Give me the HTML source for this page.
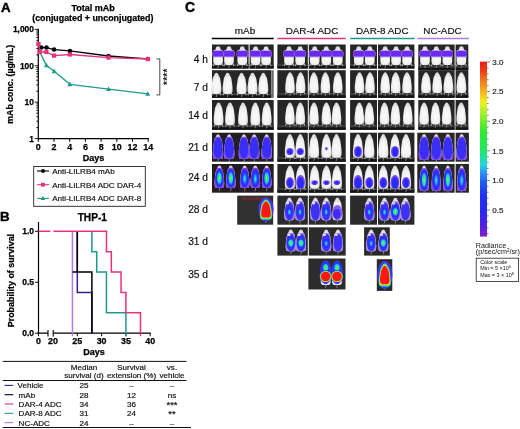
<!DOCTYPE html>
<html lang="en"><head><meta charset="utf-8"><title>Figure</title>
<style>html,body{margin:0;padding:0;background:#fff;}body{width:520px;height:429px;overflow:hidden;}svg{display:block;font-family:"Liberation Sans", Arial, Helvetica, sans-serif;}</style></head><body>
<svg width="520" height="429" viewBox="0 0 520 429">
<defs>
<filter id="b3" x="-20%" y="-20%" width="140%" height="140%"><feGaussianBlur stdDeviation="0.45"/></filter>
<filter id="b5" x="-20%" y="-20%" width="140%" height="140%"><feGaussianBlur stdDeviation="0.6"/></filter>
<filter id="b6" x="-30%" y="-30%" width="160%" height="160%"><feGaussianBlur stdDeviation="0.7"/></filter>
<filter id="b10" x="-30%" y="-30%" width="160%" height="160%"><feGaussianBlur stdDeviation="1.0"/></filter>
<filter id="tb" x="-5%" y="-5%" width="110%" height="110%"><feGaussianBlur stdDeviation="0.25"/></filter>
<linearGradient id="cbar" x1="0" y1="0" x2="0" y2="1"><stop offset="0" stop-color="#e8201a"/><stop offset="0.05" stop-color="#ee3a1a"/><stop offset="0.1" stop-color="#f07020"/><stop offset="0.175" stop-color="#f5b820"/><stop offset="0.23" stop-color="#f0f020"/><stop offset="0.3" stop-color="#a0f030"/><stop offset="0.4" stop-color="#30e830"/><stop offset="0.5" stop-color="#20e860"/><stop offset="0.55" stop-color="#20e0a0"/><stop offset="0.59" stop-color="#28d4e0"/><stop offset="0.637" stop-color="#3090f0"/><stop offset="0.685" stop-color="#2060f0"/><stop offset="0.767" stop-color="#2030f0"/><stop offset="0.85" stop-color="#2828f0"/><stop offset="0.935" stop-color="#5020e0"/><stop offset="1" stop-color="#8020d0"/></linearGradient>
<radialGradient id="gRed"><stop offset="0" stop-color="#ff1010"/><stop offset="0.48" stop-color="#ff1010"/><stop offset="0.58" stop-color="#ffe020"/><stop offset="0.68" stop-color="#40f040"/><stop offset="0.78" stop-color="#20d8f0"/><stop offset="0.9" stop-color="#2030ff"/><stop offset="1" stop-color="#6a20e0"/></radialGradient>
<radialGradient id="gGreen"><stop offset="0" stop-color="#b0f030"/><stop offset="0.25" stop-color="#30f060"/><stop offset="0.5" stop-color="#20d0f0"/><stop offset="0.75" stop-color="#2040ff"/><stop offset="1" stop-color="#2a28f0"/></radialGradient>
<radialGradient id="gCyan"><stop offset="0" stop-color="#30f0c0"/><stop offset="0.35" stop-color="#20b0f8"/><stop offset="0.7" stop-color="#2040ff"/><stop offset="1" stop-color="#2a28f0"/></radialGradient>
<radialGradient id="gBlue"><stop offset="0" stop-color="#2060ff"/><stop offset="0.6" stop-color="#2a2cff"/><stop offset="1" stop-color="#5a28e8"/></radialGradient>
<radialGradient id="gBody" cx="0.5" cy="0.6" r="0.62"><stop offset="0" stop-color="#fbfbfb"/><stop offset="0.6" stop-color="#f1f1f1"/><stop offset="1" stop-color="#cfcfcf"/></radialGradient>
</defs>
<rect x="0" y="0" width="520" height="429" fill="#fff"/>
<g id="panelA">
<text x="0.90" y="11.60" font-size="13.3" font-weight="bold" text-anchor="start" fill="#000" stroke="#000" stroke-width="0.4">A</text>
<text x="93.20" y="11.10" font-size="9.0" font-weight="bold" text-anchor="middle" fill="#000" stroke="#000" stroke-width="0.25">Total mAb</text>
<text x="92.80" y="21.10" font-size="8.85" font-weight="bold" text-anchor="middle" fill="#000" stroke="#000" stroke-width="0.25">(conjugated + unconjugated)</text>
<path d="M38.30,28.80 V139.20 M37.70,138.60 H148.80" stroke="#000" stroke-width="1.2" fill="none"/>
<path d="M34.70,138.60 H38.30 M36.30,127.64 H38.30 M36.30,121.23 H38.30 M36.30,116.69 H38.30 M36.30,113.16 H38.30 M36.30,110.28 H38.30 M36.30,107.84 H38.30 M36.30,105.73 H38.30 M36.30,103.87 H38.30 M34.70,102.20 H38.30 M36.30,91.24 H38.30 M36.30,84.83 H38.30 M36.30,80.29 H38.30 M36.30,76.76 H38.30 M36.30,73.88 H38.30 M36.30,71.44 H38.30 M36.30,69.33 H38.30 M36.30,67.47 H38.30 M34.70,65.80 H38.30 M36.30,54.84 H38.30 M36.30,48.43 H38.30 M36.30,43.89 H38.30 M36.30,40.36 H38.30 M36.30,37.48 H38.30 M36.30,35.04 H38.30 M36.30,32.93 H38.30 M36.30,31.07 H38.30 M34.70,29.40 H38.30" stroke="#000" stroke-width="0.9" fill="none"/>
<path d="M38.30,138.60 V141.80 M54.00,138.60 V141.80 M69.70,138.60 V141.80 M85.40,138.60 V141.80 M101.10,138.60 V141.80 M116.80,138.60 V141.80 M132.50,138.60 V141.80 M148.20,138.60 V141.80" stroke="#000" stroke-width="1.0" fill="none"/>
<text x="33.90" y="32.40" font-size="8.4" font-weight="bold" text-anchor="end" fill="#000" stroke="#000" stroke-width="0.25">1,000</text>
<text x="33.90" y="68.80" font-size="8.4" font-weight="bold" text-anchor="end" fill="#000" stroke="#000" stroke-width="0.25">100</text>
<text x="33.90" y="105.20" font-size="8.4" font-weight="bold" text-anchor="end" fill="#000" stroke="#000" stroke-width="0.25">10</text>
<text x="33.90" y="141.60" font-size="8.4" font-weight="bold" text-anchor="end" fill="#000" stroke="#000" stroke-width="0.25">1</text>
<text x="38.30" y="149.50" font-size="8.9" font-weight="bold" text-anchor="middle" fill="#000" stroke="#000" stroke-width="0.25">0</text>
<text x="54.00" y="149.50" font-size="8.9" font-weight="bold" text-anchor="middle" fill="#000" stroke="#000" stroke-width="0.25">2</text>
<text x="69.70" y="149.50" font-size="8.9" font-weight="bold" text-anchor="middle" fill="#000" stroke="#000" stroke-width="0.25">4</text>
<text x="85.40" y="149.50" font-size="8.9" font-weight="bold" text-anchor="middle" fill="#000" stroke="#000" stroke-width="0.25">6</text>
<text x="101.10" y="149.50" font-size="8.9" font-weight="bold" text-anchor="middle" fill="#000" stroke="#000" stroke-width="0.25">8</text>
<text x="116.80" y="149.50" font-size="8.9" font-weight="bold" text-anchor="middle" fill="#000" stroke="#000" stroke-width="0.25">10</text>
<text x="132.50" y="149.50" font-size="8.9" font-weight="bold" text-anchor="middle" fill="#000" stroke="#000" stroke-width="0.25">12</text>
<text x="148.20" y="149.50" font-size="8.9" font-weight="bold" text-anchor="middle" fill="#000" stroke="#000" stroke-width="0.25">14</text>
<text x="93.40" y="161.20" font-size="9.0" font-weight="bold" text-anchor="middle" fill="#000" stroke="#000" stroke-width="0.25">Days</text>
<text transform="translate(12.7,84.2) rotate(-90)" font-size="8.75" font-weight="bold" text-anchor="middle" fill="#000" stroke="#000" stroke-width="0.25">mAb conc. (µg/mL)</text>
<polyline points="39.8,52.0 46.4,65.4 54.1,71.3 69.9,84.3 108.5,89.2 147.8,93.9" fill="none" stroke="#1d9a8c" stroke-width="1.3" stroke-linejoin="round"/>
<path d="M46.4,62.7 L48.9,67.3 H43.9 Z" fill="#1d9a8c"/>
<path d="M54.1,68.6 L56.6,73.2 H51.6 Z" fill="#1d9a8c"/>
<path d="M69.9,81.6 L72.4,86.2 H67.4 Z" fill="#1d9a8c"/>
<path d="M108.5,86.5 L111.0,91.1 H106.0 Z" fill="#1d9a8c"/>
<path d="M147.8,91.2 L150.3,95.8 H145.3 Z" fill="#1d9a8c"/>
<polyline points="41.4,47.6 46.5,47.6 54.1,49.6 69.9,50.9 108.5,56.0 147.8,58.9" fill="none" stroke="#000" stroke-width="1.3" stroke-linejoin="round"/>
<circle cx="41.4" cy="47.6" r="2.25" fill="#000"/>
<circle cx="46.5" cy="47.6" r="2.25" fill="#000"/>
<circle cx="54.1" cy="49.6" r="2.25" fill="#000"/>
<circle cx="69.9" cy="50.9" r="2.25" fill="#000"/>
<circle cx="108.5" cy="56.0" r="2.25" fill="#000"/>
<circle cx="147.8" cy="58.9" r="2.25" fill="#000"/>
<polyline points="38.5,43.9 39.8,52.0 46.4,52.0 54.1,55.6 69.9,54.5 108.5,57.6 147.8,59.0" fill="none" stroke="#e6317e" stroke-width="1.3" stroke-linejoin="round"/>
<rect x="36.4" y="41.8" width="4.2" height="4.2" fill="#e6317e"/>
<rect x="37.7" y="49.9" width="4.2" height="4.2" fill="#e6317e"/>
<rect x="44.3" y="49.9" width="4.2" height="4.2" fill="#e6317e"/>
<rect x="52.0" y="53.5" width="4.2" height="4.2" fill="#e6317e"/>
<rect x="67.8" y="52.4" width="4.2" height="4.2" fill="#e6317e"/>
<rect x="106.4" y="55.5" width="4.2" height="4.2" fill="#e6317e"/>
<rect x="145.7" y="56.9" width="4.2" height="4.2" fill="#e6317e"/>
<path d="M156.4,58.9 H159.8 V94.9 H156.4" fill="none" stroke="#333" stroke-width="0.9"/>
<text transform="translate(171.0,76.7) rotate(-90)" font-size="10" font-weight="bold" text-anchor="middle" fill="#222" letter-spacing="0.2">****</text>
<rect x="33.7" y="166.5" width="111.6" height="39.8" fill="#fff" stroke="#222" stroke-width="0.9"/>
<path d="M37.0,171.0 H49.0" stroke="#000" stroke-width="1.1"/>
<circle cx="43.0" cy="171.0" r="2.0" fill="#000"/>
<text x="52.20" y="173.95" font-size="8.1" text-anchor="start" fill="#111" stroke="#111" stroke-width="0.18">Anti-LILRB4 mAb</text>
<path d="M37.0,184.7 H49.0" stroke="#e6317e" stroke-width="1.1"/>
<rect x="41.0" y="182.8" width="3.8" height="3.8" fill="#e6317e"/>
<text x="52.20" y="187.65" font-size="8.1" text-anchor="start" fill="#111" stroke="#111" stroke-width="0.18">Anti-LILRB4 ADC DAR-4</text>
<path d="M37.0,198.4 H49.0" stroke="#1d9a8c" stroke-width="1.1"/>
<path d="M42.9,196.0 L45.2,200.1 H40.6 Z" fill="#1d9a8c"/>
<text x="52.20" y="201.35" font-size="8.1" text-anchor="start" fill="#111" stroke="#111" stroke-width="0.18">Anti-LILRB4 ADC DAR-8</text>
</g>
<g id="panelB">
<text x="0.10" y="221.30" font-size="13.3" font-weight="bold" text-anchor="start" fill="#000" stroke="#000" stroke-width="0.4">B</text>
<text x="92.30" y="220.60" font-size="10.1" font-weight="bold" text-anchor="middle" fill="#000" stroke="#000" stroke-width="0.25">THP-1</text>
<path d="M38.5,222.0 V333.80" stroke="#000" stroke-width="1.2" fill="none"/>
<path d="M37.90,333.20 H48.0 M53.2,333.20 H150.80" stroke="#000" stroke-width="1.2" fill="none"/>
<path d="M48.0,330.00 V336.40 M53.2,330.00 V336.40" stroke="#000" stroke-width="1.1" fill="none"/>
<path d="M35.10,333.20 H38.50 M35.10,282.25 H38.50 M35.10,231.30 H38.50 M38.50,333.20 V336.20 M77.30,333.20 V336.20 M101.60,333.20 V336.20 M125.90,333.20 V336.20 M150.20,333.20 V336.20" stroke="#000" stroke-width="1.0" fill="none"/>
<text x="34.10" y="336.20" font-size="8.6" font-weight="bold" text-anchor="end" fill="#000" stroke="#000" stroke-width="0.25">0.0</text>
<text x="34.10" y="285.25" font-size="8.6" font-weight="bold" text-anchor="end" fill="#000" stroke="#000" stroke-width="0.25">0.5</text>
<text x="34.10" y="234.30" font-size="8.6" font-weight="bold" text-anchor="end" fill="#000" stroke="#000" stroke-width="0.25">1.0</text>
<text x="38.50" y="344.20" font-size="8.9" font-weight="bold" text-anchor="middle" fill="#000" stroke="#000" stroke-width="0.25">0</text>
<text x="53.00" y="344.20" font-size="8.9" font-weight="bold" text-anchor="middle" fill="#000" stroke="#000" stroke-width="0.25">20</text>
<text x="77.30" y="344.20" font-size="8.9" font-weight="bold" text-anchor="middle" fill="#000" stroke="#000" stroke-width="0.25">25</text>
<text x="101.60" y="344.20" font-size="8.9" font-weight="bold" text-anchor="middle" fill="#000" stroke="#000" stroke-width="0.25">30</text>
<text x="125.90" y="344.20" font-size="8.9" font-weight="bold" text-anchor="middle" fill="#000" stroke="#000" stroke-width="0.25">35</text>
<text x="150.20" y="344.20" font-size="8.9" font-weight="bold" text-anchor="middle" fill="#000" stroke="#000" stroke-width="0.25">40</text>
<text x="94.00" y="354.50" font-size="9.0" font-weight="bold" text-anchor="middle" fill="#000" stroke="#000" stroke-width="0.25">Days</text>
<text transform="translate(13.7,280.6) rotate(-90)" font-size="8.95" font-weight="bold" text-anchor="middle" fill="#000" stroke="#000" stroke-width="0.25">Probability of survival</text>
<path d="M72.44,231.30 L72.44,333.20" fill="none" stroke="#b07be8" stroke-width="1.5" stroke-linejoin="miter"/>
<path d="M77.30,231.30 L77.30,292.44 L91.88,292.44 L91.88,333.20" fill="none" stroke="#3a1d8f" stroke-width="1.5" stroke-linejoin="miter"/>
<path d="M77.30,231.30 L77.30,272.06 L72.44,272.06 L91.88,272.06 L91.88,333.20" fill="none" stroke="#000" stroke-width="1.5" stroke-linejoin="miter"/>
<path d="M91.88,231.30 L91.88,251.68 L96.74,251.68 L96.74,272.06 L106.46,272.06 L106.46,312.82 L125.90,312.82 L125.90,333.20" fill="none" stroke="#1d9a8c" stroke-width="1.5" stroke-linejoin="miter"/>
<path d="M38.50,231.30 H50.3 M53.4,231.30 H106.46" stroke="#e6317e" stroke-width="1.5" fill="none"/>
<path d="M105.86,231.30 L106.46,231.30 L106.46,251.68 L111.32,251.68 L111.32,272.06 L121.04,272.06 L121.04,292.44 L125.90,292.44 L125.90,312.82 L140.48,312.82 L140.48,333.20" fill="none" stroke="#e6317e" stroke-width="1.5" stroke-linejoin="miter"/>
<path d="M72.44,333.20 v3" stroke="#b07be8" stroke-width="1.3"/>
<path d="M125.90,333.20 v3" stroke="#1d9a8c" stroke-width="1.3"/>
<path d="M140.48,333.20 v3" stroke="#e6317e" stroke-width="1.3"/>
<path d="M2.8,361.4 H186.4 M2.8,380.5 H186.4 M2.8,427.5 H191.0" stroke="#111" stroke-width="1.0" fill="none"/>
<text x="84.00" y="369.60" font-size="8.05" text-anchor="middle" fill="#111" stroke="#111" stroke-width="0.18">Median</text>
<text x="84.00" y="378.40" font-size="8.05" text-anchor="middle" fill="#111" stroke="#111" stroke-width="0.18">survival (d)</text>
<text x="131.50" y="369.60" font-size="8.05" text-anchor="middle" fill="#111" stroke="#111" stroke-width="0.18">Survival</text>
<text x="131.50" y="378.40" font-size="8.05" text-anchor="middle" fill="#111" stroke="#111" stroke-width="0.18">extension (%)</text>
<text x="172.00" y="369.60" font-size="8.05" text-anchor="middle" fill="#111" stroke="#111" stroke-width="0.18">vs.</text>
<text x="172.00" y="378.40" font-size="8.05" text-anchor="middle" fill="#111" stroke="#111" stroke-width="0.18">vehicle</text>
<path d="M4.6,385.4 H13.2" stroke="#3a1d8f" stroke-width="1.1"/>
<text x="17.60" y="388.30" font-size="8.05" text-anchor="start" fill="#111" stroke="#111" stroke-width="0.18">Vehicle</text>
<text x="84.00" y="388.30" font-size="8.05" text-anchor="middle" fill="#111" stroke="#111" stroke-width="0.18">25</text>
<text x="131.50" y="388.30" font-size="8.05" text-anchor="middle" fill="#111" stroke="#111" stroke-width="0.18">–</text>
<text x="172.00" y="388.30" font-size="8.05" text-anchor="middle" fill="#111" stroke="#111" stroke-width="0.18">–</text>
<path d="M4.6,394.7 H13.2" stroke="#000" stroke-width="1.1"/>
<text x="18.60" y="397.60" font-size="8.05" text-anchor="start" fill="#111" stroke="#111" stroke-width="0.18">mAb</text>
<text x="84.00" y="397.60" font-size="8.05" text-anchor="middle" fill="#111" stroke="#111" stroke-width="0.18">28</text>
<text x="131.50" y="397.60" font-size="8.05" text-anchor="middle" fill="#111" stroke="#111" stroke-width="0.18">12</text>
<text x="172.00" y="397.60" font-size="8.05" text-anchor="middle" fill="#111" stroke="#111" stroke-width="0.18">ns</text>
<path d="M4.6,404.0 H13.2" stroke="#e6317e" stroke-width="1.1"/>
<text x="18.60" y="406.90" font-size="8.05" text-anchor="start" fill="#111" stroke="#111" stroke-width="0.18">DAR-4 ADC</text>
<text x="84.00" y="406.90" font-size="8.05" text-anchor="middle" fill="#111" stroke="#111" stroke-width="0.18">34</text>
<text x="131.50" y="406.90" font-size="8.05" text-anchor="middle" fill="#111" stroke="#111" stroke-width="0.18">36</text>
<text x="172.00" y="407.60" font-size="9.4" text-anchor="middle" fill="#111" stroke="#111" stroke-width="0.18">***</text>
<path d="M4.6,413.3 H13.2" stroke="#1d9a8c" stroke-width="1.1"/>
<text x="18.60" y="416.20" font-size="8.05" text-anchor="start" fill="#111" stroke="#111" stroke-width="0.18">DAR-8 ADC</text>
<text x="84.00" y="416.20" font-size="8.05" text-anchor="middle" fill="#111" stroke="#111" stroke-width="0.18">31</text>
<text x="131.50" y="416.20" font-size="8.05" text-anchor="middle" fill="#111" stroke="#111" stroke-width="0.18">24</text>
<text x="172.00" y="416.90" font-size="9.4" text-anchor="middle" fill="#111" stroke="#111" stroke-width="0.18">**</text>
<path d="M4.6,422.6 H13.2" stroke="#b07be8" stroke-width="1.1"/>
<text x="18.60" y="425.50" font-size="8.05" text-anchor="start" fill="#111" stroke="#111" stroke-width="0.18">NC-ADC</text>
<text x="84.00" y="425.50" font-size="8.05" text-anchor="middle" fill="#111" stroke="#111" stroke-width="0.18">24</text>
<text x="131.50" y="425.50" font-size="8.05" text-anchor="middle" fill="#111" stroke="#111" stroke-width="0.18">–</text>
<text x="172.00" y="425.50" font-size="8.05" text-anchor="middle" fill="#111" stroke="#111" stroke-width="0.18">–</text>
</g>
<g id="panelC">
<text x="185.00" y="12.00" font-size="13.9" font-weight="bold" text-anchor="start" fill="#000" stroke="#000" stroke-width="0.4">C</text>
<text x="245.00" y="34.30" font-size="9.9" text-anchor="middle" fill="#111" stroke="#111" stroke-width="0.18">mAb</text>
<path d="M211.8,38.5 H273.7" stroke="#000" stroke-width="1.4"/>
<text x="312.00" y="34.30" font-size="9.9" text-anchor="middle" fill="#111" stroke="#111" stroke-width="0.18">DAR-4 ADC</text>
<path d="M277.4,38.5 H345.7" stroke="#e6317e" stroke-width="1.4"/>
<text x="382.30" y="34.30" font-size="9.9" text-anchor="middle" fill="#111" stroke="#111" stroke-width="0.18">DAR-8 ADC</text>
<path d="M350.2,38.5 H414.7" stroke="#1d9a8c" stroke-width="1.4"/>
<text x="442.50" y="34.30" font-size="9.9" text-anchor="middle" fill="#111" stroke="#111" stroke-width="0.18">NC-ADC</text>
<path d="M417.4,38.5 H469.0" stroke="#b07be8" stroke-width="1.4"/>
<text x="208.00" y="63.35" font-size="10.2" text-anchor="end" fill="#111" stroke="#111" stroke-width="0.18">4 h</text>
<text x="208.00" y="91.15" font-size="10.2" text-anchor="end" fill="#111" stroke="#111" stroke-width="0.18">7 d</text>
<text x="208.00" y="119.15" font-size="10.2" text-anchor="end" fill="#111" stroke="#111" stroke-width="0.18">14 d</text>
<text x="208.00" y="151.35" font-size="10.2" text-anchor="end" fill="#111" stroke="#111" stroke-width="0.18">21 d</text>
<text x="208.00" y="181.15" font-size="10.2" text-anchor="end" fill="#111" stroke="#111" stroke-width="0.18">24 d</text>
<text x="208.00" y="213.05" font-size="10.2" text-anchor="end" fill="#111" stroke="#111" stroke-width="0.18">28 d</text>
<text x="208.00" y="244.55" font-size="10.2" text-anchor="end" fill="#111" stroke="#111" stroke-width="0.18">31 d</text>
<text x="208.00" y="277.55" font-size="10.2" text-anchor="end" fill="#111" stroke="#111" stroke-width="0.18">35 d</text>
<rect x="212.0" y="44.5" width="36.6" height="24.0" fill="#262626"/>
<rect x="212.0" y="63.9" width="36.6" height="2.2" fill="#3c3c3c"/>
<rect x="212.0" y="66.1" width="36.6" height="2.4" fill="#141414"/>
<rect x="249.6" y="44.5" width="24.1" height="24.0" fill="#262626"/>
<rect x="249.6" y="63.9" width="24.1" height="2.2" fill="#3c3c3c"/>
<rect x="249.6" y="66.1" width="24.1" height="2.4" fill="#141414"/>
<path d="M218.10,46.30 C219.77,46.30 220.44,47.23 220.44,48.72 C220.44,50.21 223.22,50.02 223.67,52.25 C224.00,54.48 223.45,56.34 222.78,57.46 C223.22,60.81 223.11,64.90 220.33,64.90 L215.87,64.90 C213.09,64.90 212.98,60.81 213.42,57.46 C212.75,56.34 212.20,54.48 212.53,52.25 C212.98,50.02 215.76,50.21 215.76,48.72 C215.76,47.23 216.43,46.30 218.10,46.30 Z" fill="url(#gBody)" filter="url(#b5)"/>
<path d="M218.1,64.4 q0.6,2 -0.3,3.6" stroke="#bdbdbd" stroke-width="0.6" fill="none"/>
<path d="M214.1,63.7 l-1.0,2.4 M222.1,63.7 l1.0,2.4" stroke="#a8a8a8" stroke-width="1.1" fill="none" filter="url(#b3)"/>
<clipPath id="c1"><path d="M218.10,46.30 C219.77,46.30 220.44,47.23 220.44,48.72 C220.44,50.21 223.22,50.02 223.67,52.25 C224.00,54.48 223.45,56.34 222.78,57.46 C223.22,60.81 223.11,64.90 220.33,64.90 L215.87,64.90 C213.09,64.90 212.98,60.81 213.42,57.46 C212.75,56.34 212.20,54.48 212.53,52.25 C212.98,50.02 215.76,50.21 215.76,48.72 C215.76,47.23 216.43,46.30 218.10,46.30 Z"/></clipPath>
<g clip-path="url(#c1)" filter="url(#b3)">
<rect x="207.0" y="50.8" width="22.3" height="6.1" fill="#6c2cf0"/>
<rect x="207.0" y="50.0" width="22.3" height="0.9" fill="#b59af5"/>
<rect x="207.0" y="56.7" width="22.3" height="0.9" fill="#c9b6f7"/>
</g>
<path d="M229.00,46.30 C230.67,46.30 231.34,47.23 231.34,48.72 C231.34,50.21 234.12,50.02 234.57,52.25 C234.90,54.48 234.35,56.34 233.68,57.46 C234.12,60.81 234.01,64.90 231.23,64.90 L226.77,64.90 C223.99,64.90 223.88,60.81 224.32,57.46 C223.65,56.34 223.10,54.48 223.43,52.25 C223.88,50.02 226.66,50.21 226.66,48.72 C226.66,47.23 227.33,46.30 229.00,46.30 Z" fill="url(#gBody)" filter="url(#b5)"/>
<path d="M229.0,64.4 q0.6,2 -0.3,3.6" stroke="#bdbdbd" stroke-width="0.6" fill="none"/>
<path d="M225.0,63.7 l-1.0,2.4 M233.0,63.7 l1.0,2.4" stroke="#a8a8a8" stroke-width="1.1" fill="none" filter="url(#b3)"/>
<clipPath id="c2"><path d="M229.00,46.30 C230.67,46.30 231.34,47.23 231.34,48.72 C231.34,50.21 234.12,50.02 234.57,52.25 C234.90,54.48 234.35,56.34 233.68,57.46 C234.12,60.81 234.01,64.90 231.23,64.90 L226.77,64.90 C223.99,64.90 223.88,60.81 224.32,57.46 C223.65,56.34 223.10,54.48 223.43,52.25 C223.88,50.02 226.66,50.21 226.66,48.72 C226.66,47.23 227.33,46.30 229.00,46.30 Z"/></clipPath>
<g clip-path="url(#c2)" filter="url(#b3)">
<rect x="217.9" y="50.8" width="22.3" height="6.1" fill="#6c2cf0"/>
<rect x="217.9" y="50.0" width="22.3" height="0.9" fill="#b59af5"/>
<rect x="217.9" y="56.7" width="22.3" height="0.9" fill="#c9b6f7"/>
</g>
<path d="M242.30,46.30 C243.97,46.30 244.64,47.23 244.64,48.72 C244.64,50.21 247.42,50.02 247.87,52.25 C248.20,54.48 247.65,56.34 246.98,57.46 C247.42,60.81 247.31,64.90 244.53,64.90 L240.07,64.90 C237.29,64.90 237.18,60.81 237.62,57.46 C236.95,56.34 236.40,54.48 236.73,52.25 C237.18,50.02 239.96,50.21 239.96,48.72 C239.96,47.23 240.63,46.30 242.30,46.30 Z" fill="url(#gBody)" filter="url(#b5)"/>
<path d="M242.3,64.4 q0.6,2 -0.3,3.6" stroke="#bdbdbd" stroke-width="0.6" fill="none"/>
<path d="M238.3,63.7 l-1.0,2.4 M246.3,63.7 l1.0,2.4" stroke="#a8a8a8" stroke-width="1.1" fill="none" filter="url(#b3)"/>
<clipPath id="c3"><path d="M242.30,46.30 C243.97,46.30 244.64,47.23 244.64,48.72 C244.64,50.21 247.42,50.02 247.87,52.25 C248.20,54.48 247.65,56.34 246.98,57.46 C247.42,60.81 247.31,64.90 244.53,64.90 L240.07,64.90 C237.29,64.90 237.18,60.81 237.62,57.46 C236.95,56.34 236.40,54.48 236.73,52.25 C237.18,50.02 239.96,50.21 239.96,48.72 C239.96,47.23 240.63,46.30 242.30,46.30 Z"/></clipPath>
<g clip-path="url(#c3)" filter="url(#b3)">
<rect x="231.2" y="50.8" width="22.3" height="6.1" fill="#6c2cf0"/>
<rect x="231.2" y="50.0" width="22.3" height="0.9" fill="#b59af5"/>
<rect x="231.2" y="56.7" width="22.3" height="0.9" fill="#c9b6f7"/>
</g>
<path d="M255.60,46.30 C257.27,46.30 257.94,47.23 257.94,48.72 C257.94,50.21 260.72,50.02 261.17,52.25 C261.50,54.48 260.95,56.34 260.28,57.46 C260.72,60.81 260.61,64.90 257.83,64.90 L253.37,64.90 C250.59,64.90 250.48,60.81 250.92,57.46 C250.25,56.34 249.70,54.48 250.03,52.25 C250.48,50.02 253.26,50.21 253.26,48.72 C253.26,47.23 253.93,46.30 255.60,46.30 Z" fill="url(#gBody)" filter="url(#b5)"/>
<path d="M255.6,64.4 q0.6,2 -0.3,3.6" stroke="#bdbdbd" stroke-width="0.6" fill="none"/>
<path d="M251.6,63.7 l-1.0,2.4 M259.6,63.7 l1.0,2.4" stroke="#a8a8a8" stroke-width="1.1" fill="none" filter="url(#b3)"/>
<clipPath id="c4"><path d="M255.60,46.30 C257.27,46.30 257.94,47.23 257.94,48.72 C257.94,50.21 260.72,50.02 261.17,52.25 C261.50,54.48 260.95,56.34 260.28,57.46 C260.72,60.81 260.61,64.90 257.83,64.90 L253.37,64.90 C250.59,64.90 250.48,60.81 250.92,57.46 C250.25,56.34 249.70,54.48 250.03,52.25 C250.48,50.02 253.26,50.21 253.26,48.72 C253.26,47.23 253.93,46.30 255.60,46.30 Z"/></clipPath>
<g clip-path="url(#c4)" filter="url(#b3)">
<rect x="244.5" y="50.8" width="22.3" height="6.1" fill="#6c2cf0"/>
<rect x="244.5" y="50.0" width="22.3" height="0.9" fill="#b59af5"/>
<rect x="244.5" y="56.7" width="22.3" height="0.9" fill="#c9b6f7"/>
</g>
<path d="M266.10,46.30 C267.77,46.30 268.44,47.23 268.44,48.72 C268.44,50.21 271.22,50.02 271.67,52.25 C272.00,54.48 271.45,56.34 270.78,57.46 C271.22,60.81 271.11,64.90 268.33,64.90 L263.87,64.90 C261.09,64.90 260.98,60.81 261.42,57.46 C260.75,56.34 260.20,54.48 260.53,52.25 C260.98,50.02 263.76,50.21 263.76,48.72 C263.76,47.23 264.43,46.30 266.10,46.30 Z" fill="url(#gBody)" filter="url(#b5)"/>
<path d="M266.1,64.4 q0.6,2 -0.3,3.6" stroke="#bdbdbd" stroke-width="0.6" fill="none"/>
<path d="M262.1,63.7 l-1.0,2.4 M270.1,63.7 l1.0,2.4" stroke="#a8a8a8" stroke-width="1.1" fill="none" filter="url(#b3)"/>
<clipPath id="c5"><path d="M266.10,46.30 C267.77,46.30 268.44,47.23 268.44,48.72 C268.44,50.21 271.22,50.02 271.67,52.25 C272.00,54.48 271.45,56.34 270.78,57.46 C271.22,60.81 271.11,64.90 268.33,64.90 L263.87,64.90 C261.09,64.90 260.98,60.81 261.42,57.46 C260.75,56.34 260.20,54.48 260.53,52.25 C260.98,50.02 263.76,50.21 263.76,48.72 C263.76,47.23 264.43,46.30 266.10,46.30 Z"/></clipPath>
<g clip-path="url(#c5)" filter="url(#b3)">
<rect x="255.0" y="50.8" width="22.3" height="6.1" fill="#6c2cf0"/>
<rect x="255.0" y="50.0" width="22.3" height="0.9" fill="#b59af5"/>
<rect x="255.0" y="56.7" width="22.3" height="0.9" fill="#c9b6f7"/>
</g>
<rect x="212.0" y="70.2" width="59.4" height="27.6" fill="#262626"/>
<rect x="212.0" y="93.2" width="59.4" height="2.2" fill="#3c3c3c"/>
<rect x="212.0" y="95.4" width="59.4" height="2.4" fill="#141414"/>
<rect x="271.6" y="70.2" width="2.1" height="27.6" fill="#6a6a6a"/>
<path d="M216.40,72.80 C217.40,72.80 218.00,73.65 218.50,74.92 C219.20,76.40 219.99,77.04 220.34,79.58 C220.64,82.34 221.39,85.52 221.39,89.34 C221.39,92.73 220.69,94.00 218.90,94.00 L213.90,94.00 C212.11,94.00 211.41,92.73 211.41,89.34 C211.41,85.52 212.16,82.34 212.46,79.58 C212.81,77.04 213.60,76.40 214.30,74.92 C214.80,73.65 215.40,72.80 216.40,72.80 Z" fill="url(#gBody)" filter="url(#b5)"/>
<path d="M216.4,93.5 q0.6,2 -0.3,3.6" stroke="#bdbdbd" stroke-width="0.6" fill="none"/>
<path d="M212.8,92.8 l-1.0,2.4 M220.0,92.8 l1.0,2.4" stroke="#a8a8a8" stroke-width="1.1" fill="none" filter="url(#b3)"/>
<path d="M227.60,72.80 C228.60,72.80 229.20,73.65 229.70,74.92 C230.40,76.40 231.19,77.04 231.54,79.58 C231.84,82.34 232.59,85.52 232.59,89.34 C232.59,92.73 231.89,94.00 230.10,94.00 L225.10,94.00 C223.31,94.00 222.61,92.73 222.61,89.34 C222.61,85.52 223.36,82.34 223.66,79.58 C224.01,77.04 224.80,76.40 225.50,74.92 C226.00,73.65 226.60,72.80 227.60,72.80 Z" fill="url(#gBody)" filter="url(#b5)"/>
<path d="M227.6,93.5 q0.6,2 -0.3,3.6" stroke="#bdbdbd" stroke-width="0.6" fill="none"/>
<path d="M224.0,92.8 l-1.0,2.4 M231.2,92.8 l1.0,2.4" stroke="#a8a8a8" stroke-width="1.1" fill="none" filter="url(#b3)"/>
<path d="M241.60,72.80 C242.60,72.80 243.20,73.65 243.70,74.92 C244.40,76.40 245.19,77.04 245.54,79.58 C245.84,82.34 246.59,85.52 246.59,89.34 C246.59,92.73 245.89,94.00 244.10,94.00 L239.10,94.00 C237.31,94.00 236.61,92.73 236.61,89.34 C236.61,85.52 237.36,82.34 237.66,79.58 C238.01,77.04 238.80,76.40 239.50,74.92 C240.00,73.65 240.60,72.80 241.60,72.80 Z" fill="url(#gBody)" filter="url(#b5)"/>
<path d="M241.6,93.5 q0.6,2 -0.3,3.6" stroke="#bdbdbd" stroke-width="0.6" fill="none"/>
<path d="M238.0,92.8 l-1.0,2.4 M245.2,92.8 l1.0,2.4" stroke="#a8a8a8" stroke-width="1.1" fill="none" filter="url(#b3)"/>
<path d="M252.50,72.80 C253.50,72.80 254.10,73.65 254.60,74.92 C255.30,76.40 256.09,77.04 256.44,79.58 C256.74,82.34 257.49,85.52 257.49,89.34 C257.49,92.73 256.79,94.00 255.00,94.00 L250.00,94.00 C248.21,94.00 247.51,92.73 247.51,89.34 C247.51,85.52 248.26,82.34 248.56,79.58 C248.91,77.04 249.70,76.40 250.40,74.92 C250.90,73.65 251.50,72.80 252.50,72.80 Z" fill="url(#gBody)" filter="url(#b5)"/>
<path d="M252.5,93.5 q0.6,2 -0.3,3.6" stroke="#bdbdbd" stroke-width="0.6" fill="none"/>
<path d="M248.9,92.8 l-1.0,2.4 M256.1,92.8 l1.0,2.4" stroke="#a8a8a8" stroke-width="1.1" fill="none" filter="url(#b3)"/>
<path d="M263.30,72.80 C264.30,72.80 264.90,73.65 265.40,74.92 C266.10,76.40 266.89,77.04 267.24,79.58 C267.54,82.34 268.29,85.52 268.29,89.34 C268.29,92.73 267.59,94.00 265.80,94.00 L260.80,94.00 C259.01,94.00 258.31,92.73 258.31,89.34 C258.31,85.52 259.06,82.34 259.36,79.58 C259.71,77.04 260.50,76.40 261.20,74.92 C261.70,73.65 262.30,72.80 263.30,72.80 Z" fill="url(#gBody)" filter="url(#b5)"/>
<path d="M263.3,93.5 q0.6,2 -0.3,3.6" stroke="#bdbdbd" stroke-width="0.6" fill="none"/>
<path d="M259.7,92.8 l-1.0,2.4 M266.9,92.8 l1.0,2.4" stroke="#a8a8a8" stroke-width="1.1" fill="none" filter="url(#b3)"/>
<rect x="212.0" y="100.0" width="61.7" height="29.8" fill="#262626"/>
<rect x="212.0" y="125.2" width="61.7" height="2.2" fill="#3c3c3c"/>
<rect x="212.0" y="127.4" width="61.7" height="2.4" fill="#141414"/>
<path d="M218.60,102.60 C219.58,102.60 220.17,103.50 220.66,104.86 C221.34,106.44 222.13,107.12 222.47,109.83 C222.76,112.77 223.50,116.16 223.50,120.23 C223.50,123.84 222.81,125.20 221.05,125.20 L216.15,125.20 C214.39,125.20 213.70,123.84 213.70,120.23 C213.70,116.16 214.44,112.77 214.73,109.83 C215.07,107.12 215.86,106.44 216.54,104.86 C217.03,103.50 217.62,102.60 218.60,102.60 Z" fill="url(#gBody)" filter="url(#b5)"/>
<path d="M218.6,124.7 q0.6,2 -0.3,3.6" stroke="#bdbdbd" stroke-width="0.6" fill="none"/>
<path d="M215.1,124.0 l-1.0,2.4 M222.1,124.0 l1.0,2.4" stroke="#a8a8a8" stroke-width="1.1" fill="none" filter="url(#b3)"/>
<path d="M230.00,102.60 C230.98,102.60 231.57,103.50 232.06,104.86 C232.74,106.44 233.53,107.12 233.87,109.83 C234.16,112.77 234.90,116.16 234.90,120.23 C234.90,123.84 234.21,125.20 232.45,125.20 L227.55,125.20 C225.79,125.20 225.10,123.84 225.10,120.23 C225.10,116.16 225.84,112.77 226.13,109.83 C226.47,107.12 227.26,106.44 227.94,104.86 C228.43,103.50 229.02,102.60 230.00,102.60 Z" fill="url(#gBody)" filter="url(#b5)"/>
<path d="M230.0,124.7 q0.6,2 -0.3,3.6" stroke="#bdbdbd" stroke-width="0.6" fill="none"/>
<path d="M226.5,124.0 l-1.0,2.4 M233.5,124.0 l1.0,2.4" stroke="#a8a8a8" stroke-width="1.1" fill="none" filter="url(#b3)"/>
<path d="M243.00,102.60 C243.98,102.60 244.57,103.50 245.06,104.86 C245.74,106.44 246.53,107.12 246.87,109.83 C247.16,112.77 247.90,116.16 247.90,120.23 C247.90,123.84 247.21,125.20 245.45,125.20 L240.55,125.20 C238.79,125.20 238.10,123.84 238.10,120.23 C238.10,116.16 238.84,112.77 239.13,109.83 C239.47,107.12 240.26,106.44 240.94,104.86 C241.43,103.50 242.02,102.60 243.00,102.60 Z" fill="url(#gBody)" filter="url(#b5)"/>
<path d="M243.0,124.7 q0.6,2 -0.3,3.6" stroke="#bdbdbd" stroke-width="0.6" fill="none"/>
<path d="M239.5,124.0 l-1.0,2.4 M246.5,124.0 l1.0,2.4" stroke="#a8a8a8" stroke-width="1.1" fill="none" filter="url(#b3)"/>
<path d="M255.30,102.60 C256.28,102.60 256.87,103.50 257.36,104.86 C258.04,106.44 258.83,107.12 259.17,109.83 C259.46,112.77 260.20,116.16 260.20,120.23 C260.20,123.84 259.51,125.20 257.75,125.20 L252.85,125.20 C251.09,125.20 250.40,123.84 250.40,120.23 C250.40,116.16 251.14,112.77 251.43,109.83 C251.77,107.12 252.56,106.44 253.24,104.86 C253.73,103.50 254.32,102.60 255.30,102.60 Z" fill="url(#gBody)" filter="url(#b5)"/>
<path d="M255.3,124.7 q0.6,2 -0.3,3.6" stroke="#bdbdbd" stroke-width="0.6" fill="none"/>
<path d="M251.8,124.0 l-1.0,2.4 M258.8,124.0 l1.0,2.4" stroke="#a8a8a8" stroke-width="1.1" fill="none" filter="url(#b3)"/>
<path d="M266.70,102.60 C267.68,102.60 268.27,103.50 268.76,104.86 C269.44,106.44 270.23,107.12 270.57,109.83 C270.86,112.77 271.60,116.16 271.60,120.23 C271.60,123.84 270.91,125.20 269.15,125.20 L264.25,125.20 C262.49,125.20 261.80,123.84 261.80,120.23 C261.80,116.16 262.54,112.77 262.83,109.83 C263.17,107.12 263.96,106.44 264.64,104.86 C265.13,103.50 265.72,102.60 266.70,102.60 Z" fill="url(#gBody)" filter="url(#b5)"/>
<path d="M266.7,124.7 q0.6,2 -0.3,3.6" stroke="#bdbdbd" stroke-width="0.6" fill="none"/>
<path d="M263.2,124.0 l-1.0,2.4 M270.2,124.0 l1.0,2.4" stroke="#a8a8a8" stroke-width="1.1" fill="none" filter="url(#b3)"/>
<rect x="212.0" y="132.7" width="61.7" height="29.0" fill="#202024"/>
<path d="M218.00,134.30 C219.04,134.30 219.66,135.29 220.18,136.78 C220.91,138.52 221.74,139.26 222.10,142.24 C222.41,145.46 223.19,149.18 223.19,153.64 C223.19,157.61 222.47,159.10 220.60,159.10 L215.40,159.10 C213.53,159.10 212.81,157.61 212.81,153.64 C212.81,149.18 213.59,145.46 213.90,142.24 C214.26,139.26 215.09,138.52 215.82,136.78 C216.34,135.29 216.96,134.30 218.00,134.30 Z" fill="url(#gBody)" filter="url(#b5)"/>
<path d="M218.0,158.6 q0.6,2 -0.3,3.6" stroke="#bdbdbd" stroke-width="0.6" fill="none"/>
<clipPath id="c6"><path d="M218.00,134.30 C219.04,134.30 219.66,135.29 220.18,136.78 C220.91,138.52 221.74,139.26 222.10,142.24 C222.41,145.46 223.19,149.18 223.19,153.64 C223.19,157.61 222.47,159.10 220.60,159.10 L215.40,159.10 C213.53,159.10 212.81,157.61 212.81,153.64 C212.81,149.18 213.59,145.46 213.90,142.24 C214.26,139.26 215.09,138.52 215.82,136.78 C216.34,135.29 216.96,134.30 218.00,134.30 Z"/></clipPath>
<g clip-path="url(#c6)" filter="url(#b3)">
<rect x="207.6" y="136.8" width="20.8" height="24.8" fill="#8048ee"/>
<ellipse cx="218.0" cy="148.2" rx="4.6" ry="10.4" fill="#382ef6"/>
</g>
<path d="M229.20,134.30 C230.24,134.30 230.86,135.29 231.38,136.78 C232.11,138.52 232.94,139.26 233.30,142.24 C233.61,145.46 234.39,149.18 234.39,153.64 C234.39,157.61 233.67,159.10 231.80,159.10 L226.60,159.10 C224.73,159.10 224.01,157.61 224.01,153.64 C224.01,149.18 224.79,145.46 225.10,142.24 C225.46,139.26 226.29,138.52 227.02,136.78 C227.54,135.29 228.16,134.30 229.20,134.30 Z" fill="url(#gBody)" filter="url(#b5)"/>
<path d="M229.2,158.6 q0.6,2 -0.3,3.6" stroke="#bdbdbd" stroke-width="0.6" fill="none"/>
<clipPath id="c7"><path d="M229.20,134.30 C230.24,134.30 230.86,135.29 231.38,136.78 C232.11,138.52 232.94,139.26 233.30,142.24 C233.61,145.46 234.39,149.18 234.39,153.64 C234.39,157.61 233.67,159.10 231.80,159.10 L226.60,159.10 C224.73,159.10 224.01,157.61 224.01,153.64 C224.01,149.18 224.79,145.46 225.10,142.24 C225.46,139.26 226.29,138.52 227.02,136.78 C227.54,135.29 228.16,134.30 229.20,134.30 Z"/></clipPath>
<g clip-path="url(#c7)" filter="url(#b3)">
<rect x="218.8" y="136.8" width="20.8" height="24.8" fill="#8048ee"/>
<ellipse cx="229.2" cy="148.2" rx="4.6" ry="10.4" fill="#382ef6"/>
</g>
<path d="M243.90,134.30 C244.94,134.30 245.56,135.29 246.08,136.78 C246.81,138.52 247.64,139.26 248.00,142.24 C248.31,145.46 249.09,149.18 249.09,153.64 C249.09,157.61 248.37,159.10 246.50,159.10 L241.30,159.10 C239.43,159.10 238.71,157.61 238.71,153.64 C238.71,149.18 239.49,145.46 239.80,142.24 C240.16,139.26 240.99,138.52 241.72,136.78 C242.24,135.29 242.86,134.30 243.90,134.30 Z" fill="url(#gBody)" filter="url(#b5)"/>
<path d="M243.9,158.6 q0.6,2 -0.3,3.6" stroke="#bdbdbd" stroke-width="0.6" fill="none"/>
<clipPath id="c8"><path d="M243.90,134.30 C244.94,134.30 245.56,135.29 246.08,136.78 C246.81,138.52 247.64,139.26 248.00,142.24 C248.31,145.46 249.09,149.18 249.09,153.64 C249.09,157.61 248.37,159.10 246.50,159.10 L241.30,159.10 C239.43,159.10 238.71,157.61 238.71,153.64 C238.71,149.18 239.49,145.46 239.80,142.24 C240.16,139.26 240.99,138.52 241.72,136.78 C242.24,135.29 242.86,134.30 243.90,134.30 Z"/></clipPath>
<g clip-path="url(#c8)" filter="url(#b3)">
<rect x="233.5" y="136.8" width="20.8" height="24.8" fill="#8048ee"/>
<ellipse cx="243.9" cy="148.2" rx="4.6" ry="10.4" fill="#382ef6"/>
</g>
<path d="M254.20,134.30 C255.24,134.30 255.86,135.29 256.38,136.78 C257.11,138.52 257.94,139.26 258.30,142.24 C258.61,145.46 259.39,149.18 259.39,153.64 C259.39,157.61 258.67,159.10 256.80,159.10 L251.60,159.10 C249.73,159.10 249.01,157.61 249.01,153.64 C249.01,149.18 249.79,145.46 250.10,142.24 C250.46,139.26 251.29,138.52 252.02,136.78 C252.54,135.29 253.16,134.30 254.20,134.30 Z" fill="url(#gBody)" filter="url(#b5)"/>
<path d="M254.2,158.6 q0.6,2 -0.3,3.6" stroke="#bdbdbd" stroke-width="0.6" fill="none"/>
<clipPath id="c9"><path d="M254.20,134.30 C255.24,134.30 255.86,135.29 256.38,136.78 C257.11,138.52 257.94,139.26 258.30,142.24 C258.61,145.46 259.39,149.18 259.39,153.64 C259.39,157.61 258.67,159.10 256.80,159.10 L251.60,159.10 C249.73,159.10 249.01,157.61 249.01,153.64 C249.01,149.18 249.79,145.46 250.10,142.24 C250.46,139.26 251.29,138.52 252.02,136.78 C252.54,135.29 253.16,134.30 254.20,134.30 Z"/></clipPath>
<g clip-path="url(#c9)" filter="url(#b3)">
<rect x="243.8" y="136.8" width="20.8" height="24.8" fill="#8048ee"/>
<ellipse cx="254.2" cy="148.2" rx="4.6" ry="10.4" fill="#382ef6"/>
</g>
<path d="M266.70,134.30 C267.74,134.30 268.36,135.29 268.88,136.78 C269.61,138.52 270.44,139.26 270.80,142.24 C271.11,145.46 271.89,149.18 271.89,153.64 C271.89,157.61 271.17,159.10 269.30,159.10 L264.10,159.10 C262.23,159.10 261.51,157.61 261.51,153.64 C261.51,149.18 262.29,145.46 262.60,142.24 C262.96,139.26 263.79,138.52 264.52,136.78 C265.04,135.29 265.66,134.30 266.70,134.30 Z" fill="url(#gBody)" filter="url(#b5)"/>
<path d="M266.7,158.6 q0.6,2 -0.3,3.6" stroke="#bdbdbd" stroke-width="0.6" fill="none"/>
<clipPath id="c10"><path d="M266.70,134.30 C267.74,134.30 268.36,135.29 268.88,136.78 C269.61,138.52 270.44,139.26 270.80,142.24 C271.11,145.46 271.89,149.18 271.89,153.64 C271.89,157.61 271.17,159.10 269.30,159.10 L264.10,159.10 C262.23,159.10 261.51,157.61 261.51,153.64 C261.51,149.18 262.29,145.46 262.60,142.24 C262.96,139.26 263.79,138.52 264.52,136.78 C265.04,135.29 265.66,134.30 266.70,134.30 Z"/></clipPath>
<g clip-path="url(#c10)" filter="url(#b3)">
<rect x="256.3" y="136.8" width="20.8" height="24.8" fill="#8048ee"/>
<ellipse cx="266.7" cy="148.2" rx="4.6" ry="10.4" fill="#382ef6"/>
</g>
<rect x="212.0" y="164.0" width="61.7" height="28.7" fill="#241c22"/>
<path d="M219.40,165.60 C220.36,165.60 220.94,166.50 221.42,167.85 C222.09,169.42 222.86,170.10 223.19,172.80 C223.48,175.72 224.20,179.10 224.20,183.15 C224.20,186.75 223.53,188.10 221.80,188.10 L217.00,188.10 C215.27,188.10 214.60,186.75 214.60,183.15 C214.60,179.10 215.32,175.72 215.61,172.80 C215.94,170.10 216.71,169.42 217.38,167.85 C217.86,166.50 218.44,165.60 219.40,165.60 Z" fill="url(#gBody)" filter="url(#b5)"/>
<path d="M219.4,187.6 q0.6,2 -0.3,3.6" stroke="#bdbdbd" stroke-width="0.6" fill="none"/>
<clipPath id="c11"><path d="M219.40,165.60 C220.36,165.60 220.94,166.50 221.42,167.85 C222.09,169.42 222.86,170.10 223.19,172.80 C223.48,175.72 224.20,179.10 224.20,183.15 C224.20,186.75 223.53,188.10 221.80,188.10 L217.00,188.10 C215.27,188.10 214.60,186.75 214.60,183.15 C214.60,179.10 215.32,175.72 215.61,172.80 C215.94,170.10 216.71,169.42 217.38,167.85 C217.86,166.50 218.44,165.60 219.40,165.60 Z"/></clipPath>
<g clip-path="url(#c11)" filter="url(#b3)">
<rect x="209.8" y="167.8" width="19.2" height="22.5" fill="#8048ee"/>
<ellipse cx="219.4" cy="178.2" rx="4.2" ry="9.4" fill="#382ef6"/>
<ellipse cx="219.4" cy="178.2" rx="3.5" ry="9.0" fill="url(#gGreen)"/>
</g>
<path d="M230.80,165.60 C231.76,165.60 232.34,166.50 232.82,167.85 C233.49,169.42 234.26,170.10 234.59,172.80 C234.88,175.72 235.60,179.10 235.60,183.15 C235.60,186.75 234.93,188.10 233.20,188.10 L228.40,188.10 C226.67,188.10 226.00,186.75 226.00,183.15 C226.00,179.10 226.72,175.72 227.01,172.80 C227.34,170.10 228.11,169.42 228.78,167.85 C229.26,166.50 229.84,165.60 230.80,165.60 Z" fill="url(#gBody)" filter="url(#b5)"/>
<path d="M230.8,187.6 q0.6,2 -0.3,3.6" stroke="#bdbdbd" stroke-width="0.6" fill="none"/>
<clipPath id="c12"><path d="M230.80,165.60 C231.76,165.60 232.34,166.50 232.82,167.85 C233.49,169.42 234.26,170.10 234.59,172.80 C234.88,175.72 235.60,179.10 235.60,183.15 C235.60,186.75 234.93,188.10 233.20,188.10 L228.40,188.10 C226.67,188.10 226.00,186.75 226.00,183.15 C226.00,179.10 226.72,175.72 227.01,172.80 C227.34,170.10 228.11,169.42 228.78,167.85 C229.26,166.50 229.84,165.60 230.80,165.60 Z"/></clipPath>
<g clip-path="url(#c12)" filter="url(#b3)">
<rect x="221.2" y="167.8" width="19.2" height="22.5" fill="#8048ee"/>
<ellipse cx="230.8" cy="178.2" rx="4.2" ry="9.4" fill="#382ef6"/>
<ellipse cx="230.8" cy="178.2" rx="3.5" ry="9.0" fill="url(#gGreen)"/>
</g>
<path d="M244.70,165.60 C245.66,165.60 246.24,166.50 246.72,167.85 C247.39,169.42 248.16,170.10 248.49,172.80 C248.78,175.72 249.50,179.10 249.50,183.15 C249.50,186.75 248.83,188.10 247.10,188.10 L242.30,188.10 C240.57,188.10 239.90,186.75 239.90,183.15 C239.90,179.10 240.62,175.72 240.91,172.80 C241.24,170.10 242.01,169.42 242.68,167.85 C243.16,166.50 243.74,165.60 244.70,165.60 Z" fill="url(#gBody)" filter="url(#b5)"/>
<path d="M244.7,187.6 q0.6,2 -0.3,3.6" stroke="#bdbdbd" stroke-width="0.6" fill="none"/>
<clipPath id="c13"><path d="M244.70,165.60 C245.66,165.60 246.24,166.50 246.72,167.85 C247.39,169.42 248.16,170.10 248.49,172.80 C248.78,175.72 249.50,179.10 249.50,183.15 C249.50,186.75 248.83,188.10 247.10,188.10 L242.30,188.10 C240.57,188.10 239.90,186.75 239.90,183.15 C239.90,179.10 240.62,175.72 240.91,172.80 C241.24,170.10 242.01,169.42 242.68,167.85 C243.16,166.50 243.74,165.60 244.70,165.60 Z"/></clipPath>
<g clip-path="url(#c13)" filter="url(#b3)">
<rect x="235.1" y="167.8" width="19.2" height="22.5" fill="#8048ee"/>
<ellipse cx="244.7" cy="178.2" rx="4.2" ry="9.4" fill="#382ef6"/>
<ellipse cx="244.7" cy="178.7" rx="2.9" ry="7.7" fill="url(#gCyan)"/>
</g>
<path d="M255.30,165.60 C256.26,165.60 256.84,166.50 257.32,167.85 C257.99,169.42 258.76,170.10 259.09,172.80 C259.38,175.72 260.10,179.10 260.10,183.15 C260.10,186.75 259.43,188.10 257.70,188.10 L252.90,188.10 C251.17,188.10 250.50,186.75 250.50,183.15 C250.50,179.10 251.22,175.72 251.51,172.80 C251.84,170.10 252.61,169.42 253.28,167.85 C253.76,166.50 254.34,165.60 255.30,165.60 Z" fill="url(#gBody)" filter="url(#b5)"/>
<path d="M255.3,187.6 q0.6,2 -0.3,3.6" stroke="#bdbdbd" stroke-width="0.6" fill="none"/>
<clipPath id="c14"><path d="M255.30,165.60 C256.26,165.60 256.84,166.50 257.32,167.85 C257.99,169.42 258.76,170.10 259.09,172.80 C259.38,175.72 260.10,179.10 260.10,183.15 C260.10,186.75 259.43,188.10 257.70,188.10 L252.90,188.10 C251.17,188.10 250.50,186.75 250.50,183.15 C250.50,179.10 251.22,175.72 251.51,172.80 C251.84,170.10 252.61,169.42 253.28,167.85 C253.76,166.50 254.34,165.60 255.30,165.60 Z"/></clipPath>
<g clip-path="url(#c14)" filter="url(#b3)">
<rect x="245.7" y="167.8" width="19.2" height="22.5" fill="#8048ee"/>
<ellipse cx="255.3" cy="178.2" rx="4.2" ry="9.4" fill="#382ef6"/>
<ellipse cx="255.3" cy="178.7" rx="2.9" ry="7.7" fill="url(#gCyan)"/>
</g>
<path d="M266.70,165.60 C267.66,165.60 268.24,166.50 268.72,167.85 C269.39,169.42 270.16,170.10 270.49,172.80 C270.78,175.72 271.50,179.10 271.50,183.15 C271.50,186.75 270.83,188.10 269.10,188.10 L264.30,188.10 C262.57,188.10 261.90,186.75 261.90,183.15 C261.90,179.10 262.62,175.72 262.91,172.80 C263.24,170.10 264.01,169.42 264.68,167.85 C265.16,166.50 265.74,165.60 266.70,165.60 Z" fill="url(#gBody)" filter="url(#b5)"/>
<path d="M266.7,187.6 q0.6,2 -0.3,3.6" stroke="#bdbdbd" stroke-width="0.6" fill="none"/>
<clipPath id="c15"><path d="M266.70,165.60 C267.66,165.60 268.24,166.50 268.72,167.85 C269.39,169.42 270.16,170.10 270.49,172.80 C270.78,175.72 271.50,179.10 271.50,183.15 C271.50,186.75 270.83,188.10 269.10,188.10 L264.30,188.10 C262.57,188.10 261.90,186.75 261.90,183.15 C261.90,179.10 262.62,175.72 262.91,172.80 C263.24,170.10 264.01,169.42 264.68,167.85 C265.16,166.50 265.74,165.60 266.70,165.60 Z"/></clipPath>
<g clip-path="url(#c15)" filter="url(#b3)">
<rect x="257.1" y="167.8" width="19.2" height="22.5" fill="#8048ee"/>
<ellipse cx="266.7" cy="178.2" rx="4.2" ry="9.4" fill="#382ef6"/>
<ellipse cx="266.7" cy="178.2" rx="3.5" ry="9.0" fill="url(#gGreen)"/>
</g>
<rect x="237.2" y="195.6" width="36.0" height="29.1" fill="#303030"/>
<rect x="242" y="197.2" width="26" height="3.2" fill="#6a2a2e" opacity="0.8" filter="url(#b6)"/>
<path d="M266.00,198.60 C267.04,198.60 267.66,199.44 268.18,200.69 C268.91,202.15 269.74,202.78 270.10,205.29 C270.41,208.00 271.19,211.14 271.19,214.90 C271.19,218.25 270.47,219.50 268.60,219.50 L263.40,219.50 C261.53,219.50 260.81,218.25 260.81,214.90 C260.81,211.14 261.59,208.00 261.90,205.29 C262.26,202.78 263.09,202.15 263.82,200.69 C264.34,199.44 264.96,198.60 266.00,198.60 Z" fill="url(#gBody)" filter="url(#b5)"/>
<path d="M266.0,219.0 q0.6,2 -0.3,3.6" stroke="#bdbdbd" stroke-width="0.6" fill="none"/>
<clipPath id="c16"><path d="M266.00,198.60 C267.04,198.60 267.66,199.44 268.18,200.69 C268.91,202.15 269.74,202.78 270.10,205.29 C270.41,208.00 271.19,211.14 271.19,214.90 C271.19,218.25 270.47,219.50 268.60,219.50 L263.40,219.50 C261.53,219.50 260.81,218.25 260.81,214.90 C260.81,211.14 261.59,208.00 261.90,205.29 C262.26,202.78 263.09,202.15 263.82,200.69 C264.34,199.44 264.96,198.60 266.00,198.60 Z"/></clipPath>
<g filter="url(#b6)">
<ellipse cx="266.0" cy="209.5" rx="7.7" ry="12.1" fill="#5a30e6"/>
<ellipse cx="266.0" cy="209.9" rx="6.6" ry="11.1" fill="#2838fa"/>
</g>
<g filter="url(#b3)">
<path d="M266.00,199.23 C267.23,199.23 267.96,200.05 268.57,201.28 C269.43,202.71 270.41,203.32 270.84,205.78 C271.21,208.44 272.13,211.52 272.13,215.20 C272.13,218.48 271.27,219.71 269.06,219.71 L262.94,219.71 C260.73,219.71 259.87,218.48 259.87,215.20 C259.87,211.52 260.79,208.44 261.16,205.78 C261.59,203.32 262.57,202.71 263.43,201.28 C264.04,200.05 264.77,199.23 266.00,199.23 Z" fill="#22d0f0"/>
<path d="M266.00,199.94 C267.14,199.94 267.82,200.71 268.39,201.85 C269.19,203.18 270.10,203.75 270.50,206.04 C270.84,208.52 271.70,211.37 271.70,214.80 C271.70,217.85 270.90,218.99 268.85,218.99 L263.15,218.99 C261.10,218.99 260.30,217.85 260.30,214.80 C260.30,211.37 261.16,208.52 261.50,206.04 C261.90,203.75 262.81,203.18 263.61,201.85 C264.18,200.71 264.86,199.94 266.00,199.94 Z" fill="#40ee50"/>
<path d="M266.00,200.66 C267.05,200.66 267.69,201.37 268.21,202.42 C268.95,203.66 269.80,204.18 270.16,206.30 C270.48,208.59 271.27,211.23 271.27,214.40 C271.27,217.22 270.53,218.28 268.64,218.28 L263.36,218.28 C261.47,218.28 260.73,217.22 260.73,214.40 C260.73,211.23 261.52,208.59 261.84,206.30 C262.20,204.18 263.05,203.66 263.79,202.42 C264.31,201.37 264.95,200.66 266.00,200.66 Z" fill="#f6e424"/>
<path d="M266.00,201.48 C266.96,201.48 267.53,202.12 268.01,203.08 C268.68,204.20 269.44,204.68 269.78,206.59 C270.06,208.67 270.78,211.07 270.78,213.94 C270.78,216.50 270.11,217.46 268.39,217.46 L263.61,217.46 C261.89,217.46 261.22,216.50 261.22,213.94 C261.22,211.07 261.94,208.67 262.22,206.59 C262.56,204.68 263.32,204.20 263.99,203.08 C264.47,202.12 265.04,201.48 266.00,201.48 Z" fill="#ff1414"/>
</g>
<rect x="277.4" y="44.5" width="30.4" height="24.0" fill="#262626"/>
<rect x="277.4" y="63.9" width="30.4" height="2.2" fill="#3c3c3c"/>
<rect x="277.4" y="66.1" width="30.4" height="2.4" fill="#141414"/>
<rect x="308.8" y="44.5" width="36.9" height="24.0" fill="#262626"/>
<rect x="308.8" y="63.9" width="36.9" height="2.2" fill="#3c3c3c"/>
<rect x="308.8" y="66.1" width="36.9" height="2.4" fill="#141414"/>
<rect x="277.4" y="70.2" width="30.4" height="27.6" fill="#262626"/>
<rect x="277.4" y="93.2" width="30.4" height="2.2" fill="#3c3c3c"/>
<rect x="277.4" y="95.4" width="30.4" height="2.4" fill="#141414"/>
<rect x="308.8" y="70.2" width="36.9" height="27.6" fill="#262626"/>
<rect x="308.8" y="93.2" width="36.9" height="2.2" fill="#3c3c3c"/>
<rect x="308.8" y="95.4" width="36.9" height="2.4" fill="#141414"/>
<rect x="277.4" y="100.0" width="30.4" height="29.8" fill="#262626"/>
<rect x="277.4" y="125.2" width="30.4" height="2.2" fill="#3c3c3c"/>
<rect x="277.4" y="127.4" width="30.4" height="2.4" fill="#141414"/>
<rect x="308.8" y="100.0" width="36.9" height="29.8" fill="#262626"/>
<rect x="308.8" y="125.2" width="36.9" height="2.2" fill="#3c3c3c"/>
<rect x="308.8" y="127.4" width="36.9" height="2.4" fill="#141414"/>
<rect x="277.4" y="132.7" width="30.4" height="29.0" fill="#262626"/>
<rect x="277.4" y="157.1" width="30.4" height="2.2" fill="#3c3c3c"/>
<rect x="277.4" y="159.3" width="30.4" height="2.4" fill="#141414"/>
<rect x="308.8" y="132.7" width="36.9" height="29.0" fill="#262626"/>
<rect x="308.8" y="157.1" width="36.9" height="2.2" fill="#3c3c3c"/>
<rect x="308.8" y="159.3" width="36.9" height="2.4" fill="#141414"/>
<rect x="277.4" y="164.0" width="30.4" height="28.7" fill="#262626"/>
<rect x="277.4" y="188.1" width="30.4" height="2.2" fill="#3c3c3c"/>
<rect x="277.4" y="190.3" width="30.4" height="2.4" fill="#141414"/>
<rect x="308.8" y="164.0" width="36.9" height="28.7" fill="#262626"/>
<rect x="308.8" y="188.1" width="36.9" height="2.2" fill="#3c3c3c"/>
<rect x="308.8" y="190.3" width="36.9" height="2.4" fill="#141414"/>
<rect x="277.4" y="195.6" width="30.4" height="29.1" fill="#2b2b2b"/>
<rect x="308.8" y="195.6" width="36.9" height="29.1" fill="#2b2b2b"/>
<rect x="277.4" y="227.3" width="30.4" height="28.3" fill="#2b2b2b"/>
<rect x="308.8" y="227.3" width="36.9" height="28.3" fill="#2b2b2b"/>
<path d="M289.00,46.30 C290.67,46.30 291.34,47.23 291.34,48.72 C291.34,50.21 294.12,50.02 294.57,52.25 C294.90,54.48 294.35,56.34 293.68,57.46 C294.12,60.81 294.01,64.90 291.23,64.90 L286.77,64.90 C283.99,64.90 283.88,60.81 284.32,57.46 C283.65,56.34 283.10,54.48 283.43,52.25 C283.88,50.02 286.66,50.21 286.66,48.72 C286.66,47.23 287.33,46.30 289.00,46.30 Z" fill="url(#gBody)" filter="url(#b5)"/>
<path d="M289.0,64.4 q0.6,2 -0.3,3.6" stroke="#bdbdbd" stroke-width="0.6" fill="none"/>
<path d="M285.0,63.7 l-1.0,2.4 M293.0,63.7 l1.0,2.4" stroke="#a8a8a8" stroke-width="1.1" fill="none" filter="url(#b3)"/>
<clipPath id="c17"><path d="M289.00,46.30 C290.67,46.30 291.34,47.23 291.34,48.72 C291.34,50.21 294.12,50.02 294.57,52.25 C294.90,54.48 294.35,56.34 293.68,57.46 C294.12,60.81 294.01,64.90 291.23,64.90 L286.77,64.90 C283.99,64.90 283.88,60.81 284.32,57.46 C283.65,56.34 283.10,54.48 283.43,52.25 C283.88,50.02 286.66,50.21 286.66,48.72 C286.66,47.23 287.33,46.30 289.00,46.30 Z"/></clipPath>
<g clip-path="url(#c17)" filter="url(#b3)">
<rect x="277.9" y="50.8" width="22.3" height="6.1" fill="#6c2cf0"/>
<rect x="277.9" y="50.0" width="22.3" height="0.9" fill="#b59af5"/>
<rect x="277.9" y="56.7" width="22.3" height="0.9" fill="#c9b6f7"/>
</g>
<path d="M300.20,46.30 C301.87,46.30 302.54,47.23 302.54,48.72 C302.54,50.21 305.32,50.02 305.77,52.25 C306.10,54.48 305.55,56.34 304.88,57.46 C305.32,60.81 305.21,64.90 302.43,64.90 L297.97,64.90 C295.19,64.90 295.08,60.81 295.52,57.46 C294.85,56.34 294.30,54.48 294.63,52.25 C295.08,50.02 297.86,50.21 297.86,48.72 C297.86,47.23 298.53,46.30 300.20,46.30 Z" fill="url(#gBody)" filter="url(#b5)"/>
<path d="M300.2,64.4 q0.6,2 -0.3,3.6" stroke="#bdbdbd" stroke-width="0.6" fill="none"/>
<path d="M296.2,63.7 l-1.0,2.4 M304.2,63.7 l1.0,2.4" stroke="#a8a8a8" stroke-width="1.1" fill="none" filter="url(#b3)"/>
<clipPath id="c18"><path d="M300.20,46.30 C301.87,46.30 302.54,47.23 302.54,48.72 C302.54,50.21 305.32,50.02 305.77,52.25 C306.10,54.48 305.55,56.34 304.88,57.46 C305.32,60.81 305.21,64.90 302.43,64.90 L297.97,64.90 C295.19,64.90 295.08,60.81 295.52,57.46 C294.85,56.34 294.30,54.48 294.63,52.25 C295.08,50.02 297.86,50.21 297.86,48.72 C297.86,47.23 298.53,46.30 300.20,46.30 Z"/></clipPath>
<g clip-path="url(#c18)" filter="url(#b3)">
<rect x="289.1" y="50.8" width="22.3" height="6.1" fill="#6c2cf0"/>
<rect x="289.1" y="50.0" width="22.3" height="0.9" fill="#b59af5"/>
<rect x="289.1" y="56.7" width="22.3" height="0.9" fill="#c9b6f7"/>
</g>
<path d="M314.70,46.30 C316.37,46.30 317.04,47.23 317.04,48.72 C317.04,50.21 319.82,50.02 320.27,52.25 C320.60,54.48 320.05,56.34 319.38,57.46 C319.82,60.81 319.71,64.90 316.93,64.90 L312.47,64.90 C309.69,64.90 309.58,60.81 310.02,57.46 C309.35,56.34 308.80,54.48 309.13,52.25 C309.58,50.02 312.36,50.21 312.36,48.72 C312.36,47.23 313.03,46.30 314.70,46.30 Z" fill="url(#gBody)" filter="url(#b5)"/>
<path d="M314.7,64.4 q0.6,2 -0.3,3.6" stroke="#bdbdbd" stroke-width="0.6" fill="none"/>
<path d="M310.7,63.7 l-1.0,2.4 M318.7,63.7 l1.0,2.4" stroke="#a8a8a8" stroke-width="1.1" fill="none" filter="url(#b3)"/>
<clipPath id="c19"><path d="M314.70,46.30 C316.37,46.30 317.04,47.23 317.04,48.72 C317.04,50.21 319.82,50.02 320.27,52.25 C320.60,54.48 320.05,56.34 319.38,57.46 C319.82,60.81 319.71,64.90 316.93,64.90 L312.47,64.90 C309.69,64.90 309.58,60.81 310.02,57.46 C309.35,56.34 308.80,54.48 309.13,52.25 C309.58,50.02 312.36,50.21 312.36,48.72 C312.36,47.23 313.03,46.30 314.70,46.30 Z"/></clipPath>
<g clip-path="url(#c19)" filter="url(#b3)">
<rect x="303.6" y="50.8" width="22.3" height="6.1" fill="#6c2cf0"/>
<rect x="303.6" y="50.0" width="22.3" height="0.9" fill="#b59af5"/>
<rect x="303.6" y="56.7" width="22.3" height="0.9" fill="#c9b6f7"/>
</g>
<path d="M326.30,46.30 C327.97,46.30 328.64,47.23 328.64,48.72 C328.64,50.21 331.42,50.02 331.87,52.25 C332.20,54.48 331.65,56.34 330.98,57.46 C331.42,60.81 331.31,64.90 328.53,64.90 L324.07,64.90 C321.29,64.90 321.18,60.81 321.62,57.46 C320.95,56.34 320.40,54.48 320.73,52.25 C321.18,50.02 323.96,50.21 323.96,48.72 C323.96,47.23 324.63,46.30 326.30,46.30 Z" fill="url(#gBody)" filter="url(#b5)"/>
<path d="M326.3,64.4 q0.6,2 -0.3,3.6" stroke="#bdbdbd" stroke-width="0.6" fill="none"/>
<path d="M322.3,63.7 l-1.0,2.4 M330.3,63.7 l1.0,2.4" stroke="#a8a8a8" stroke-width="1.1" fill="none" filter="url(#b3)"/>
<clipPath id="c20"><path d="M326.30,46.30 C327.97,46.30 328.64,47.23 328.64,48.72 C328.64,50.21 331.42,50.02 331.87,52.25 C332.20,54.48 331.65,56.34 330.98,57.46 C331.42,60.81 331.31,64.90 328.53,64.90 L324.07,64.90 C321.29,64.90 321.18,60.81 321.62,57.46 C320.95,56.34 320.40,54.48 320.73,52.25 C321.18,50.02 323.96,50.21 323.96,48.72 C323.96,47.23 324.63,46.30 326.30,46.30 Z"/></clipPath>
<g clip-path="url(#c20)" filter="url(#b3)">
<rect x="315.2" y="50.8" width="22.3" height="6.1" fill="#6c2cf0"/>
<rect x="315.2" y="50.0" width="22.3" height="0.9" fill="#b59af5"/>
<rect x="315.2" y="56.7" width="22.3" height="0.9" fill="#c9b6f7"/>
</g>
<path d="M337.80,46.30 C339.47,46.30 340.14,47.23 340.14,48.72 C340.14,50.21 342.92,50.02 343.37,52.25 C343.70,54.48 343.15,56.34 342.48,57.46 C342.92,60.81 342.81,64.90 340.03,64.90 L335.57,64.90 C332.79,64.90 332.68,60.81 333.12,57.46 C332.45,56.34 331.90,54.48 332.23,52.25 C332.68,50.02 335.46,50.21 335.46,48.72 C335.46,47.23 336.13,46.30 337.80,46.30 Z" fill="url(#gBody)" filter="url(#b5)"/>
<path d="M337.8,64.4 q0.6,2 -0.3,3.6" stroke="#bdbdbd" stroke-width="0.6" fill="none"/>
<path d="M333.8,63.7 l-1.0,2.4 M341.8,63.7 l1.0,2.4" stroke="#a8a8a8" stroke-width="1.1" fill="none" filter="url(#b3)"/>
<clipPath id="c21"><path d="M337.80,46.30 C339.47,46.30 340.14,47.23 340.14,48.72 C340.14,50.21 342.92,50.02 343.37,52.25 C343.70,54.48 343.15,56.34 342.48,57.46 C342.92,60.81 342.81,64.90 340.03,64.90 L335.57,64.90 C332.79,64.90 332.68,60.81 333.12,57.46 C332.45,56.34 331.90,54.48 332.23,52.25 C332.68,50.02 335.46,50.21 335.46,48.72 C335.46,47.23 336.13,46.30 337.80,46.30 Z"/></clipPath>
<g clip-path="url(#c21)" filter="url(#b3)">
<rect x="326.7" y="50.8" width="22.3" height="6.1" fill="#6c2cf0"/>
<rect x="326.7" y="50.0" width="22.3" height="0.9" fill="#b59af5"/>
<rect x="326.7" y="56.7" width="22.3" height="0.9" fill="#c9b6f7"/>
</g>
<path d="M290.00,72.20 C290.96,72.20 291.54,73.03 292.02,74.28 C292.69,75.74 293.46,76.36 293.79,78.86 C294.08,81.56 294.80,84.68 294.80,88.42 C294.80,91.75 294.13,93.00 292.40,93.00 L287.60,93.00 C285.87,93.00 285.20,91.75 285.20,88.42 C285.20,84.68 285.92,81.56 286.21,78.86 C286.54,76.36 287.31,75.74 287.98,74.28 C288.46,73.03 289.04,72.20 290.00,72.20 Z" fill="url(#gBody)" filter="url(#b5)"/>
<path d="M290.0,92.5 q0.6,2 -0.3,3.6" stroke="#bdbdbd" stroke-width="0.6" fill="none"/>
<path d="M286.5,91.8 l-1.0,2.4 M293.5,91.8 l1.0,2.4" stroke="#a8a8a8" stroke-width="1.1" fill="none" filter="url(#b3)"/>
<path d="M300.60,72.20 C301.56,72.20 302.14,73.03 302.62,74.28 C303.29,75.74 304.06,76.36 304.39,78.86 C304.68,81.56 305.40,84.68 305.40,88.42 C305.40,91.75 304.73,93.00 303.00,93.00 L298.20,93.00 C296.47,93.00 295.80,91.75 295.80,88.42 C295.80,84.68 296.52,81.56 296.81,78.86 C297.14,76.36 297.91,75.74 298.58,74.28 C299.06,73.03 299.64,72.20 300.60,72.20 Z" fill="url(#gBody)" filter="url(#b5)"/>
<path d="M300.6,92.5 q0.6,2 -0.3,3.6" stroke="#bdbdbd" stroke-width="0.6" fill="none"/>
<path d="M297.1,91.8 l-1.0,2.4 M304.1,91.8 l1.0,2.4" stroke="#a8a8a8" stroke-width="1.1" fill="none" filter="url(#b3)"/>
<path d="M313.90,72.20 C314.86,72.20 315.44,73.03 315.92,74.28 C316.59,75.74 317.36,76.36 317.69,78.86 C317.98,81.56 318.70,84.68 318.70,88.42 C318.70,91.75 318.03,93.00 316.30,93.00 L311.50,93.00 C309.77,93.00 309.10,91.75 309.10,88.42 C309.10,84.68 309.82,81.56 310.11,78.86 C310.44,76.36 311.21,75.74 311.88,74.28 C312.36,73.03 312.94,72.20 313.90,72.20 Z" fill="url(#gBody)" filter="url(#b5)"/>
<path d="M313.9,92.5 q0.6,2 -0.3,3.6" stroke="#bdbdbd" stroke-width="0.6" fill="none"/>
<path d="M310.4,91.8 l-1.0,2.4 M317.4,91.8 l1.0,2.4" stroke="#a8a8a8" stroke-width="1.1" fill="none" filter="url(#b3)"/>
<path d="M325.40,72.20 C326.36,72.20 326.94,73.03 327.42,74.28 C328.09,75.74 328.86,76.36 329.19,78.86 C329.48,81.56 330.20,84.68 330.20,88.42 C330.20,91.75 329.53,93.00 327.80,93.00 L323.00,93.00 C321.27,93.00 320.60,91.75 320.60,88.42 C320.60,84.68 321.32,81.56 321.61,78.86 C321.94,76.36 322.71,75.74 323.38,74.28 C323.86,73.03 324.44,72.20 325.40,72.20 Z" fill="url(#gBody)" filter="url(#b5)"/>
<path d="M325.4,92.5 q0.6,2 -0.3,3.6" stroke="#bdbdbd" stroke-width="0.6" fill="none"/>
<path d="M321.9,91.8 l-1.0,2.4 M328.9,91.8 l1.0,2.4" stroke="#a8a8a8" stroke-width="1.1" fill="none" filter="url(#b3)"/>
<path d="M337.80,72.20 C338.76,72.20 339.34,73.03 339.82,74.28 C340.49,75.74 341.26,76.36 341.59,78.86 C341.88,81.56 342.60,84.68 342.60,88.42 C342.60,91.75 341.93,93.00 340.20,93.00 L335.40,93.00 C333.67,93.00 333.00,91.75 333.00,88.42 C333.00,84.68 333.72,81.56 334.01,78.86 C334.34,76.36 335.11,75.74 335.78,74.28 C336.26,73.03 336.84,72.20 337.80,72.20 Z" fill="url(#gBody)" filter="url(#b5)"/>
<path d="M337.8,92.5 q0.6,2 -0.3,3.6" stroke="#bdbdbd" stroke-width="0.6" fill="none"/>
<path d="M334.3,91.8 l-1.0,2.4 M341.3,91.8 l1.0,2.4" stroke="#a8a8a8" stroke-width="1.1" fill="none" filter="url(#b3)"/>
<path d="M289.90,102.40 C290.86,102.40 291.44,103.28 291.92,104.60 C292.59,106.14 293.36,106.80 293.69,109.44 C293.98,112.30 294.70,115.60 294.70,119.56 C294.70,123.08 294.03,124.40 292.30,124.40 L287.50,124.40 C285.77,124.40 285.10,123.08 285.10,119.56 C285.10,115.60 285.82,112.30 286.11,109.44 C286.44,106.80 287.21,106.14 287.88,104.60 C288.36,103.28 288.94,102.40 289.90,102.40 Z" fill="url(#gBody)" filter="url(#b5)"/>
<path d="M289.9,123.9 q0.6,2 -0.3,3.6" stroke="#bdbdbd" stroke-width="0.6" fill="none"/>
<path d="M286.4,123.2 l-1.0,2.4 M293.4,123.2 l1.0,2.4" stroke="#a8a8a8" stroke-width="1.1" fill="none" filter="url(#b3)"/>
<path d="M300.30,102.40 C301.26,102.40 301.84,103.28 302.32,104.60 C302.99,106.14 303.76,106.80 304.09,109.44 C304.38,112.30 305.10,115.60 305.10,119.56 C305.10,123.08 304.43,124.40 302.70,124.40 L297.90,124.40 C296.17,124.40 295.50,123.08 295.50,119.56 C295.50,115.60 296.22,112.30 296.51,109.44 C296.84,106.80 297.61,106.14 298.28,104.60 C298.76,103.28 299.34,102.40 300.30,102.40 Z" fill="url(#gBody)" filter="url(#b5)"/>
<path d="M300.3,123.9 q0.6,2 -0.3,3.6" stroke="#bdbdbd" stroke-width="0.6" fill="none"/>
<path d="M296.8,123.2 l-1.0,2.4 M303.8,123.2 l1.0,2.4" stroke="#a8a8a8" stroke-width="1.1" fill="none" filter="url(#b3)"/>
<path d="M314.00,102.40 C314.96,102.40 315.54,103.28 316.02,104.60 C316.69,106.14 317.46,106.80 317.79,109.44 C318.08,112.30 318.80,115.60 318.80,119.56 C318.80,123.08 318.13,124.40 316.40,124.40 L311.60,124.40 C309.87,124.40 309.20,123.08 309.20,119.56 C309.20,115.60 309.92,112.30 310.21,109.44 C310.54,106.80 311.31,106.14 311.98,104.60 C312.46,103.28 313.04,102.40 314.00,102.40 Z" fill="url(#gBody)" filter="url(#b5)"/>
<path d="M314.0,123.9 q0.6,2 -0.3,3.6" stroke="#bdbdbd" stroke-width="0.6" fill="none"/>
<path d="M310.5,123.2 l-1.0,2.4 M317.5,123.2 l1.0,2.4" stroke="#a8a8a8" stroke-width="1.1" fill="none" filter="url(#b3)"/>
<path d="M326.40,102.40 C327.36,102.40 327.94,103.28 328.42,104.60 C329.09,106.14 329.86,106.80 330.19,109.44 C330.48,112.30 331.20,115.60 331.20,119.56 C331.20,123.08 330.53,124.40 328.80,124.40 L324.00,124.40 C322.27,124.40 321.60,123.08 321.60,119.56 C321.60,115.60 322.32,112.30 322.61,109.44 C322.94,106.80 323.71,106.14 324.38,104.60 C324.86,103.28 325.44,102.40 326.40,102.40 Z" fill="url(#gBody)" filter="url(#b5)"/>
<path d="M326.4,123.9 q0.6,2 -0.3,3.6" stroke="#bdbdbd" stroke-width="0.6" fill="none"/>
<path d="M322.9,123.2 l-1.0,2.4 M329.9,123.2 l1.0,2.4" stroke="#a8a8a8" stroke-width="1.1" fill="none" filter="url(#b3)"/>
<path d="M336.50,102.40 C337.46,102.40 338.04,103.28 338.52,104.60 C339.19,106.14 339.96,106.80 340.29,109.44 C340.58,112.30 341.30,115.60 341.30,119.56 C341.30,123.08 340.63,124.40 338.90,124.40 L334.10,124.40 C332.37,124.40 331.70,123.08 331.70,119.56 C331.70,115.60 332.42,112.30 332.71,109.44 C333.04,106.80 333.81,106.14 334.48,104.60 C334.96,103.28 335.54,102.40 336.50,102.40 Z" fill="url(#gBody)" filter="url(#b5)"/>
<path d="M336.5,123.9 q0.6,2 -0.3,3.6" stroke="#bdbdbd" stroke-width="0.6" fill="none"/>
<path d="M333.0,123.2 l-1.0,2.4 M340.0,123.2 l1.0,2.4" stroke="#a8a8a8" stroke-width="1.1" fill="none" filter="url(#b3)"/>
<path d="M289.90,134.10 C290.92,134.10 291.53,135.04 292.04,136.46 C292.75,138.11 293.56,138.82 293.92,141.65 C294.22,144.72 294.99,148.26 294.99,152.51 C294.99,156.28 294.28,157.70 292.44,157.70 L287.36,157.70 C285.52,157.70 284.81,156.28 284.81,152.51 C284.81,148.26 285.58,144.72 285.88,141.65 C286.24,138.82 287.05,138.11 287.76,136.46 C288.27,135.04 288.88,134.10 289.90,134.10 Z" fill="url(#gBody)" filter="url(#b5)"/>
<path d="M289.9,157.2 q0.6,2 -0.3,3.6" stroke="#bdbdbd" stroke-width="0.6" fill="none"/>
<path d="M286.2,156.5 l-1.0,2.4 M293.6,156.5 l1.0,2.4" stroke="#a8a8a8" stroke-width="1.1" fill="none" filter="url(#b3)"/>
<clipPath id="c22"><path d="M289.90,134.10 C290.92,134.10 291.53,135.04 292.04,136.46 C292.75,138.11 293.56,138.82 293.92,141.65 C294.22,144.72 294.99,148.26 294.99,152.51 C294.99,156.28 294.28,157.70 292.44,157.70 L287.36,157.70 C285.52,157.70 284.81,156.28 284.81,152.51 C284.81,148.26 285.58,144.72 285.88,141.65 C286.24,138.82 287.05,138.11 287.76,136.46 C288.27,135.04 288.88,134.10 289.90,134.10 Z"/></clipPath>
<g clip-path="url(#c22)" filter="url(#b3)">
<ellipse cx="289.9" cy="151.6" rx="3.6" ry="3.5" fill="#7a48ea"/>
<ellipse cx="289.9" cy="151.8" rx="2.3" ry="2.8" fill="#2c2cf8"/>
</g>
<path d="M300.30,134.10 C301.32,134.10 301.93,135.04 302.44,136.46 C303.15,138.11 303.96,138.82 304.32,141.65 C304.62,144.72 305.39,148.26 305.39,152.51 C305.39,156.28 304.68,157.70 302.84,157.70 L297.76,157.70 C295.92,157.70 295.21,156.28 295.21,152.51 C295.21,148.26 295.98,144.72 296.28,141.65 C296.64,138.82 297.45,138.11 298.16,136.46 C298.67,135.04 299.28,134.10 300.30,134.10 Z" fill="url(#gBody)" filter="url(#b5)"/>
<path d="M300.3,157.2 q0.6,2 -0.3,3.6" stroke="#bdbdbd" stroke-width="0.6" fill="none"/>
<path d="M296.6,156.5 l-1.0,2.4 M304.0,156.5 l1.0,2.4" stroke="#a8a8a8" stroke-width="1.1" fill="none" filter="url(#b3)"/>
<clipPath id="c23"><path d="M300.30,134.10 C301.32,134.10 301.93,135.04 302.44,136.46 C303.15,138.11 303.96,138.82 304.32,141.65 C304.62,144.72 305.39,148.26 305.39,152.51 C305.39,156.28 304.68,157.70 302.84,157.70 L297.76,157.70 C295.92,157.70 295.21,156.28 295.21,152.51 C295.21,148.26 295.98,144.72 296.28,141.65 C296.64,138.82 297.45,138.11 298.16,136.46 C298.67,135.04 299.28,134.10 300.30,134.10 Z"/></clipPath>
<g clip-path="url(#c23)" filter="url(#b3)">
<ellipse cx="300.3" cy="151.6" rx="3.6" ry="3.5" fill="#7a48ea"/>
<ellipse cx="300.3" cy="151.8" rx="2.3" ry="2.8" fill="#2c2cf8"/>
</g>
<path d="M314.00,134.10 C315.02,134.10 315.63,135.04 316.14,136.46 C316.85,138.11 317.66,138.82 318.02,141.65 C318.32,144.72 319.09,148.26 319.09,152.51 C319.09,156.28 318.38,157.70 316.54,157.70 L311.46,157.70 C309.62,157.70 308.91,156.28 308.91,152.51 C308.91,148.26 309.68,144.72 309.98,141.65 C310.34,138.82 311.15,138.11 311.86,136.46 C312.37,135.04 312.98,134.10 314.00,134.10 Z" fill="url(#gBody)" filter="url(#b5)"/>
<path d="M314.0,157.2 q0.6,2 -0.3,3.6" stroke="#bdbdbd" stroke-width="0.6" fill="none"/>
<path d="M310.3,156.5 l-1.0,2.4 M317.7,156.5 l1.0,2.4" stroke="#a8a8a8" stroke-width="1.1" fill="none" filter="url(#b3)"/>
<path d="M326.40,134.10 C327.42,134.10 328.03,135.04 328.54,136.46 C329.25,138.11 330.06,138.82 330.42,141.65 C330.72,144.72 331.49,148.26 331.49,152.51 C331.49,156.28 330.78,157.70 328.94,157.70 L323.86,157.70 C322.02,157.70 321.31,156.28 321.31,152.51 C321.31,148.26 322.08,144.72 322.38,141.65 C322.74,138.82 323.55,138.11 324.26,136.46 C324.77,135.04 325.38,134.10 326.40,134.10 Z" fill="url(#gBody)" filter="url(#b5)"/>
<path d="M326.4,157.2 q0.6,2 -0.3,3.6" stroke="#bdbdbd" stroke-width="0.6" fill="none"/>
<path d="M322.7,156.5 l-1.0,2.4 M330.1,156.5 l1.0,2.4" stroke="#a8a8a8" stroke-width="1.1" fill="none" filter="url(#b3)"/>
<clipPath id="c24"><path d="M326.40,134.10 C327.42,134.10 328.03,135.04 328.54,136.46 C329.25,138.11 330.06,138.82 330.42,141.65 C330.72,144.72 331.49,148.26 331.49,152.51 C331.49,156.28 330.78,157.70 328.94,157.70 L323.86,157.70 C322.02,157.70 321.31,156.28 321.31,152.51 C321.31,148.26 322.08,144.72 322.38,141.65 C322.74,138.82 323.55,138.11 324.26,136.46 C324.77,135.04 325.38,134.10 326.40,134.10 Z"/></clipPath>
<g clip-path="url(#c24)" filter="url(#b3)">
<ellipse cx="326.4" cy="148.7" rx="1.2" ry="1.6" fill="#5a30f0"/>
</g>
<path d="M336.50,134.10 C337.52,134.10 338.13,135.04 338.64,136.46 C339.35,138.11 340.16,138.82 340.52,141.65 C340.82,144.72 341.59,148.26 341.59,152.51 C341.59,156.28 340.88,157.70 339.04,157.70 L333.96,157.70 C332.12,157.70 331.41,156.28 331.41,152.51 C331.41,148.26 332.18,144.72 332.48,141.65 C332.84,138.82 333.65,138.11 334.36,136.46 C334.87,135.04 335.48,134.10 336.50,134.10 Z" fill="url(#gBody)" filter="url(#b5)"/>
<path d="M336.5,157.2 q0.6,2 -0.3,3.6" stroke="#bdbdbd" stroke-width="0.6" fill="none"/>
<path d="M332.8,156.5 l-1.0,2.4 M340.2,156.5 l1.0,2.4" stroke="#a8a8a8" stroke-width="1.1" fill="none" filter="url(#b3)"/>
<path d="M289.90,165.40 C290.92,165.40 291.53,166.33 292.04,167.73 C292.75,169.36 293.56,170.06 293.92,172.86 C294.22,175.88 294.99,179.38 294.99,183.57 C294.99,187.30 294.28,188.70 292.44,188.70 L287.36,188.70 C285.52,188.70 284.81,187.30 284.81,183.57 C284.81,179.38 285.58,175.88 285.88,172.86 C286.24,170.06 287.05,169.36 287.76,167.73 C288.27,166.33 288.88,165.40 289.90,165.40 Z" fill="url(#gBody)" filter="url(#b5)"/>
<path d="M289.9,188.2 q0.6,2 -0.3,3.6" stroke="#bdbdbd" stroke-width="0.6" fill="none"/>
<path d="M286.2,187.5 l-1.0,2.4 M293.6,187.5 l1.0,2.4" stroke="#a8a8a8" stroke-width="1.1" fill="none" filter="url(#b3)"/>
<clipPath id="c25"><path d="M289.90,165.40 C290.92,165.40 291.53,166.33 292.04,167.73 C292.75,169.36 293.56,170.06 293.92,172.86 C294.22,175.88 294.99,179.38 294.99,183.57 C294.99,187.30 294.28,188.70 292.44,188.70 L287.36,188.70 C285.52,188.70 284.81,187.30 284.81,183.57 C284.81,179.38 285.58,175.88 285.88,172.86 C286.24,170.06 287.05,169.36 287.76,167.73 C288.27,166.33 288.88,165.40 289.90,165.40 Z"/></clipPath>
<g clip-path="url(#c25)" filter="url(#b3)">
<ellipse cx="289.9" cy="182.6" rx="4.0" ry="5.6" fill="#7a48ea"/>
<ellipse cx="289.9" cy="182.9" rx="2.7" ry="4.5" fill="#2c2cf8"/>
</g>
<path d="M300.60,165.40 C301.62,165.40 302.23,166.33 302.74,167.73 C303.45,169.36 304.26,170.06 304.62,172.86 C304.92,175.88 305.69,179.38 305.69,183.57 C305.69,187.30 304.98,188.70 303.14,188.70 L298.06,188.70 C296.22,188.70 295.51,187.30 295.51,183.57 C295.51,179.38 296.28,175.88 296.58,172.86 C296.94,170.06 297.75,169.36 298.46,167.73 C298.97,166.33 299.58,165.40 300.60,165.40 Z" fill="url(#gBody)" filter="url(#b5)"/>
<path d="M300.6,188.2 q0.6,2 -0.3,3.6" stroke="#bdbdbd" stroke-width="0.6" fill="none"/>
<path d="M296.9,187.5 l-1.0,2.4 M304.3,187.5 l1.0,2.4" stroke="#a8a8a8" stroke-width="1.1" fill="none" filter="url(#b3)"/>
<clipPath id="c26"><path d="M300.60,165.40 C301.62,165.40 302.23,166.33 302.74,167.73 C303.45,169.36 304.26,170.06 304.62,172.86 C304.92,175.88 305.69,179.38 305.69,183.57 C305.69,187.30 304.98,188.70 303.14,188.70 L298.06,188.70 C296.22,188.70 295.51,187.30 295.51,183.57 C295.51,179.38 296.28,175.88 296.58,172.86 C296.94,170.06 297.75,169.36 298.46,167.73 C298.97,166.33 299.58,165.40 300.60,165.40 Z"/></clipPath>
<g clip-path="url(#c26)" filter="url(#b3)">
<ellipse cx="300.6" cy="182.6" rx="4.4" ry="7.5" fill="#7a48ea"/>
<ellipse cx="300.6" cy="182.9" rx="3.2" ry="6.0" fill="#2c2cf8"/>
</g>
<path d="M314.60,165.40 C315.62,165.40 316.23,166.33 316.74,167.73 C317.45,169.36 318.26,170.06 318.62,172.86 C318.92,175.88 319.69,179.38 319.69,183.57 C319.69,187.30 318.98,188.70 317.14,188.70 L312.06,188.70 C310.22,188.70 309.51,187.30 309.51,183.57 C309.51,179.38 310.28,175.88 310.58,172.86 C310.94,170.06 311.75,169.36 312.46,167.73 C312.97,166.33 313.58,165.40 314.60,165.40 Z" fill="url(#gBody)" filter="url(#b5)"/>
<path d="M314.6,188.2 q0.6,2 -0.3,3.6" stroke="#bdbdbd" stroke-width="0.6" fill="none"/>
<path d="M310.9,187.5 l-1.0,2.4 M318.3,187.5 l1.0,2.4" stroke="#a8a8a8" stroke-width="1.1" fill="none" filter="url(#b3)"/>
<clipPath id="c27"><path d="M314.60,165.40 C315.62,165.40 316.23,166.33 316.74,167.73 C317.45,169.36 318.26,170.06 318.62,172.86 C318.92,175.88 319.69,179.38 319.69,183.57 C319.69,187.30 318.98,188.70 317.14,188.70 L312.06,188.70 C310.22,188.70 309.51,187.30 309.51,183.57 C309.51,179.38 310.28,175.88 310.58,172.86 C310.94,170.06 311.75,169.36 312.46,167.73 C312.97,166.33 313.58,165.40 314.60,165.40 Z"/></clipPath>
<g clip-path="url(#c27)" filter="url(#b3)">
<ellipse cx="314.6" cy="182.6" rx="3.3" ry="2.3" fill="#7a48ea"/>
<ellipse cx="314.6" cy="182.9" rx="2.0" ry="1.9" fill="#2c2cf8"/>
</g>
<path d="M326.40,165.40 C327.42,165.40 328.03,166.33 328.54,167.73 C329.25,169.36 330.06,170.06 330.42,172.86 C330.72,175.88 331.49,179.38 331.49,183.57 C331.49,187.30 330.78,188.70 328.94,188.70 L323.86,188.70 C322.02,188.70 321.31,187.30 321.31,183.57 C321.31,179.38 322.08,175.88 322.38,172.86 C322.74,170.06 323.55,169.36 324.26,167.73 C324.77,166.33 325.38,165.40 326.40,165.40 Z" fill="url(#gBody)" filter="url(#b5)"/>
<path d="M326.4,188.2 q0.6,2 -0.3,3.6" stroke="#bdbdbd" stroke-width="0.6" fill="none"/>
<path d="M322.7,187.5 l-1.0,2.4 M330.1,187.5 l1.0,2.4" stroke="#a8a8a8" stroke-width="1.1" fill="none" filter="url(#b3)"/>
<clipPath id="c28"><path d="M326.40,165.40 C327.42,165.40 328.03,166.33 328.54,167.73 C329.25,169.36 330.06,170.06 330.42,172.86 C330.72,175.88 331.49,179.38 331.49,183.57 C331.49,187.30 330.78,188.70 328.94,188.70 L323.86,188.70 C322.02,188.70 321.31,187.30 321.31,183.57 C321.31,179.38 322.08,175.88 322.38,172.86 C322.74,170.06 323.55,169.36 324.26,167.73 C324.77,166.33 325.38,165.40 326.40,165.40 Z"/></clipPath>
<g clip-path="url(#c28)" filter="url(#b3)">
<ellipse cx="326.4" cy="182.6" rx="3.3" ry="2.3" fill="#7a48ea"/>
<ellipse cx="326.4" cy="182.9" rx="2.0" ry="1.9" fill="#2c2cf8"/>
</g>
<path d="M336.90,165.40 C337.92,165.40 338.53,166.33 339.04,167.73 C339.75,169.36 340.56,170.06 340.92,172.86 C341.22,175.88 341.99,179.38 341.99,183.57 C341.99,187.30 341.28,188.70 339.44,188.70 L334.36,188.70 C332.52,188.70 331.81,187.30 331.81,183.57 C331.81,179.38 332.58,175.88 332.88,172.86 C333.24,170.06 334.05,169.36 334.76,167.73 C335.27,166.33 335.88,165.40 336.90,165.40 Z" fill="url(#gBody)" filter="url(#b5)"/>
<path d="M336.9,188.2 q0.6,2 -0.3,3.6" stroke="#bdbdbd" stroke-width="0.6" fill="none"/>
<path d="M333.2,187.5 l-1.0,2.4 M340.6,187.5 l1.0,2.4" stroke="#a8a8a8" stroke-width="1.1" fill="none" filter="url(#b3)"/>
<clipPath id="c29"><path d="M336.90,165.40 C337.92,165.40 338.53,166.33 339.04,167.73 C339.75,169.36 340.56,170.06 340.92,172.86 C341.22,175.88 341.99,179.38 341.99,183.57 C341.99,187.30 341.28,188.70 339.44,188.70 L334.36,188.70 C332.52,188.70 331.81,187.30 331.81,183.57 C331.81,179.38 332.58,175.88 332.88,172.86 C333.24,170.06 334.05,169.36 334.76,167.73 C335.27,166.33 335.88,165.40 336.90,165.40 Z"/></clipPath>
<g clip-path="url(#c29)" filter="url(#b3)">
<ellipse cx="336.9" cy="182.6" rx="3.3" ry="2.3" fill="#7a48ea"/>
<ellipse cx="336.9" cy="182.9" rx="2.0" ry="1.9" fill="#2c2cf8"/>
</g>
<path d="M289.40,197.60 C290.42,197.60 291.03,198.51 291.54,199.87 C292.25,201.46 293.07,202.14 293.43,204.86 C293.73,207.81 294.50,211.22 294.50,215.31 C294.50,218.94 293.78,220.30 291.95,220.30 L286.85,220.30 C285.02,220.30 284.30,218.94 284.30,215.31 C284.30,211.22 285.07,207.81 285.37,204.86 C285.73,202.14 286.55,201.46 287.26,199.87 C287.77,198.51 288.38,197.60 289.40,197.60 Z" fill="url(#gBody)" filter="url(#b5)"/>
<path d="M289.4,219.8 q0.6,2 -0.3,3.6" stroke="#bdbdbd" stroke-width="0.6" fill="none"/>
<clipPath id="c30"><path d="M289.40,197.60 C290.42,197.60 291.03,198.51 291.54,199.87 C292.25,201.46 293.07,202.14 293.43,204.86 C293.73,207.81 294.50,211.22 294.50,215.31 C294.50,218.94 293.78,220.30 291.95,220.30 L286.85,220.30 C285.02,220.30 284.30,218.94 284.30,215.31 C284.30,211.22 285.07,207.81 285.37,204.86 C285.73,202.14 286.55,201.46 287.26,199.87 C287.77,198.51 288.38,197.60 289.40,197.60 Z"/></clipPath>
<g clip-path="url(#c30)" filter="url(#b3)">
<rect x="279.2" y="201.2" width="20.4" height="22.7" fill="#a184f2"/>
<ellipse cx="289.4" cy="211.2" rx="4.4" ry="9.1" fill="#3a30f4"/>
<ellipse cx="287.6" cy="203.0" rx="1.6" ry="1.4" fill="#e6defa"/>
<ellipse cx="289.4" cy="212.1" rx="2.4" ry="4.5" fill="url(#gCyan)"/>
</g>
<path d="M300.00,197.60 C301.02,197.60 301.63,198.51 302.14,199.87 C302.85,201.46 303.67,202.14 304.03,204.86 C304.33,207.81 305.10,211.22 305.10,215.31 C305.10,218.94 304.38,220.30 302.55,220.30 L297.45,220.30 C295.62,220.30 294.90,218.94 294.90,215.31 C294.90,211.22 295.67,207.81 295.97,204.86 C296.33,202.14 297.15,201.46 297.86,199.87 C298.37,198.51 298.98,197.60 300.00,197.60 Z" fill="url(#gBody)" filter="url(#b5)"/>
<path d="M300.0,219.8 q0.6,2 -0.3,3.6" stroke="#bdbdbd" stroke-width="0.6" fill="none"/>
<clipPath id="c31"><path d="M300.00,197.60 C301.02,197.60 301.63,198.51 302.14,199.87 C302.85,201.46 303.67,202.14 304.03,204.86 C304.33,207.81 305.10,211.22 305.10,215.31 C305.10,218.94 304.38,220.30 302.55,220.30 L297.45,220.30 C295.62,220.30 294.90,218.94 294.90,215.31 C294.90,211.22 295.67,207.81 295.97,204.86 C296.33,202.14 297.15,201.46 297.86,199.87 C298.37,198.51 298.98,197.60 300.00,197.60 Z"/></clipPath>
<g clip-path="url(#c31)" filter="url(#b3)">
<rect x="289.8" y="201.2" width="20.4" height="22.7" fill="#a184f2"/>
<ellipse cx="300.0" cy="211.2" rx="4.4" ry="9.1" fill="#3a30f4"/>
<ellipse cx="298.2" cy="203.0" rx="1.6" ry="1.4" fill="#e6defa"/>
<ellipse cx="300.0" cy="212.1" rx="2.4" ry="4.5" fill="url(#gCyan)"/>
</g>
<path d="M315.40,197.60 C316.42,197.60 317.03,198.51 317.54,199.87 C318.25,201.46 319.07,202.14 319.43,204.86 C319.73,207.81 320.50,211.22 320.50,215.31 C320.50,218.94 319.78,220.30 317.95,220.30 L312.85,220.30 C311.02,220.30 310.30,218.94 310.30,215.31 C310.30,211.22 311.07,207.81 311.37,204.86 C311.73,202.14 312.55,201.46 313.26,199.87 C313.77,198.51 314.38,197.60 315.40,197.60 Z" fill="url(#gBody)" filter="url(#b5)"/>
<path d="M315.4,219.8 q0.6,2 -0.3,3.6" stroke="#bdbdbd" stroke-width="0.6" fill="none"/>
<clipPath id="c32"><path d="M315.40,197.60 C316.42,197.60 317.03,198.51 317.54,199.87 C318.25,201.46 319.07,202.14 319.43,204.86 C319.73,207.81 320.50,211.22 320.50,215.31 C320.50,218.94 319.78,220.30 317.95,220.30 L312.85,220.30 C311.02,220.30 310.30,218.94 310.30,215.31 C310.30,211.22 311.07,207.81 311.37,204.86 C311.73,202.14 312.55,201.46 313.26,199.87 C313.77,198.51 314.38,197.60 315.40,197.60 Z"/></clipPath>
<g clip-path="url(#c32)" filter="url(#b3)">
<rect x="305.2" y="201.2" width="20.4" height="22.7" fill="#a184f2"/>
<ellipse cx="315.4" cy="211.2" rx="4.4" ry="9.1" fill="#3a30f4"/>
<ellipse cx="313.6" cy="203.0" rx="1.6" ry="1.4" fill="#e6defa"/>
</g>
<path d="M326.20,197.60 C327.22,197.60 327.83,198.51 328.34,199.87 C329.05,201.46 329.87,202.14 330.23,204.86 C330.53,207.81 331.30,211.22 331.30,215.31 C331.30,218.94 330.58,220.30 328.75,220.30 L323.65,220.30 C321.82,220.30 321.10,218.94 321.10,215.31 C321.10,211.22 321.87,207.81 322.17,204.86 C322.53,202.14 323.35,201.46 324.06,199.87 C324.57,198.51 325.18,197.60 326.20,197.60 Z" fill="url(#gBody)" filter="url(#b5)"/>
<path d="M326.2,219.8 q0.6,2 -0.3,3.6" stroke="#bdbdbd" stroke-width="0.6" fill="none"/>
<clipPath id="c33"><path d="M326.20,197.60 C327.22,197.60 327.83,198.51 328.34,199.87 C329.05,201.46 329.87,202.14 330.23,204.86 C330.53,207.81 331.30,211.22 331.30,215.31 C331.30,218.94 330.58,220.30 328.75,220.30 L323.65,220.30 C321.82,220.30 321.10,218.94 321.10,215.31 C321.10,211.22 321.87,207.81 322.17,204.86 C322.53,202.14 323.35,201.46 324.06,199.87 C324.57,198.51 325.18,197.60 326.20,197.60 Z"/></clipPath>
<g clip-path="url(#c33)" filter="url(#b3)">
<rect x="316.0" y="201.2" width="20.4" height="22.7" fill="#a184f2"/>
<ellipse cx="326.2" cy="211.2" rx="4.4" ry="9.1" fill="#3a30f4"/>
<ellipse cx="324.4" cy="203.0" rx="1.6" ry="1.4" fill="#e6defa"/>
<ellipse cx="326.2" cy="212.1" rx="2.4" ry="4.5" fill="url(#gCyan)"/>
</g>
<path d="M337.40,197.60 C338.42,197.60 339.03,198.51 339.54,199.87 C340.25,201.46 341.07,202.14 341.43,204.86 C341.73,207.81 342.50,211.22 342.50,215.31 C342.50,218.94 341.78,220.30 339.95,220.30 L334.85,220.30 C333.02,220.30 332.30,218.94 332.30,215.31 C332.30,211.22 333.07,207.81 333.37,204.86 C333.73,202.14 334.55,201.46 335.26,199.87 C335.77,198.51 336.38,197.60 337.40,197.60 Z" fill="url(#gBody)" filter="url(#b5)"/>
<path d="M337.4,219.8 q0.6,2 -0.3,3.6" stroke="#bdbdbd" stroke-width="0.6" fill="none"/>
<clipPath id="c34"><path d="M337.40,197.60 C338.42,197.60 339.03,198.51 339.54,199.87 C340.25,201.46 341.07,202.14 341.43,204.86 C341.73,207.81 342.50,211.22 342.50,215.31 C342.50,218.94 341.78,220.30 339.95,220.30 L334.85,220.30 C333.02,220.30 332.30,218.94 332.30,215.31 C332.30,211.22 333.07,207.81 333.37,204.86 C333.73,202.14 334.55,201.46 335.26,199.87 C335.77,198.51 336.38,197.60 337.40,197.60 Z"/></clipPath>
<g clip-path="url(#c34)" filter="url(#b3)">
<ellipse cx="337.4" cy="212.6" rx="5.1" ry="7.7" fill="#8a5cf0"/>
<ellipse cx="336.8" cy="213.9" rx="3.7" ry="5.0" fill="#3c2cf4"/>
</g>
<path d="M290.80,229.50 C291.82,229.50 292.43,230.37 292.94,231.67 C293.65,233.19 294.47,233.84 294.83,236.44 C295.13,239.26 295.90,242.52 295.90,246.43 C295.90,249.90 295.18,251.20 293.35,251.20 L288.25,251.20 C286.42,251.20 285.70,249.90 285.70,246.43 C285.70,242.52 286.47,239.26 286.77,236.44 C287.13,233.84 287.95,233.19 288.66,231.67 C289.17,230.37 289.78,229.50 290.80,229.50 Z" fill="url(#gBody)" filter="url(#b5)"/>
<path d="M290.8,250.7 q0.6,2 -0.3,3.6" stroke="#bdbdbd" stroke-width="0.6" fill="none"/>
<clipPath id="c35"><path d="M290.80,229.50 C291.82,229.50 292.43,230.37 292.94,231.67 C293.65,233.19 294.47,233.84 294.83,236.44 C295.13,239.26 295.90,242.52 295.90,246.43 C295.90,249.90 295.18,251.20 293.35,251.20 L288.25,251.20 C286.42,251.20 285.70,249.90 285.70,246.43 C285.70,242.52 286.47,239.26 286.77,236.44 C287.13,233.84 287.95,233.19 288.66,231.67 C289.17,230.37 289.78,229.50 290.80,229.50 Z"/></clipPath>
<g clip-path="url(#c35)" filter="url(#b3)">
<rect x="280.6" y="233.0" width="20.4" height="21.7" fill="#a184f2"/>
<ellipse cx="290.8" cy="242.5" rx="4.4" ry="8.7" fill="#3a30f4"/>
<ellipse cx="289.0" cy="234.7" rx="1.6" ry="1.3" fill="#e6defa"/>
<ellipse cx="290.8" cy="243.0" rx="3.9" ry="5.4" fill="url(#gGreen)"/>
</g>
<path d="M301.00,229.50 C302.02,229.50 302.63,230.37 303.14,231.67 C303.85,233.19 304.67,233.84 305.03,236.44 C305.33,239.26 306.10,242.52 306.10,246.43 C306.10,249.90 305.38,251.20 303.55,251.20 L298.45,251.20 C296.62,251.20 295.90,249.90 295.90,246.43 C295.90,242.52 296.67,239.26 296.97,236.44 C297.33,233.84 298.15,233.19 298.86,231.67 C299.37,230.37 299.98,229.50 301.00,229.50 Z" fill="url(#gBody)" filter="url(#b5)"/>
<path d="M301.0,250.7 q0.6,2 -0.3,3.6" stroke="#bdbdbd" stroke-width="0.6" fill="none"/>
<clipPath id="c36"><path d="M301.00,229.50 C302.02,229.50 302.63,230.37 303.14,231.67 C303.85,233.19 304.67,233.84 305.03,236.44 C305.33,239.26 306.10,242.52 306.10,246.43 C306.10,249.90 305.38,251.20 303.55,251.20 L298.45,251.20 C296.62,251.20 295.90,249.90 295.90,246.43 C295.90,242.52 296.67,239.26 296.97,236.44 C297.33,233.84 298.15,233.19 298.86,231.67 C299.37,230.37 299.98,229.50 301.00,229.50 Z"/></clipPath>
<g clip-path="url(#c36)" filter="url(#b3)">
<rect x="290.8" y="233.0" width="20.4" height="21.7" fill="#a184f2"/>
<ellipse cx="301.0" cy="242.5" rx="4.4" ry="8.7" fill="#3a30f4"/>
<ellipse cx="299.2" cy="234.7" rx="1.6" ry="1.3" fill="#e6defa"/>
<ellipse cx="301.0" cy="243.0" rx="3.9" ry="5.4" fill="url(#gGreen)"/>
</g>
<path d="M326.20,229.50 C327.22,229.50 327.83,230.37 328.34,231.67 C329.05,233.19 329.87,233.84 330.23,236.44 C330.53,239.26 331.30,242.52 331.30,246.43 C331.30,249.90 330.58,251.20 328.75,251.20 L323.65,251.20 C321.82,251.20 321.10,249.90 321.10,246.43 C321.10,242.52 321.87,239.26 322.17,236.44 C322.53,233.84 323.35,233.19 324.06,231.67 C324.57,230.37 325.18,229.50 326.20,229.50 Z" fill="url(#gBody)" filter="url(#b5)"/>
<path d="M326.2,250.7 q0.6,2 -0.3,3.6" stroke="#bdbdbd" stroke-width="0.6" fill="none"/>
<clipPath id="c37"><path d="M326.20,229.50 C327.22,229.50 327.83,230.37 328.34,231.67 C329.05,233.19 329.87,233.84 330.23,236.44 C330.53,239.26 331.30,242.52 331.30,246.43 C331.30,249.90 330.58,251.20 328.75,251.20 L323.65,251.20 C321.82,251.20 321.10,249.90 321.10,246.43 C321.10,242.52 321.87,239.26 322.17,236.44 C322.53,233.84 323.35,233.19 324.06,231.67 C324.57,230.37 325.18,229.50 326.20,229.50 Z"/></clipPath>
<g clip-path="url(#c37)" filter="url(#b3)">
<rect x="316.0" y="233.0" width="20.4" height="21.7" fill="#a184f2"/>
<ellipse cx="326.2" cy="242.5" rx="4.4" ry="8.7" fill="#3a30f4"/>
<ellipse cx="324.4" cy="234.7" rx="1.6" ry="1.3" fill="#e6defa"/>
<ellipse cx="326.2" cy="243.4" rx="2.4" ry="4.3" fill="url(#gCyan)"/>
</g>
<path d="M338.00,229.50 C339.02,229.50 339.63,230.37 340.14,231.67 C340.85,233.19 341.67,233.84 342.03,236.44 C342.33,239.26 343.10,242.52 343.10,246.43 C343.10,249.90 342.38,251.20 340.55,251.20 L335.45,251.20 C333.62,251.20 332.90,249.90 332.90,246.43 C332.90,242.52 333.67,239.26 333.97,236.44 C334.33,233.84 335.15,233.19 335.86,231.67 C336.37,230.37 336.98,229.50 338.00,229.50 Z" fill="url(#gBody)" filter="url(#b5)"/>
<path d="M338.0,250.7 q0.6,2 -0.3,3.6" stroke="#bdbdbd" stroke-width="0.6" fill="none"/>
<clipPath id="c38"><path d="M338.00,229.50 C339.02,229.50 339.63,230.37 340.14,231.67 C340.85,233.19 341.67,233.84 342.03,236.44 C342.33,239.26 343.10,242.52 343.10,246.43 C343.10,249.90 342.38,251.20 340.55,251.20 L335.45,251.20 C333.62,251.20 332.90,249.90 332.90,246.43 C332.90,242.52 333.67,239.26 333.97,236.44 C334.33,233.84 335.15,233.19 335.86,231.67 C336.37,230.37 336.98,229.50 338.00,229.50 Z"/></clipPath>
<g clip-path="url(#c38)" filter="url(#b3)">
<rect x="327.8" y="233.0" width="20.4" height="21.7" fill="#a184f2"/>
<ellipse cx="338.0" cy="242.5" rx="4.4" ry="8.7" fill="#3a30f4"/>
<ellipse cx="336.2" cy="234.7" rx="1.6" ry="1.3" fill="#e6defa"/>
</g>
<rect x="308.4" y="258.5" width="37.1" height="31.0" fill="#2c2c2c"/>
<path d="M325.70,261.50 C326.72,261.50 327.33,262.44 327.84,263.85 C328.55,265.50 329.37,266.20 329.73,269.02 C330.03,272.07 330.80,275.60 330.80,279.83 C330.80,283.59 330.08,285.00 328.25,285.00 L323.15,285.00 C321.32,285.00 320.60,283.59 320.60,279.83 C320.60,275.60 321.37,272.07 321.67,269.02 C322.03,266.20 322.85,265.50 323.56,263.85 C324.07,262.44 324.68,261.50 325.70,261.50 Z" fill="url(#gBody)" filter="url(#b5)"/>
<path d="M325.7,284.5 q0.6,2 -0.3,3.6" stroke="#bdbdbd" stroke-width="0.6" fill="none"/>
<clipPath id="c39"><path d="M325.70,261.50 C326.72,261.50 327.33,262.44 327.84,263.85 C328.55,265.50 329.37,266.20 329.73,269.02 C330.03,272.07 330.80,275.60 330.80,279.83 C330.80,283.59 330.08,285.00 328.25,285.00 L323.15,285.00 C321.32,285.00 320.60,283.59 320.60,279.83 C320.60,275.60 321.37,272.07 321.67,269.02 C322.03,266.20 322.85,265.50 323.56,263.85 C324.07,262.44 324.68,261.50 325.70,261.50 Z"/></clipPath>
<g filter="url(#b6)">
<ellipse cx="325.7" cy="272.3" rx="5.7" ry="11.8" fill="#3a34f4"/>
<ellipse cx="325.7" cy="267.6" rx="4.1" ry="5.6" fill="url(#gGreen)"/>
</g>
<g filter="url(#b3)">
<circle cx="325.7" cy="276.5" r="6.2" fill="#2838fa"/>
<circle cx="325.7" cy="276.5" r="5.8" fill="#22d0f0"/>
<circle cx="325.7" cy="276.5" r="5.5" fill="#40ee50"/>
<circle cx="325.7" cy="276.5" r="5.2" fill="#f6e424"/>
<circle cx="325.7" cy="276.5" r="4.8" fill="#ff1414"/>
</g>
<path d="M337.00,261.50 C338.02,261.50 338.63,262.44 339.14,263.85 C339.85,265.50 340.67,266.20 341.03,269.02 C341.33,272.07 342.10,275.60 342.10,279.83 C342.10,283.59 341.38,285.00 339.55,285.00 L334.45,285.00 C332.62,285.00 331.90,283.59 331.90,279.83 C331.90,275.60 332.67,272.07 332.97,269.02 C333.33,266.20 334.15,265.50 334.86,263.85 C335.37,262.44 335.98,261.50 337.00,261.50 Z" fill="url(#gBody)" filter="url(#b5)"/>
<path d="M337.0,284.5 q0.6,2 -0.3,3.6" stroke="#bdbdbd" stroke-width="0.6" fill="none"/>
<clipPath id="c40"><path d="M337.00,261.50 C338.02,261.50 338.63,262.44 339.14,263.85 C339.85,265.50 340.67,266.20 341.03,269.02 C341.33,272.07 342.10,275.60 342.10,279.83 C342.10,283.59 341.38,285.00 339.55,285.00 L334.45,285.00 C332.62,285.00 331.90,283.59 331.90,279.83 C331.90,275.60 332.67,272.07 332.97,269.02 C333.33,266.20 334.15,265.50 334.86,263.85 C335.37,262.44 335.98,261.50 337.00,261.50 Z"/></clipPath>
<g filter="url(#b6)">
<ellipse cx="337.0" cy="272.3" rx="5.7" ry="11.8" fill="#3a34f4"/>
<ellipse cx="337.0" cy="267.6" rx="4.1" ry="5.6" fill="url(#gGreen)"/>
</g>
<g filter="url(#b3)">
<circle cx="337.0" cy="276.5" r="6.2" fill="#2838fa"/>
<circle cx="337.0" cy="276.5" r="5.8" fill="#22d0f0"/>
<circle cx="337.0" cy="276.5" r="5.5" fill="#40ee50"/>
<circle cx="337.0" cy="276.5" r="5.2" fill="#f6e424"/>
<circle cx="337.0" cy="276.5" r="4.8" fill="#ff1414"/>
</g>
<rect x="350.1" y="44.5" width="26.9" height="24.0" fill="#262626"/>
<rect x="350.1" y="63.9" width="26.9" height="2.2" fill="#3c3c3c"/>
<rect x="350.1" y="66.1" width="26.9" height="2.4" fill="#141414"/>
<rect x="378.0" y="44.5" width="36.4" height="24.0" fill="#262626"/>
<rect x="378.0" y="63.9" width="36.4" height="2.2" fill="#3c3c3c"/>
<rect x="378.0" y="66.1" width="36.4" height="2.4" fill="#141414"/>
<rect x="350.1" y="70.2" width="26.9" height="27.6" fill="#262626"/>
<rect x="350.1" y="93.2" width="26.9" height="2.2" fill="#3c3c3c"/>
<rect x="350.1" y="95.4" width="26.9" height="2.4" fill="#141414"/>
<rect x="378.0" y="70.2" width="36.4" height="27.6" fill="#262626"/>
<rect x="378.0" y="93.2" width="36.4" height="2.2" fill="#3c3c3c"/>
<rect x="378.0" y="95.4" width="36.4" height="2.4" fill="#141414"/>
<rect x="350.1" y="100.0" width="26.9" height="29.8" fill="#262626"/>
<rect x="350.1" y="125.2" width="26.9" height="2.2" fill="#3c3c3c"/>
<rect x="350.1" y="127.4" width="26.9" height="2.4" fill="#141414"/>
<rect x="378.0" y="100.0" width="36.4" height="29.8" fill="#262626"/>
<rect x="378.0" y="125.2" width="36.4" height="2.2" fill="#3c3c3c"/>
<rect x="378.0" y="127.4" width="36.4" height="2.4" fill="#141414"/>
<rect x="350.1" y="132.7" width="26.9" height="29.0" fill="#262626"/>
<rect x="350.1" y="157.1" width="26.9" height="2.2" fill="#3c3c3c"/>
<rect x="350.1" y="159.3" width="26.9" height="2.4" fill="#141414"/>
<rect x="378.0" y="132.7" width="36.4" height="29.0" fill="#262626"/>
<rect x="378.0" y="157.1" width="36.4" height="2.2" fill="#3c3c3c"/>
<rect x="378.0" y="159.3" width="36.4" height="2.4" fill="#141414"/>
<rect x="350.1" y="164.0" width="26.9" height="28.7" fill="#262626"/>
<rect x="350.1" y="188.1" width="26.9" height="2.2" fill="#3c3c3c"/>
<rect x="350.1" y="190.3" width="26.9" height="2.4" fill="#141414"/>
<rect x="378.0" y="164.0" width="36.4" height="28.7" fill="#262626"/>
<rect x="378.0" y="188.1" width="36.4" height="2.2" fill="#3c3c3c"/>
<rect x="378.0" y="190.3" width="36.4" height="2.4" fill="#141414"/>
<rect x="350.1" y="195.6" width="26.9" height="29.1" fill="#2b2b2b"/>
<rect x="378.0" y="195.6" width="36.4" height="29.1" fill="#2b2b2b"/>
<path d="M358.80,46.30 C360.47,46.30 361.14,47.23 361.14,48.72 C361.14,50.21 363.92,50.02 364.37,52.25 C364.70,54.48 364.15,56.34 363.48,57.46 C363.92,60.81 363.81,64.90 361.03,64.90 L356.57,64.90 C353.79,64.90 353.68,60.81 354.12,57.46 C353.45,56.34 352.90,54.48 353.23,52.25 C353.68,50.02 356.46,50.21 356.46,48.72 C356.46,47.23 357.13,46.30 358.80,46.30 Z" fill="url(#gBody)" filter="url(#b5)"/>
<path d="M358.8,64.4 q0.6,2 -0.3,3.6" stroke="#bdbdbd" stroke-width="0.6" fill="none"/>
<path d="M354.8,63.7 l-1.0,2.4 M362.8,63.7 l1.0,2.4" stroke="#a8a8a8" stroke-width="1.1" fill="none" filter="url(#b3)"/>
<clipPath id="c41"><path d="M358.80,46.30 C360.47,46.30 361.14,47.23 361.14,48.72 C361.14,50.21 363.92,50.02 364.37,52.25 C364.70,54.48 364.15,56.34 363.48,57.46 C363.92,60.81 363.81,64.90 361.03,64.90 L356.57,64.90 C353.79,64.90 353.68,60.81 354.12,57.46 C353.45,56.34 352.90,54.48 353.23,52.25 C353.68,50.02 356.46,50.21 356.46,48.72 C356.46,47.23 357.13,46.30 358.80,46.30 Z"/></clipPath>
<g clip-path="url(#c41)" filter="url(#b3)">
<rect x="347.7" y="50.8" width="22.3" height="6.1" fill="#6c2cf0"/>
<rect x="347.7" y="50.0" width="22.3" height="0.9" fill="#b59af5"/>
<rect x="347.7" y="56.7" width="22.3" height="0.9" fill="#c9b6f7"/>
</g>
<path d="M369.80,46.30 C371.47,46.30 372.14,47.23 372.14,48.72 C372.14,50.21 374.92,50.02 375.37,52.25 C375.70,54.48 375.15,56.34 374.48,57.46 C374.92,60.81 374.81,64.90 372.03,64.90 L367.57,64.90 C364.79,64.90 364.68,60.81 365.12,57.46 C364.45,56.34 363.90,54.48 364.23,52.25 C364.68,50.02 367.46,50.21 367.46,48.72 C367.46,47.23 368.13,46.30 369.80,46.30 Z" fill="url(#gBody)" filter="url(#b5)"/>
<path d="M369.8,64.4 q0.6,2 -0.3,3.6" stroke="#bdbdbd" stroke-width="0.6" fill="none"/>
<path d="M365.8,63.7 l-1.0,2.4 M373.8,63.7 l1.0,2.4" stroke="#a8a8a8" stroke-width="1.1" fill="none" filter="url(#b3)"/>
<clipPath id="c42"><path d="M369.80,46.30 C371.47,46.30 372.14,47.23 372.14,48.72 C372.14,50.21 374.92,50.02 375.37,52.25 C375.70,54.48 375.15,56.34 374.48,57.46 C374.92,60.81 374.81,64.90 372.03,64.90 L367.57,64.90 C364.79,64.90 364.68,60.81 365.12,57.46 C364.45,56.34 363.90,54.48 364.23,52.25 C364.68,50.02 367.46,50.21 367.46,48.72 C367.46,47.23 368.13,46.30 369.80,46.30 Z"/></clipPath>
<g clip-path="url(#c42)" filter="url(#b3)">
<rect x="358.7" y="50.8" width="22.3" height="6.1" fill="#6c2cf0"/>
<rect x="358.7" y="50.0" width="22.3" height="0.9" fill="#b59af5"/>
<rect x="358.7" y="56.7" width="22.3" height="0.9" fill="#c9b6f7"/>
</g>
<path d="M385.20,46.30 C386.87,46.30 387.54,47.23 387.54,48.72 C387.54,50.21 390.32,50.02 390.77,52.25 C391.10,54.48 390.55,56.34 389.88,57.46 C390.32,60.81 390.21,64.90 387.43,64.90 L382.97,64.90 C380.19,64.90 380.08,60.81 380.52,57.46 C379.85,56.34 379.30,54.48 379.63,52.25 C380.08,50.02 382.86,50.21 382.86,48.72 C382.86,47.23 383.53,46.30 385.20,46.30 Z" fill="url(#gBody)" filter="url(#b5)"/>
<path d="M385.2,64.4 q0.6,2 -0.3,3.6" stroke="#bdbdbd" stroke-width="0.6" fill="none"/>
<path d="M381.2,63.7 l-1.0,2.4 M389.2,63.7 l1.0,2.4" stroke="#a8a8a8" stroke-width="1.1" fill="none" filter="url(#b3)"/>
<clipPath id="c43"><path d="M385.20,46.30 C386.87,46.30 387.54,47.23 387.54,48.72 C387.54,50.21 390.32,50.02 390.77,52.25 C391.10,54.48 390.55,56.34 389.88,57.46 C390.32,60.81 390.21,64.90 387.43,64.90 L382.97,64.90 C380.19,64.90 380.08,60.81 380.52,57.46 C379.85,56.34 379.30,54.48 379.63,52.25 C380.08,50.02 382.86,50.21 382.86,48.72 C382.86,47.23 383.53,46.30 385.20,46.30 Z"/></clipPath>
<g clip-path="url(#c43)" filter="url(#b3)">
<rect x="374.1" y="50.8" width="22.3" height="6.1" fill="#6c2cf0"/>
<rect x="374.1" y="50.0" width="22.3" height="0.9" fill="#b59af5"/>
<rect x="374.1" y="56.7" width="22.3" height="0.9" fill="#c9b6f7"/>
</g>
<path d="M396.10,46.30 C397.77,46.30 398.44,47.23 398.44,48.72 C398.44,50.21 401.22,50.02 401.67,52.25 C402.00,54.48 401.45,56.34 400.78,57.46 C401.22,60.81 401.11,64.90 398.33,64.90 L393.87,64.90 C391.09,64.90 390.98,60.81 391.42,57.46 C390.75,56.34 390.20,54.48 390.53,52.25 C390.98,50.02 393.76,50.21 393.76,48.72 C393.76,47.23 394.43,46.30 396.10,46.30 Z" fill="url(#gBody)" filter="url(#b5)"/>
<path d="M396.1,64.4 q0.6,2 -0.3,3.6" stroke="#bdbdbd" stroke-width="0.6" fill="none"/>
<path d="M392.1,63.7 l-1.0,2.4 M400.1,63.7 l1.0,2.4" stroke="#a8a8a8" stroke-width="1.1" fill="none" filter="url(#b3)"/>
<clipPath id="c44"><path d="M396.10,46.30 C397.77,46.30 398.44,47.23 398.44,48.72 C398.44,50.21 401.22,50.02 401.67,52.25 C402.00,54.48 401.45,56.34 400.78,57.46 C401.22,60.81 401.11,64.90 398.33,64.90 L393.87,64.90 C391.09,64.90 390.98,60.81 391.42,57.46 C390.75,56.34 390.20,54.48 390.53,52.25 C390.98,50.02 393.76,50.21 393.76,48.72 C393.76,47.23 394.43,46.30 396.10,46.30 Z"/></clipPath>
<g clip-path="url(#c44)" filter="url(#b3)">
<rect x="385.0" y="50.8" width="22.3" height="6.1" fill="#6c2cf0"/>
<rect x="385.0" y="50.0" width="22.3" height="0.9" fill="#b59af5"/>
<rect x="385.0" y="56.7" width="22.3" height="0.9" fill="#c9b6f7"/>
</g>
<path d="M407.10,46.30 C408.77,46.30 409.44,47.23 409.44,48.72 C409.44,50.21 412.22,50.02 412.67,52.25 C413.00,54.48 412.45,56.34 411.78,57.46 C412.22,60.81 412.11,64.90 409.33,64.90 L404.87,64.90 C402.09,64.90 401.98,60.81 402.42,57.46 C401.75,56.34 401.20,54.48 401.53,52.25 C401.98,50.02 404.76,50.21 404.76,48.72 C404.76,47.23 405.43,46.30 407.10,46.30 Z" fill="url(#gBody)" filter="url(#b5)"/>
<path d="M407.1,64.4 q0.6,2 -0.3,3.6" stroke="#bdbdbd" stroke-width="0.6" fill="none"/>
<path d="M403.1,63.7 l-1.0,2.4 M411.1,63.7 l1.0,2.4" stroke="#a8a8a8" stroke-width="1.1" fill="none" filter="url(#b3)"/>
<clipPath id="c45"><path d="M407.10,46.30 C408.77,46.30 409.44,47.23 409.44,48.72 C409.44,50.21 412.22,50.02 412.67,52.25 C413.00,54.48 412.45,56.34 411.78,57.46 C412.22,60.81 412.11,64.90 409.33,64.90 L404.87,64.90 C402.09,64.90 401.98,60.81 402.42,57.46 C401.75,56.34 401.20,54.48 401.53,52.25 C401.98,50.02 404.76,50.21 404.76,48.72 C404.76,47.23 405.43,46.30 407.10,46.30 Z"/></clipPath>
<g clip-path="url(#c45)" filter="url(#b3)">
<rect x="396.0" y="50.8" width="22.3" height="6.1" fill="#6c2cf0"/>
<rect x="396.0" y="50.0" width="22.3" height="0.9" fill="#b59af5"/>
<rect x="396.0" y="56.7" width="22.3" height="0.9" fill="#c9b6f7"/>
</g>
<path d="M359.50,72.20 C360.46,72.20 361.04,73.03 361.52,74.28 C362.19,75.74 362.96,76.36 363.29,78.86 C363.58,81.56 364.30,84.68 364.30,88.42 C364.30,91.75 363.63,93.00 361.90,93.00 L357.10,93.00 C355.37,93.00 354.70,91.75 354.70,88.42 C354.70,84.68 355.42,81.56 355.71,78.86 C356.04,76.36 356.81,75.74 357.48,74.28 C357.96,73.03 358.54,72.20 359.50,72.20 Z" fill="url(#gBody)" filter="url(#b5)"/>
<path d="M359.5,92.5 q0.6,2 -0.3,3.6" stroke="#bdbdbd" stroke-width="0.6" fill="none"/>
<path d="M356.0,91.8 l-1.0,2.4 M363.0,91.8 l1.0,2.4" stroke="#a8a8a8" stroke-width="1.1" fill="none" filter="url(#b3)"/>
<path d="M370.00,72.20 C370.96,72.20 371.54,73.03 372.02,74.28 C372.69,75.74 373.46,76.36 373.79,78.86 C374.08,81.56 374.80,84.68 374.80,88.42 C374.80,91.75 374.13,93.00 372.40,93.00 L367.60,93.00 C365.87,93.00 365.20,91.75 365.20,88.42 C365.20,84.68 365.92,81.56 366.21,78.86 C366.54,76.36 367.31,75.74 367.98,74.28 C368.46,73.03 369.04,72.20 370.00,72.20 Z" fill="url(#gBody)" filter="url(#b5)"/>
<path d="M370.0,92.5 q0.6,2 -0.3,3.6" stroke="#bdbdbd" stroke-width="0.6" fill="none"/>
<path d="M366.5,91.8 l-1.0,2.4 M373.5,91.8 l1.0,2.4" stroke="#a8a8a8" stroke-width="1.1" fill="none" filter="url(#b3)"/>
<path d="M385.20,72.20 C386.16,72.20 386.74,73.03 387.22,74.28 C387.89,75.74 388.66,76.36 388.99,78.86 C389.28,81.56 390.00,84.68 390.00,88.42 C390.00,91.75 389.33,93.00 387.60,93.00 L382.80,93.00 C381.07,93.00 380.40,91.75 380.40,88.42 C380.40,84.68 381.12,81.56 381.41,78.86 C381.74,76.36 382.51,75.74 383.18,74.28 C383.66,73.03 384.24,72.20 385.20,72.20 Z" fill="url(#gBody)" filter="url(#b5)"/>
<path d="M385.2,92.5 q0.6,2 -0.3,3.6" stroke="#bdbdbd" stroke-width="0.6" fill="none"/>
<path d="M381.7,91.8 l-1.0,2.4 M388.7,91.8 l1.0,2.4" stroke="#a8a8a8" stroke-width="1.1" fill="none" filter="url(#b3)"/>
<path d="M395.70,72.20 C396.66,72.20 397.24,73.03 397.72,74.28 C398.39,75.74 399.16,76.36 399.49,78.86 C399.78,81.56 400.50,84.68 400.50,88.42 C400.50,91.75 399.83,93.00 398.10,93.00 L393.30,93.00 C391.57,93.00 390.90,91.75 390.90,88.42 C390.90,84.68 391.62,81.56 391.91,78.86 C392.24,76.36 393.01,75.74 393.68,74.28 C394.16,73.03 394.74,72.20 395.70,72.20 Z" fill="url(#gBody)" filter="url(#b5)"/>
<path d="M395.7,92.5 q0.6,2 -0.3,3.6" stroke="#bdbdbd" stroke-width="0.6" fill="none"/>
<path d="M392.2,91.8 l-1.0,2.4 M399.2,91.8 l1.0,2.4" stroke="#a8a8a8" stroke-width="1.1" fill="none" filter="url(#b3)"/>
<path d="M407.00,72.20 C407.96,72.20 408.54,73.03 409.02,74.28 C409.69,75.74 410.46,76.36 410.79,78.86 C411.08,81.56 411.80,84.68 411.80,88.42 C411.80,91.75 411.13,93.00 409.40,93.00 L404.60,93.00 C402.87,93.00 402.20,91.75 402.20,88.42 C402.20,84.68 402.92,81.56 403.21,78.86 C403.54,76.36 404.31,75.74 404.98,74.28 C405.46,73.03 406.04,72.20 407.00,72.20 Z" fill="url(#gBody)" filter="url(#b5)"/>
<path d="M407.0,92.5 q0.6,2 -0.3,3.6" stroke="#bdbdbd" stroke-width="0.6" fill="none"/>
<path d="M403.5,91.8 l-1.0,2.4 M410.5,91.8 l1.0,2.4" stroke="#a8a8a8" stroke-width="1.1" fill="none" filter="url(#b3)"/>
<path d="M359.30,102.40 C360.26,102.40 360.84,103.28 361.32,104.60 C361.99,106.14 362.76,106.80 363.09,109.44 C363.38,112.30 364.10,115.60 364.10,119.56 C364.10,123.08 363.43,124.40 361.70,124.40 L356.90,124.40 C355.17,124.40 354.50,123.08 354.50,119.56 C354.50,115.60 355.22,112.30 355.51,109.44 C355.84,106.80 356.61,106.14 357.28,104.60 C357.76,103.28 358.34,102.40 359.30,102.40 Z" fill="url(#gBody)" filter="url(#b5)"/>
<path d="M359.3,123.9 q0.6,2 -0.3,3.6" stroke="#bdbdbd" stroke-width="0.6" fill="none"/>
<path d="M355.8,123.2 l-1.0,2.4 M362.8,123.2 l1.0,2.4" stroke="#a8a8a8" stroke-width="1.1" fill="none" filter="url(#b3)"/>
<path d="M369.30,102.40 C370.26,102.40 370.84,103.28 371.32,104.60 C371.99,106.14 372.76,106.80 373.09,109.44 C373.38,112.30 374.10,115.60 374.10,119.56 C374.10,123.08 373.43,124.40 371.70,124.40 L366.90,124.40 C365.17,124.40 364.50,123.08 364.50,119.56 C364.50,115.60 365.22,112.30 365.51,109.44 C365.84,106.80 366.61,106.14 367.28,104.60 C367.76,103.28 368.34,102.40 369.30,102.40 Z" fill="url(#gBody)" filter="url(#b5)"/>
<path d="M369.3,123.9 q0.6,2 -0.3,3.6" stroke="#bdbdbd" stroke-width="0.6" fill="none"/>
<path d="M365.8,123.2 l-1.0,2.4 M372.8,123.2 l1.0,2.4" stroke="#a8a8a8" stroke-width="1.1" fill="none" filter="url(#b3)"/>
<path d="M384.50,102.40 C385.46,102.40 386.04,103.28 386.52,104.60 C387.19,106.14 387.96,106.80 388.29,109.44 C388.58,112.30 389.30,115.60 389.30,119.56 C389.30,123.08 388.63,124.40 386.90,124.40 L382.10,124.40 C380.37,124.40 379.70,123.08 379.70,119.56 C379.70,115.60 380.42,112.30 380.71,109.44 C381.04,106.80 381.81,106.14 382.48,104.60 C382.96,103.28 383.54,102.40 384.50,102.40 Z" fill="url(#gBody)" filter="url(#b5)"/>
<path d="M384.5,123.9 q0.6,2 -0.3,3.6" stroke="#bdbdbd" stroke-width="0.6" fill="none"/>
<path d="M381.0,123.2 l-1.0,2.4 M388.0,123.2 l1.0,2.4" stroke="#a8a8a8" stroke-width="1.1" fill="none" filter="url(#b3)"/>
<path d="M395.40,102.40 C396.36,102.40 396.94,103.28 397.42,104.60 C398.09,106.14 398.86,106.80 399.19,109.44 C399.48,112.30 400.20,115.60 400.20,119.56 C400.20,123.08 399.53,124.40 397.80,124.40 L393.00,124.40 C391.27,124.40 390.60,123.08 390.60,119.56 C390.60,115.60 391.32,112.30 391.61,109.44 C391.94,106.80 392.71,106.14 393.38,104.60 C393.86,103.28 394.44,102.40 395.40,102.40 Z" fill="url(#gBody)" filter="url(#b5)"/>
<path d="M395.4,123.9 q0.6,2 -0.3,3.6" stroke="#bdbdbd" stroke-width="0.6" fill="none"/>
<path d="M391.9,123.2 l-1.0,2.4 M398.9,123.2 l1.0,2.4" stroke="#a8a8a8" stroke-width="1.1" fill="none" filter="url(#b3)"/>
<path d="M407.80,102.40 C408.76,102.40 409.34,103.28 409.82,104.60 C410.49,106.14 411.26,106.80 411.59,109.44 C411.88,112.30 412.60,115.60 412.60,119.56 C412.60,123.08 411.93,124.40 410.20,124.40 L405.40,124.40 C403.67,124.40 403.00,123.08 403.00,119.56 C403.00,115.60 403.72,112.30 404.01,109.44 C404.34,106.80 405.11,106.14 405.78,104.60 C406.26,103.28 406.84,102.40 407.80,102.40 Z" fill="url(#gBody)" filter="url(#b5)"/>
<path d="M407.8,123.9 q0.6,2 -0.3,3.6" stroke="#bdbdbd" stroke-width="0.6" fill="none"/>
<path d="M404.3,123.2 l-1.0,2.4 M411.3,123.2 l1.0,2.4" stroke="#a8a8a8" stroke-width="1.1" fill="none" filter="url(#b3)"/>
<path d="M358.00,134.10 C359.02,134.10 359.63,135.04 360.14,136.46 C360.85,138.11 361.66,138.82 362.02,141.65 C362.32,144.72 363.09,148.26 363.09,152.51 C363.09,156.28 362.38,157.70 360.54,157.70 L355.46,157.70 C353.62,157.70 352.91,156.28 352.91,152.51 C352.91,148.26 353.68,144.72 353.98,141.65 C354.34,138.82 355.15,138.11 355.86,136.46 C356.37,135.04 356.98,134.10 358.00,134.10 Z" fill="url(#gBody)" filter="url(#b5)"/>
<path d="M358.0,157.2 q0.6,2 -0.3,3.6" stroke="#bdbdbd" stroke-width="0.6" fill="none"/>
<path d="M354.3,156.5 l-1.0,2.4 M361.7,156.5 l1.0,2.4" stroke="#a8a8a8" stroke-width="1.1" fill="none" filter="url(#b3)"/>
<clipPath id="c46"><path d="M358.00,134.10 C359.02,134.10 359.63,135.04 360.14,136.46 C360.85,138.11 361.66,138.82 362.02,141.65 C362.32,144.72 363.09,148.26 363.09,152.51 C363.09,156.28 362.38,157.70 360.54,157.70 L355.46,157.70 C353.62,157.70 352.91,156.28 352.91,152.51 C352.91,148.26 353.68,144.72 353.98,141.65 C354.34,138.82 355.15,138.11 355.86,136.46 C356.37,135.04 356.98,134.10 358.00,134.10 Z"/></clipPath>
<g clip-path="url(#c46)" filter="url(#b3)">
<ellipse cx="358.0" cy="151.6" rx="4.0" ry="5.7" fill="#7a48ea"/>
<ellipse cx="358.0" cy="151.8" rx="2.7" ry="4.5" fill="#2c2cf8"/>
</g>
<path d="M369.30,134.10 C370.32,134.10 370.93,135.04 371.44,136.46 C372.15,138.11 372.96,138.82 373.32,141.65 C373.62,144.72 374.39,148.26 374.39,152.51 C374.39,156.28 373.68,157.70 371.84,157.70 L366.76,157.70 C364.92,157.70 364.21,156.28 364.21,152.51 C364.21,148.26 364.98,144.72 365.28,141.65 C365.64,138.82 366.45,138.11 367.16,136.46 C367.67,135.04 368.28,134.10 369.30,134.10 Z" fill="url(#gBody)" filter="url(#b5)"/>
<path d="M369.3,157.2 q0.6,2 -0.3,3.6" stroke="#bdbdbd" stroke-width="0.6" fill="none"/>
<path d="M365.6,156.5 l-1.0,2.4 M373.0,156.5 l1.0,2.4" stroke="#a8a8a8" stroke-width="1.1" fill="none" filter="url(#b3)"/>
<path d="M383.30,134.10 C384.32,134.10 384.93,135.04 385.44,136.46 C386.15,138.11 386.96,138.82 387.32,141.65 C387.62,144.72 388.39,148.26 388.39,152.51 C388.39,156.28 387.68,157.70 385.84,157.70 L380.76,157.70 C378.92,157.70 378.21,156.28 378.21,152.51 C378.21,148.26 378.98,144.72 379.28,141.65 C379.64,138.82 380.45,138.11 381.16,136.46 C381.67,135.04 382.28,134.10 383.30,134.10 Z" fill="url(#gBody)" filter="url(#b5)"/>
<path d="M383.3,157.2 q0.6,2 -0.3,3.6" stroke="#bdbdbd" stroke-width="0.6" fill="none"/>
<path d="M379.6,156.5 l-1.0,2.4 M387.0,156.5 l1.0,2.4" stroke="#a8a8a8" stroke-width="1.1" fill="none" filter="url(#b3)"/>
<path d="M395.00,134.10 C396.02,134.10 396.63,135.04 397.14,136.46 C397.85,138.11 398.66,138.82 399.02,141.65 C399.32,144.72 400.09,148.26 400.09,152.51 C400.09,156.28 399.38,157.70 397.54,157.70 L392.46,157.70 C390.62,157.70 389.91,156.28 389.91,152.51 C389.91,148.26 390.68,144.72 390.98,141.65 C391.34,138.82 392.15,138.11 392.86,136.46 C393.37,135.04 393.98,134.10 395.00,134.10 Z" fill="url(#gBody)" filter="url(#b5)"/>
<path d="M395.0,157.2 q0.6,2 -0.3,3.6" stroke="#bdbdbd" stroke-width="0.6" fill="none"/>
<path d="M391.3,156.5 l-1.0,2.4 M398.7,156.5 l1.0,2.4" stroke="#a8a8a8" stroke-width="1.1" fill="none" filter="url(#b3)"/>
<clipPath id="c47"><path d="M395.00,134.10 C396.02,134.10 396.63,135.04 397.14,136.46 C397.85,138.11 398.66,138.82 399.02,141.65 C399.32,144.72 400.09,148.26 400.09,152.51 C400.09,156.28 399.38,157.70 397.54,157.70 L392.46,157.70 C390.62,157.70 389.91,156.28 389.91,152.51 C389.91,148.26 390.68,144.72 390.98,141.65 C391.34,138.82 392.15,138.11 392.86,136.46 C393.37,135.04 393.98,134.10 395.00,134.10 Z"/></clipPath>
<g clip-path="url(#c47)" filter="url(#b3)">
<ellipse cx="395.0" cy="151.6" rx="4.0" ry="5.7" fill="#7a48ea"/>
<ellipse cx="395.0" cy="151.8" rx="2.7" ry="4.5" fill="#2c2cf8"/>
</g>
<path d="M406.00,134.10 C407.02,134.10 407.63,135.04 408.14,136.46 C408.85,138.11 409.66,138.82 410.02,141.65 C410.32,144.72 411.09,148.26 411.09,152.51 C411.09,156.28 410.38,157.70 408.54,157.70 L403.46,157.70 C401.62,157.70 400.91,156.28 400.91,152.51 C400.91,148.26 401.68,144.72 401.98,141.65 C402.34,138.82 403.15,138.11 403.86,136.46 C404.37,135.04 404.98,134.10 406.00,134.10 Z" fill="url(#gBody)" filter="url(#b5)"/>
<path d="M406.0,157.2 q0.6,2 -0.3,3.6" stroke="#bdbdbd" stroke-width="0.6" fill="none"/>
<path d="M402.3,156.5 l-1.0,2.4 M409.7,156.5 l1.0,2.4" stroke="#a8a8a8" stroke-width="1.1" fill="none" filter="url(#b3)"/>
<path d="M358.00,165.40 C359.02,165.40 359.63,166.33 360.14,167.73 C360.85,169.36 361.66,170.06 362.02,172.86 C362.32,175.88 363.09,179.38 363.09,183.57 C363.09,187.30 362.38,188.70 360.54,188.70 L355.46,188.70 C353.62,188.70 352.91,187.30 352.91,183.57 C352.91,179.38 353.68,175.88 353.98,172.86 C354.34,170.06 355.15,169.36 355.86,167.73 C356.37,166.33 356.98,165.40 358.00,165.40 Z" fill="url(#gBody)" filter="url(#b5)"/>
<path d="M358.0,188.2 q0.6,2 -0.3,3.6" stroke="#bdbdbd" stroke-width="0.6" fill="none"/>
<path d="M354.3,187.5 l-1.0,2.4 M361.7,187.5 l1.0,2.4" stroke="#a8a8a8" stroke-width="1.1" fill="none" filter="url(#b3)"/>
<clipPath id="c48"><path d="M358.00,165.40 C359.02,165.40 359.63,166.33 360.14,167.73 C360.85,169.36 361.66,170.06 362.02,172.86 C362.32,175.88 363.09,179.38 363.09,183.57 C363.09,187.30 362.38,188.70 360.54,188.70 L355.46,188.70 C353.62,188.70 352.91,187.30 352.91,183.57 C352.91,179.38 353.68,175.88 353.98,172.86 C354.34,170.06 355.15,169.36 355.86,167.73 C356.37,166.33 356.98,165.40 358.00,165.40 Z"/></clipPath>
<g clip-path="url(#c48)" filter="url(#b3)">
<ellipse cx="358.0" cy="182.6" rx="4.4" ry="7.5" fill="#7a48ea"/>
<ellipse cx="358.0" cy="182.9" rx="3.2" ry="6.0" fill="#2c2cf8"/>
</g>
<path d="M369.30,165.40 C370.32,165.40 370.93,166.33 371.44,167.73 C372.15,169.36 372.96,170.06 373.32,172.86 C373.62,175.88 374.39,179.38 374.39,183.57 C374.39,187.30 373.68,188.70 371.84,188.70 L366.76,188.70 C364.92,188.70 364.21,187.30 364.21,183.57 C364.21,179.38 364.98,175.88 365.28,172.86 C365.64,170.06 366.45,169.36 367.16,167.73 C367.67,166.33 368.28,165.40 369.30,165.40 Z" fill="url(#gBody)" filter="url(#b5)"/>
<path d="M369.3,188.2 q0.6,2 -0.3,3.6" stroke="#bdbdbd" stroke-width="0.6" fill="none"/>
<path d="M365.6,187.5 l-1.0,2.4 M373.0,187.5 l1.0,2.4" stroke="#a8a8a8" stroke-width="1.1" fill="none" filter="url(#b3)"/>
<clipPath id="c49"><path d="M369.30,165.40 C370.32,165.40 370.93,166.33 371.44,167.73 C372.15,169.36 372.96,170.06 373.32,172.86 C373.62,175.88 374.39,179.38 374.39,183.57 C374.39,187.30 373.68,188.70 371.84,188.70 L366.76,188.70 C364.92,188.70 364.21,187.30 364.21,183.57 C364.21,179.38 364.98,175.88 365.28,172.86 C365.64,170.06 366.45,169.36 367.16,167.73 C367.67,166.33 368.28,165.40 369.30,165.40 Z"/></clipPath>
<g clip-path="url(#c49)" filter="url(#b3)">
<ellipse cx="369.3" cy="182.6" rx="4.0" ry="5.6" fill="#7a48ea"/>
<ellipse cx="369.3" cy="182.9" rx="2.7" ry="4.5" fill="#2c2cf8"/>
</g>
<path d="M383.30,165.40 C384.32,165.40 384.93,166.33 385.44,167.73 C386.15,169.36 386.96,170.06 387.32,172.86 C387.62,175.88 388.39,179.38 388.39,183.57 C388.39,187.30 387.68,188.70 385.84,188.70 L380.76,188.70 C378.92,188.70 378.21,187.30 378.21,183.57 C378.21,179.38 378.98,175.88 379.28,172.86 C379.64,170.06 380.45,169.36 381.16,167.73 C381.67,166.33 382.28,165.40 383.30,165.40 Z" fill="url(#gBody)" filter="url(#b5)"/>
<path d="M383.3,188.2 q0.6,2 -0.3,3.6" stroke="#bdbdbd" stroke-width="0.6" fill="none"/>
<path d="M379.6,187.5 l-1.0,2.4 M387.0,187.5 l1.0,2.4" stroke="#a8a8a8" stroke-width="1.1" fill="none" filter="url(#b3)"/>
<clipPath id="c50"><path d="M383.30,165.40 C384.32,165.40 384.93,166.33 385.44,167.73 C386.15,169.36 386.96,170.06 387.32,172.86 C387.62,175.88 388.39,179.38 388.39,183.57 C388.39,187.30 387.68,188.70 385.84,188.70 L380.76,188.70 C378.92,188.70 378.21,187.30 378.21,183.57 C378.21,179.38 378.98,175.88 379.28,172.86 C379.64,170.06 380.45,169.36 381.16,167.73 C381.67,166.33 382.28,165.40 383.30,165.40 Z"/></clipPath>
<g clip-path="url(#c50)" filter="url(#b3)">
<ellipse cx="383.3" cy="182.6" rx="4.0" ry="5.6" fill="#7a48ea"/>
<ellipse cx="383.3" cy="182.9" rx="2.7" ry="4.5" fill="#2c2cf8"/>
</g>
<path d="M395.00,165.40 C396.02,165.40 396.63,166.33 397.14,167.73 C397.85,169.36 398.66,170.06 399.02,172.86 C399.32,175.88 400.09,179.38 400.09,183.57 C400.09,187.30 399.38,188.70 397.54,188.70 L392.46,188.70 C390.62,188.70 389.91,187.30 389.91,183.57 C389.91,179.38 390.68,175.88 390.98,172.86 C391.34,170.06 392.15,169.36 392.86,167.73 C393.37,166.33 393.98,165.40 395.00,165.40 Z" fill="url(#gBody)" filter="url(#b5)"/>
<path d="M395.0,188.2 q0.6,2 -0.3,3.6" stroke="#bdbdbd" stroke-width="0.6" fill="none"/>
<path d="M391.3,187.5 l-1.0,2.4 M398.7,187.5 l1.0,2.4" stroke="#a8a8a8" stroke-width="1.1" fill="none" filter="url(#b3)"/>
<clipPath id="c51"><path d="M395.00,165.40 C396.02,165.40 396.63,166.33 397.14,167.73 C397.85,169.36 398.66,170.06 399.02,172.86 C399.32,175.88 400.09,179.38 400.09,183.57 C400.09,187.30 399.38,188.70 397.54,188.70 L392.46,188.70 C390.62,188.70 389.91,187.30 389.91,183.57 C389.91,179.38 390.68,175.88 390.98,172.86 C391.34,170.06 392.15,169.36 392.86,167.73 C393.37,166.33 393.98,165.40 395.00,165.40 Z"/></clipPath>
<g clip-path="url(#c51)" filter="url(#b3)">
<ellipse cx="395.0" cy="182.6" rx="4.4" ry="7.5" fill="#7a48ea"/>
<ellipse cx="395.0" cy="182.9" rx="3.2" ry="6.0" fill="#2c2cf8"/>
</g>
<path d="M406.00,165.40 C407.02,165.40 407.63,166.33 408.14,167.73 C408.85,169.36 409.66,170.06 410.02,172.86 C410.32,175.88 411.09,179.38 411.09,183.57 C411.09,187.30 410.38,188.70 408.54,188.70 L403.46,188.70 C401.62,188.70 400.91,187.30 400.91,183.57 C400.91,179.38 401.68,175.88 401.98,172.86 C402.34,170.06 403.15,169.36 403.86,167.73 C404.37,166.33 404.98,165.40 406.00,165.40 Z" fill="url(#gBody)" filter="url(#b5)"/>
<path d="M406.0,188.2 q0.6,2 -0.3,3.6" stroke="#bdbdbd" stroke-width="0.6" fill="none"/>
<path d="M402.3,187.5 l-1.0,2.4 M409.7,187.5 l1.0,2.4" stroke="#a8a8a8" stroke-width="1.1" fill="none" filter="url(#b3)"/>
<clipPath id="c52"><path d="M406.00,165.40 C407.02,165.40 407.63,166.33 408.14,167.73 C408.85,169.36 409.66,170.06 410.02,172.86 C410.32,175.88 411.09,179.38 411.09,183.57 C411.09,187.30 410.38,188.70 408.54,188.70 L403.46,188.70 C401.62,188.70 400.91,187.30 400.91,183.57 C400.91,179.38 401.68,175.88 401.98,172.86 C402.34,170.06 403.15,169.36 403.86,167.73 C404.37,166.33 404.98,165.40 406.00,165.40 Z"/></clipPath>
<g clip-path="url(#c52)" filter="url(#b3)">
<ellipse cx="406.0" cy="182.6" rx="4.0" ry="5.6" fill="#7a48ea"/>
<ellipse cx="406.0" cy="182.9" rx="2.7" ry="4.5" fill="#2c2cf8"/>
</g>
<path d="M369.30,197.80 C370.32,197.80 370.93,198.70 371.44,200.05 C372.15,201.62 372.97,202.30 373.33,205.00 C373.63,207.92 374.40,211.30 374.40,215.35 C374.40,218.95 373.68,220.30 371.85,220.30 L366.75,220.30 C364.92,220.30 364.20,218.95 364.20,215.35 C364.20,211.30 364.97,207.92 365.27,205.00 C365.63,202.30 366.45,201.62 367.16,200.05 C367.67,198.70 368.28,197.80 369.30,197.80 Z" fill="url(#gBody)" filter="url(#b5)"/>
<path d="M369.3,219.8 q0.6,2 -0.3,3.6" stroke="#bdbdbd" stroke-width="0.6" fill="none"/>
<clipPath id="c53"><path d="M369.30,197.80 C370.32,197.80 370.93,198.70 371.44,200.05 C372.15,201.62 372.97,202.30 373.33,205.00 C373.63,207.92 374.40,211.30 374.40,215.35 C374.40,218.95 373.68,220.30 371.85,220.30 L366.75,220.30 C364.92,220.30 364.20,218.95 364.20,215.35 C364.20,211.30 364.97,207.92 365.27,205.00 C365.63,202.30 366.45,201.62 367.16,200.05 C367.67,198.70 368.28,197.80 369.30,197.80 Z"/></clipPath>
<g clip-path="url(#c53)" filter="url(#b3)">
<rect x="359.1" y="201.4" width="20.4" height="22.5" fill="#a184f2"/>
<ellipse cx="369.3" cy="211.3" rx="4.4" ry="9.0" fill="#3a30f4"/>
<ellipse cx="367.5" cy="203.2" rx="1.6" ry="1.3" fill="#e6defa"/>
<ellipse cx="369.3" cy="212.2" rx="2.4" ry="4.5" fill="url(#gCyan)"/>
</g>
<path d="M384.50,197.80 C385.52,197.80 386.13,198.70 386.64,200.05 C387.35,201.62 388.17,202.30 388.53,205.00 C388.83,207.92 389.60,211.30 389.60,215.35 C389.60,218.95 388.88,220.30 387.05,220.30 L381.95,220.30 C380.12,220.30 379.40,218.95 379.40,215.35 C379.40,211.30 380.17,207.92 380.47,205.00 C380.83,202.30 381.65,201.62 382.36,200.05 C382.87,198.70 383.48,197.80 384.50,197.80 Z" fill="url(#gBody)" filter="url(#b5)"/>
<path d="M384.5,219.8 q0.6,2 -0.3,3.6" stroke="#bdbdbd" stroke-width="0.6" fill="none"/>
<clipPath id="c54"><path d="M384.50,197.80 C385.52,197.80 386.13,198.70 386.64,200.05 C387.35,201.62 388.17,202.30 388.53,205.00 C388.83,207.92 389.60,211.30 389.60,215.35 C389.60,218.95 388.88,220.30 387.05,220.30 L381.95,220.30 C380.12,220.30 379.40,218.95 379.40,215.35 C379.40,211.30 380.17,207.92 380.47,205.00 C380.83,202.30 381.65,201.62 382.36,200.05 C382.87,198.70 383.48,197.80 384.50,197.80 Z"/></clipPath>
<g clip-path="url(#c54)" filter="url(#b3)">
<rect x="374.3" y="201.4" width="20.4" height="22.5" fill="#a184f2"/>
<ellipse cx="384.5" cy="211.3" rx="4.4" ry="9.0" fill="#3a30f4"/>
<ellipse cx="382.7" cy="203.2" rx="1.6" ry="1.3" fill="#e6defa"/>
<ellipse cx="384.5" cy="212.2" rx="2.4" ry="4.5" fill="url(#gCyan)"/>
</g>
<path d="M395.40,197.80 C396.42,197.80 397.03,198.70 397.54,200.05 C398.25,201.62 399.07,202.30 399.43,205.00 C399.73,207.92 400.50,211.30 400.50,215.35 C400.50,218.95 399.78,220.30 397.95,220.30 L392.85,220.30 C391.02,220.30 390.30,218.95 390.30,215.35 C390.30,211.30 391.07,207.92 391.37,205.00 C391.73,202.30 392.55,201.62 393.26,200.05 C393.77,198.70 394.38,197.80 395.40,197.80 Z" fill="url(#gBody)" filter="url(#b5)"/>
<path d="M395.4,219.8 q0.6,2 -0.3,3.6" stroke="#bdbdbd" stroke-width="0.6" fill="none"/>
<clipPath id="c55"><path d="M395.40,197.80 C396.42,197.80 397.03,198.70 397.54,200.05 C398.25,201.62 399.07,202.30 399.43,205.00 C399.73,207.92 400.50,211.30 400.50,215.35 C400.50,218.95 399.78,220.30 397.95,220.30 L392.85,220.30 C391.02,220.30 390.30,218.95 390.30,215.35 C390.30,211.30 391.07,207.92 391.37,205.00 C391.73,202.30 392.55,201.62 393.26,200.05 C393.77,198.70 394.38,197.80 395.40,197.80 Z"/></clipPath>
<g clip-path="url(#c55)" filter="url(#b3)">
<rect x="385.2" y="201.4" width="20.4" height="22.5" fill="#a184f2"/>
<ellipse cx="395.4" cy="211.3" rx="4.4" ry="9.0" fill="#3a30f4"/>
<ellipse cx="393.6" cy="203.2" rx="1.6" ry="1.3" fill="#e6defa"/>
<ellipse cx="395.4" cy="211.7" rx="3.9" ry="5.6" fill="url(#gGreen)"/>
</g>
<path d="M405.40,197.80 C406.42,197.80 407.03,198.70 407.54,200.05 C408.25,201.62 409.07,202.30 409.43,205.00 C409.73,207.92 410.50,211.30 410.50,215.35 C410.50,218.95 409.78,220.30 407.95,220.30 L402.85,220.30 C401.02,220.30 400.30,218.95 400.30,215.35 C400.30,211.30 401.07,207.92 401.37,205.00 C401.73,202.30 402.55,201.62 403.26,200.05 C403.77,198.70 404.38,197.80 405.40,197.80 Z" fill="url(#gBody)" filter="url(#b5)"/>
<path d="M405.4,219.8 q0.6,2 -0.3,3.6" stroke="#bdbdbd" stroke-width="0.6" fill="none"/>
<clipPath id="c56"><path d="M405.40,197.80 C406.42,197.80 407.03,198.70 407.54,200.05 C408.25,201.62 409.07,202.30 409.43,205.00 C409.73,207.92 410.50,211.30 410.50,215.35 C410.50,218.95 409.78,220.30 407.95,220.30 L402.85,220.30 C401.02,220.30 400.30,218.95 400.30,215.35 C400.30,211.30 401.07,207.92 401.37,205.00 C401.73,202.30 402.55,201.62 403.26,200.05 C403.77,198.70 404.38,197.80 405.40,197.80 Z"/></clipPath>
<g clip-path="url(#c56)" filter="url(#b3)">
<rect x="395.2" y="201.4" width="20.4" height="22.5" fill="#a184f2"/>
<ellipse cx="405.4" cy="211.3" rx="4.4" ry="9.0" fill="#3a30f4"/>
<ellipse cx="403.6" cy="203.2" rx="1.6" ry="1.3" fill="#e6defa"/>
</g>
<rect x="364.1" y="227.3" width="25.7" height="28.3" fill="#2a2a2a"/>
<path d="M371.20,229.50 C372.20,229.50 372.80,230.37 373.30,231.67 C374.00,233.19 374.80,233.84 375.15,236.44 C375.45,239.26 376.20,242.52 376.20,246.43 C376.20,249.90 375.50,251.20 373.70,251.20 L368.70,251.20 C366.90,251.20 366.20,249.90 366.20,246.43 C366.20,242.52 366.95,239.26 367.25,236.44 C367.60,233.84 368.40,233.19 369.10,231.67 C369.60,230.37 370.20,229.50 371.20,229.50 Z" fill="url(#gBody)" filter="url(#b5)"/>
<path d="M371.2,250.7 q0.6,2 -0.3,3.6" stroke="#bdbdbd" stroke-width="0.6" fill="none"/>
<clipPath id="c57"><path d="M371.20,229.50 C372.20,229.50 372.80,230.37 373.30,231.67 C374.00,233.19 374.80,233.84 375.15,236.44 C375.45,239.26 376.20,242.52 376.20,246.43 C376.20,249.90 375.50,251.20 373.70,251.20 L368.70,251.20 C366.90,251.20 366.20,249.90 366.20,246.43 C366.20,242.52 366.95,239.26 367.25,236.44 C367.60,233.84 368.40,233.19 369.10,231.67 C369.60,230.37 370.20,229.50 371.20,229.50 Z"/></clipPath>
<g clip-path="url(#c57)" filter="url(#b3)">
<rect x="361.2" y="233.0" width="20.0" height="21.7" fill="#a184f2"/>
<ellipse cx="371.2" cy="242.5" rx="4.3" ry="8.7" fill="#3a30f4"/>
<ellipse cx="369.4" cy="234.7" rx="1.6" ry="1.3" fill="#e6defa"/>
<ellipse cx="371.2" cy="243.4" rx="2.4" ry="4.3" fill="url(#gCyan)"/>
</g>
<path d="M383.30,229.50 C384.30,229.50 384.90,230.37 385.40,231.67 C386.10,233.19 386.90,233.84 387.25,236.44 C387.55,239.26 388.30,242.52 388.30,246.43 C388.30,249.90 387.60,251.20 385.80,251.20 L380.80,251.20 C379.00,251.20 378.30,249.90 378.30,246.43 C378.30,242.52 379.05,239.26 379.35,236.44 C379.70,233.84 380.50,233.19 381.20,231.67 C381.70,230.37 382.30,229.50 383.30,229.50 Z" fill="url(#gBody)" filter="url(#b5)"/>
<path d="M383.3,250.7 q0.6,2 -0.3,3.6" stroke="#bdbdbd" stroke-width="0.6" fill="none"/>
<clipPath id="c58"><path d="M383.30,229.50 C384.30,229.50 384.90,230.37 385.40,231.67 C386.10,233.19 386.90,233.84 387.25,236.44 C387.55,239.26 388.30,242.52 388.30,246.43 C388.30,249.90 387.60,251.20 385.80,251.20 L380.80,251.20 C379.00,251.20 378.30,249.90 378.30,246.43 C378.30,242.52 379.05,239.26 379.35,236.44 C379.70,233.84 380.50,233.19 381.20,231.67 C381.70,230.37 382.30,229.50 383.30,229.50 Z"/></clipPath>
<g clip-path="url(#c58)" filter="url(#b3)">
<rect x="373.3" y="233.0" width="20.0" height="21.7" fill="#a184f2"/>
<ellipse cx="383.3" cy="242.5" rx="4.3" ry="8.7" fill="#3a30f4"/>
<ellipse cx="381.5" cy="234.7" rx="1.6" ry="1.3" fill="#e6defa"/>
<ellipse cx="383.3" cy="243.0" rx="3.8" ry="5.4" fill="url(#gGreen)"/>
</g>
<rect x="376.8" y="259.2" width="15.5" height="31.7" fill="#2a2a2a"/>
<path d="M384.80,262.50 C385.84,262.50 386.46,263.46 386.98,264.90 C387.71,266.58 388.54,267.30 388.90,270.18 C389.21,273.30 389.99,276.90 389.99,281.22 C389.99,285.06 389.27,286.50 387.40,286.50 L382.20,286.50 C380.33,286.50 379.61,285.06 379.61,281.22 C379.61,276.90 380.39,273.30 380.70,270.18 C381.06,267.30 381.89,266.58 382.62,264.90 C383.14,263.46 383.76,262.50 384.80,262.50 Z" fill="url(#gBody)" filter="url(#b5)"/>
<path d="M384.8,286.0 q0.6,2 -0.3,3.6" stroke="#bdbdbd" stroke-width="0.6" fill="none"/>
<clipPath id="c59"><path d="M384.80,262.50 C385.84,262.50 386.46,263.46 386.98,264.90 C387.71,266.58 388.54,267.30 388.90,270.18 C389.21,273.30 389.99,276.90 389.99,281.22 C389.99,285.06 389.27,286.50 387.40,286.50 L382.20,286.50 C380.33,286.50 379.61,285.06 379.61,281.22 C379.61,276.90 380.39,273.30 380.70,270.18 C381.06,267.30 381.89,266.58 382.62,264.90 C383.14,263.46 383.76,262.50 384.80,262.50 Z"/></clipPath>
<g filter="url(#b6)">
<ellipse cx="384.8" cy="275.0" rx="7.7" ry="13.9" fill="#5a30e6"/>
<ellipse cx="384.8" cy="275.5" rx="6.6" ry="12.7" fill="#2838fa"/>
</g>
<g filter="url(#b3)">
<path d="M384.80,263.22 C386.03,263.22 386.76,264.16 387.37,265.57 C388.23,267.22 389.21,267.92 389.64,270.75 C390.01,273.80 390.93,277.33 390.93,281.57 C390.93,285.33 390.07,286.74 387.86,286.74 L381.74,286.74 C379.53,286.74 378.67,285.33 378.67,281.57 C378.67,277.33 379.59,273.80 379.96,270.75 C380.39,267.92 381.37,267.22 382.23,265.57 C382.84,264.16 383.57,263.22 384.80,263.22 Z" fill="#22d0f0"/>
<path d="M384.80,264.04 C385.94,264.04 386.62,264.92 387.19,266.23 C387.99,267.76 388.90,268.42 389.30,271.04 C389.64,273.89 390.50,277.17 390.50,281.10 C390.50,284.60 389.70,285.92 387.65,285.92 L381.95,285.92 C379.90,285.92 379.10,284.60 379.10,281.10 C379.10,277.17 379.96,273.89 380.30,271.04 C380.70,268.42 381.61,267.76 382.41,266.23 C382.98,264.92 383.66,264.04 384.80,264.04 Z" fill="#40ee50"/>
<path d="M384.80,264.87 C385.85,264.87 386.49,265.68 387.01,266.89 C387.75,268.31 388.60,268.91 388.96,271.34 C389.28,273.97 390.07,277.00 390.07,280.64 C390.07,283.88 389.33,285.09 387.44,285.09 L382.16,285.09 C380.27,285.09 379.53,283.88 379.53,280.64 C379.53,277.00 380.32,273.97 380.64,271.34 C381.00,268.91 381.85,268.31 382.59,266.89 C383.11,265.68 383.75,264.87 384.80,264.87 Z" fill="#f6e424"/>
<path d="M384.80,265.81 C385.76,265.81 386.33,266.54 386.81,267.64 C387.48,268.93 388.24,269.48 388.58,271.68 C388.86,274.06 389.58,276.81 389.58,280.12 C389.58,283.05 388.91,284.15 387.19,284.15 L382.41,284.15 C380.69,284.15 380.02,283.05 380.02,280.12 C380.02,276.81 380.74,274.06 381.02,271.68 C381.36,269.48 382.12,268.93 382.79,267.64 C383.27,266.54 383.84,265.81 384.80,265.81 Z" fill="#ff1414"/>
</g>
<rect x="418.3" y="44.5" width="36.3" height="25.7" fill="#262626"/>
<rect x="418.3" y="65.6" width="36.3" height="2.2" fill="#3c3c3c"/>
<rect x="418.3" y="67.8" width="36.3" height="2.4" fill="#141414"/>
<rect x="455.6" y="44.5" width="12.7" height="25.7" fill="#262626"/>
<rect x="455.6" y="65.6" width="12.7" height="2.2" fill="#3c3c3c"/>
<rect x="455.6" y="67.8" width="12.7" height="2.4" fill="#141414"/>
<rect x="418.3" y="70.2" width="36.3" height="27.6" fill="#262626"/>
<rect x="418.3" y="93.2" width="36.3" height="2.2" fill="#3c3c3c"/>
<rect x="418.3" y="95.4" width="36.3" height="2.4" fill="#141414"/>
<rect x="455.6" y="70.2" width="12.7" height="27.6" fill="#262626"/>
<rect x="455.6" y="93.2" width="12.7" height="2.2" fill="#3c3c3c"/>
<rect x="455.6" y="95.4" width="12.7" height="2.4" fill="#141414"/>
<rect x="418.3" y="100.0" width="36.3" height="29.8" fill="#262626"/>
<rect x="418.3" y="125.2" width="36.3" height="2.2" fill="#3c3c3c"/>
<rect x="418.3" y="127.4" width="36.3" height="2.4" fill="#141414"/>
<rect x="455.6" y="100.0" width="12.7" height="29.8" fill="#262626"/>
<rect x="455.6" y="125.2" width="12.7" height="2.2" fill="#3c3c3c"/>
<rect x="455.6" y="127.4" width="12.7" height="2.4" fill="#141414"/>
<rect x="417.3" y="132.7" width="37.3" height="29.0" fill="#262626"/>
<rect x="455.6" y="132.7" width="13.3" height="29.0" fill="#262626"/>
<rect x="417.3" y="164.0" width="37.3" height="28.7" fill="#262626"/>
<rect x="455.6" y="164.0" width="13.3" height="28.7" fill="#262626"/>
<path d="M425.00,46.30 C426.67,46.30 427.34,47.23 427.34,48.72 C427.34,50.21 430.12,50.02 430.57,52.25 C430.90,54.48 430.35,56.34 429.68,57.46 C430.12,60.81 430.01,64.90 427.23,64.90 L422.77,64.90 C419.99,64.90 419.88,60.81 420.32,57.46 C419.65,56.34 419.10,54.48 419.43,52.25 C419.88,50.02 422.66,50.21 422.66,48.72 C422.66,47.23 423.33,46.30 425.00,46.30 Z" fill="url(#gBody)" filter="url(#b5)"/>
<path d="M425.0,64.4 q0.6,2 -0.3,3.6" stroke="#bdbdbd" stroke-width="0.6" fill="none"/>
<path d="M421.0,63.7 l-1.0,2.4 M429.0,63.7 l1.0,2.4" stroke="#a8a8a8" stroke-width="1.1" fill="none" filter="url(#b3)"/>
<clipPath id="c60"><path d="M425.00,46.30 C426.67,46.30 427.34,47.23 427.34,48.72 C427.34,50.21 430.12,50.02 430.57,52.25 C430.90,54.48 430.35,56.34 429.68,57.46 C430.12,60.81 430.01,64.90 427.23,64.90 L422.77,64.90 C419.99,64.90 419.88,60.81 420.32,57.46 C419.65,56.34 419.10,54.48 419.43,52.25 C419.88,50.02 422.66,50.21 422.66,48.72 C422.66,47.23 423.33,46.30 425.00,46.30 Z"/></clipPath>
<g clip-path="url(#c60)" filter="url(#b3)">
<rect x="413.9" y="50.8" width="22.3" height="6.1" fill="#6c2cf0"/>
<rect x="413.9" y="50.0" width="22.3" height="0.9" fill="#b59af5"/>
<rect x="413.9" y="56.7" width="22.3" height="0.9" fill="#c9b6f7"/>
</g>
<path d="M436.30,46.30 C437.97,46.30 438.64,47.23 438.64,48.72 C438.64,50.21 441.42,50.02 441.87,52.25 C442.20,54.48 441.65,56.34 440.98,57.46 C441.42,60.81 441.31,64.90 438.53,64.90 L434.07,64.90 C431.29,64.90 431.18,60.81 431.62,57.46 C430.95,56.34 430.40,54.48 430.73,52.25 C431.18,50.02 433.96,50.21 433.96,48.72 C433.96,47.23 434.63,46.30 436.30,46.30 Z" fill="url(#gBody)" filter="url(#b5)"/>
<path d="M436.3,64.4 q0.6,2 -0.3,3.6" stroke="#bdbdbd" stroke-width="0.6" fill="none"/>
<path d="M432.3,63.7 l-1.0,2.4 M440.3,63.7 l1.0,2.4" stroke="#a8a8a8" stroke-width="1.1" fill="none" filter="url(#b3)"/>
<clipPath id="c61"><path d="M436.30,46.30 C437.97,46.30 438.64,47.23 438.64,48.72 C438.64,50.21 441.42,50.02 441.87,52.25 C442.20,54.48 441.65,56.34 440.98,57.46 C441.42,60.81 441.31,64.90 438.53,64.90 L434.07,64.90 C431.29,64.90 431.18,60.81 431.62,57.46 C430.95,56.34 430.40,54.48 430.73,52.25 C431.18,50.02 433.96,50.21 433.96,48.72 C433.96,47.23 434.63,46.30 436.30,46.30 Z"/></clipPath>
<g clip-path="url(#c61)" filter="url(#b3)">
<rect x="425.2" y="50.8" width="22.3" height="6.1" fill="#6c2cf0"/>
<rect x="425.2" y="50.0" width="22.3" height="0.9" fill="#b59af5"/>
<rect x="425.2" y="56.7" width="22.3" height="0.9" fill="#c9b6f7"/>
</g>
<path d="M447.40,46.30 C449.07,46.30 449.74,47.23 449.74,48.72 C449.74,50.21 452.52,50.02 452.97,52.25 C453.30,54.48 452.75,56.34 452.08,57.46 C452.52,60.81 452.41,64.90 449.63,64.90 L445.17,64.90 C442.39,64.90 442.28,60.81 442.72,57.46 C442.05,56.34 441.50,54.48 441.83,52.25 C442.28,50.02 445.06,50.21 445.06,48.72 C445.06,47.23 445.73,46.30 447.40,46.30 Z" fill="url(#gBody)" filter="url(#b5)"/>
<path d="M447.4,64.4 q0.6,2 -0.3,3.6" stroke="#bdbdbd" stroke-width="0.6" fill="none"/>
<path d="M443.4,63.7 l-1.0,2.4 M451.4,63.7 l1.0,2.4" stroke="#a8a8a8" stroke-width="1.1" fill="none" filter="url(#b3)"/>
<clipPath id="c62"><path d="M447.40,46.30 C449.07,46.30 449.74,47.23 449.74,48.72 C449.74,50.21 452.52,50.02 452.97,52.25 C453.30,54.48 452.75,56.34 452.08,57.46 C452.52,60.81 452.41,64.90 449.63,64.90 L445.17,64.90 C442.39,64.90 442.28,60.81 442.72,57.46 C442.05,56.34 441.50,54.48 441.83,52.25 C442.28,50.02 445.06,50.21 445.06,48.72 C445.06,47.23 445.73,46.30 447.40,46.30 Z"/></clipPath>
<g clip-path="url(#c62)" filter="url(#b3)">
<rect x="436.3" y="50.8" width="22.3" height="6.1" fill="#6c2cf0"/>
<rect x="436.3" y="50.0" width="22.3" height="0.9" fill="#b59af5"/>
<rect x="436.3" y="56.7" width="22.3" height="0.9" fill="#c9b6f7"/>
</g>
<path d="M461.40,46.30 C463.07,46.30 463.74,47.23 463.74,48.72 C463.74,50.21 466.52,50.02 466.97,52.25 C467.30,54.48 466.75,56.34 466.08,57.46 C466.52,60.81 466.41,64.90 463.63,64.90 L459.17,64.90 C456.39,64.90 456.28,60.81 456.72,57.46 C456.05,56.34 455.50,54.48 455.83,52.25 C456.28,50.02 459.06,50.21 459.06,48.72 C459.06,47.23 459.73,46.30 461.40,46.30 Z" fill="url(#gBody)" filter="url(#b5)"/>
<path d="M461.4,64.4 q0.6,2 -0.3,3.6" stroke="#bdbdbd" stroke-width="0.6" fill="none"/>
<path d="M457.4,63.7 l-1.0,2.4 M465.4,63.7 l1.0,2.4" stroke="#a8a8a8" stroke-width="1.1" fill="none" filter="url(#b3)"/>
<clipPath id="c63"><path d="M461.40,46.30 C463.07,46.30 463.74,47.23 463.74,48.72 C463.74,50.21 466.52,50.02 466.97,52.25 C467.30,54.48 466.75,56.34 466.08,57.46 C466.52,60.81 466.41,64.90 463.63,64.90 L459.17,64.90 C456.39,64.90 456.28,60.81 456.72,57.46 C456.05,56.34 455.50,54.48 455.83,52.25 C456.28,50.02 459.06,50.21 459.06,48.72 C459.06,47.23 459.73,46.30 461.40,46.30 Z"/></clipPath>
<g clip-path="url(#c63)" filter="url(#b3)">
<rect x="450.3" y="50.8" width="22.3" height="6.1" fill="#6c2cf0"/>
<rect x="450.3" y="50.0" width="22.3" height="0.9" fill="#b59af5"/>
<rect x="450.3" y="56.7" width="22.3" height="0.9" fill="#c9b6f7"/>
</g>
<path d="M426.00,72.20 C426.98,72.20 427.57,73.03 428.06,74.28 C428.74,75.74 429.53,76.36 429.87,78.86 C430.16,81.56 430.90,84.68 430.90,88.42 C430.90,91.75 430.21,93.00 428.45,93.00 L423.55,93.00 C421.79,93.00 421.10,91.75 421.10,88.42 C421.10,84.68 421.84,81.56 422.13,78.86 C422.47,76.36 423.26,75.74 423.94,74.28 C424.43,73.03 425.02,72.20 426.00,72.20 Z" fill="url(#gBody)" filter="url(#b5)"/>
<path d="M426.0,92.5 q0.6,2 -0.3,3.6" stroke="#bdbdbd" stroke-width="0.6" fill="none"/>
<path d="M422.5,91.8 l-1.0,2.4 M429.5,91.8 l1.0,2.4" stroke="#a8a8a8" stroke-width="1.1" fill="none" filter="url(#b3)"/>
<path d="M437.20,72.20 C438.18,72.20 438.77,73.03 439.26,74.28 C439.94,75.74 440.73,76.36 441.07,78.86 C441.36,81.56 442.10,84.68 442.10,88.42 C442.10,91.75 441.41,93.00 439.65,93.00 L434.75,93.00 C432.99,93.00 432.30,91.75 432.30,88.42 C432.30,84.68 433.04,81.56 433.33,78.86 C433.67,76.36 434.46,75.74 435.14,74.28 C435.63,73.03 436.22,72.20 437.20,72.20 Z" fill="url(#gBody)" filter="url(#b5)"/>
<path d="M437.2,92.5 q0.6,2 -0.3,3.6" stroke="#bdbdbd" stroke-width="0.6" fill="none"/>
<path d="M433.7,91.8 l-1.0,2.4 M440.7,91.8 l1.0,2.4" stroke="#a8a8a8" stroke-width="1.1" fill="none" filter="url(#b3)"/>
<path d="M448.40,72.20 C449.38,72.20 449.97,73.03 450.46,74.28 C451.14,75.74 451.93,76.36 452.27,78.86 C452.56,81.56 453.30,84.68 453.30,88.42 C453.30,91.75 452.61,93.00 450.85,93.00 L445.95,93.00 C444.19,93.00 443.50,91.75 443.50,88.42 C443.50,84.68 444.24,81.56 444.53,78.86 C444.87,76.36 445.66,75.74 446.34,74.28 C446.83,73.03 447.42,72.20 448.40,72.20 Z" fill="url(#gBody)" filter="url(#b5)"/>
<path d="M448.4,92.5 q0.6,2 -0.3,3.6" stroke="#bdbdbd" stroke-width="0.6" fill="none"/>
<path d="M444.9,91.8 l-1.0,2.4 M451.9,91.8 l1.0,2.4" stroke="#a8a8a8" stroke-width="1.1" fill="none" filter="url(#b3)"/>
<path d="M461.40,72.20 C462.38,72.20 462.97,73.03 463.46,74.28 C464.14,75.74 464.93,76.36 465.27,78.86 C465.56,81.56 466.30,84.68 466.30,88.42 C466.30,91.75 465.61,93.00 463.85,93.00 L458.95,93.00 C457.19,93.00 456.50,91.75 456.50,88.42 C456.50,84.68 457.24,81.56 457.53,78.86 C457.87,76.36 458.66,75.74 459.34,74.28 C459.83,73.03 460.42,72.20 461.40,72.20 Z" fill="url(#gBody)" filter="url(#b5)"/>
<path d="M461.4,92.5 q0.6,2 -0.3,3.6" stroke="#bdbdbd" stroke-width="0.6" fill="none"/>
<path d="M457.9,91.8 l-1.0,2.4 M464.9,91.8 l1.0,2.4" stroke="#a8a8a8" stroke-width="1.1" fill="none" filter="url(#b3)"/>
<path d="M424.10,102.40 C425.06,102.40 425.64,103.28 426.12,104.60 C426.79,106.14 427.56,106.80 427.89,109.44 C428.18,112.30 428.90,115.60 428.90,119.56 C428.90,123.08 428.23,124.40 426.50,124.40 L421.70,124.40 C419.97,124.40 419.30,123.08 419.30,119.56 C419.30,115.60 420.02,112.30 420.31,109.44 C420.64,106.80 421.41,106.14 422.08,104.60 C422.56,103.28 423.14,102.40 424.10,102.40 Z" fill="url(#gBody)" filter="url(#b5)"/>
<path d="M424.1,123.9 q0.6,2 -0.3,3.6" stroke="#bdbdbd" stroke-width="0.6" fill="none"/>
<path d="M420.6,123.2 l-1.0,2.4 M427.6,123.2 l1.0,2.4" stroke="#a8a8a8" stroke-width="1.1" fill="none" filter="url(#b3)"/>
<path d="M435.50,102.40 C436.46,102.40 437.04,103.28 437.52,104.60 C438.19,106.14 438.96,106.80 439.29,109.44 C439.58,112.30 440.30,115.60 440.30,119.56 C440.30,123.08 439.63,124.40 437.90,124.40 L433.10,124.40 C431.37,124.40 430.70,123.08 430.70,119.56 C430.70,115.60 431.42,112.30 431.71,109.44 C432.04,106.80 432.81,106.14 433.48,104.60 C433.96,103.28 434.54,102.40 435.50,102.40 Z" fill="url(#gBody)" filter="url(#b5)"/>
<path d="M435.5,123.9 q0.6,2 -0.3,3.6" stroke="#bdbdbd" stroke-width="0.6" fill="none"/>
<path d="M432.0,123.2 l-1.0,2.4 M439.0,123.2 l1.0,2.4" stroke="#a8a8a8" stroke-width="1.1" fill="none" filter="url(#b3)"/>
<path d="M446.70,102.40 C447.66,102.40 448.24,103.28 448.72,104.60 C449.39,106.14 450.16,106.80 450.49,109.44 C450.78,112.30 451.50,115.60 451.50,119.56 C451.50,123.08 450.83,124.40 449.10,124.40 L444.30,124.40 C442.57,124.40 441.90,123.08 441.90,119.56 C441.90,115.60 442.62,112.30 442.91,109.44 C443.24,106.80 444.01,106.14 444.68,104.60 C445.16,103.28 445.74,102.40 446.70,102.40 Z" fill="url(#gBody)" filter="url(#b5)"/>
<path d="M446.7,123.9 q0.6,2 -0.3,3.6" stroke="#bdbdbd" stroke-width="0.6" fill="none"/>
<path d="M443.2,123.2 l-1.0,2.4 M450.2,123.2 l1.0,2.4" stroke="#a8a8a8" stroke-width="1.1" fill="none" filter="url(#b3)"/>
<path d="M461.20,102.40 C462.16,102.40 462.74,103.28 463.22,104.60 C463.89,106.14 464.66,106.80 464.99,109.44 C465.28,112.30 466.00,115.60 466.00,119.56 C466.00,123.08 465.33,124.40 463.60,124.40 L458.80,124.40 C457.07,124.40 456.40,123.08 456.40,119.56 C456.40,115.60 457.12,112.30 457.41,109.44 C457.74,106.80 458.51,106.14 459.18,104.60 C459.66,103.28 460.24,102.40 461.20,102.40 Z" fill="url(#gBody)" filter="url(#b5)"/>
<path d="M461.2,123.9 q0.6,2 -0.3,3.6" stroke="#bdbdbd" stroke-width="0.6" fill="none"/>
<path d="M457.7,123.2 l-1.0,2.4 M464.7,123.2 l1.0,2.4" stroke="#a8a8a8" stroke-width="1.1" fill="none" filter="url(#b3)"/>
<path d="M424.10,134.10 C425.16,134.10 425.79,135.13 426.32,136.68 C427.06,138.49 427.91,139.26 428.28,142.36 C428.60,145.71 429.39,149.58 429.39,154.22 C429.39,158.35 428.65,159.90 426.75,159.90 L421.45,159.90 C419.55,159.90 418.81,158.35 418.81,154.22 C418.81,149.58 419.60,145.71 419.92,142.36 C420.29,139.26 421.14,138.49 421.88,136.68 C422.41,135.13 423.04,134.10 424.10,134.10 Z" fill="url(#gBody)" filter="url(#b5)"/>
<path d="M424.1,159.4 q0.6,2 -0.3,3.6" stroke="#bdbdbd" stroke-width="0.6" fill="none"/>
<clipPath id="c64"><path d="M424.10,134.10 C425.16,134.10 425.79,135.13 426.32,136.68 C427.06,138.49 427.91,139.26 428.28,142.36 C428.60,145.71 429.39,149.58 429.39,154.22 C429.39,158.35 428.65,159.90 426.75,159.90 L421.45,159.90 C419.55,159.90 418.81,158.35 418.81,154.22 C418.81,149.58 419.60,145.71 419.92,142.36 C420.29,139.26 421.14,138.49 421.88,136.68 C422.41,135.13 423.04,134.10 424.10,134.10 Z"/></clipPath>
<g clip-path="url(#c64)" filter="url(#b3)">
<rect x="413.5" y="136.7" width="21.2" height="25.8" fill="#8048ee"/>
<ellipse cx="424.1" cy="148.5" rx="4.7" ry="10.8" fill="#382ef6"/>
</g>
<path d="M436.20,134.10 C437.26,134.10 437.89,135.13 438.42,136.68 C439.16,138.49 440.01,139.26 440.38,142.36 C440.70,145.71 441.49,149.58 441.49,154.22 C441.49,158.35 440.75,159.90 438.85,159.90 L433.55,159.90 C431.65,159.90 430.91,158.35 430.91,154.22 C430.91,149.58 431.70,145.71 432.02,142.36 C432.39,139.26 433.24,138.49 433.98,136.68 C434.51,135.13 435.14,134.10 436.20,134.10 Z" fill="url(#gBody)" filter="url(#b5)"/>
<path d="M436.2,159.4 q0.6,2 -0.3,3.6" stroke="#bdbdbd" stroke-width="0.6" fill="none"/>
<clipPath id="c65"><path d="M436.20,134.10 C437.26,134.10 437.89,135.13 438.42,136.68 C439.16,138.49 440.01,139.26 440.38,142.36 C440.70,145.71 441.49,149.58 441.49,154.22 C441.49,158.35 440.75,159.90 438.85,159.90 L433.55,159.90 C431.65,159.90 430.91,158.35 430.91,154.22 C430.91,149.58 431.70,145.71 432.02,142.36 C432.39,139.26 433.24,138.49 433.98,136.68 C434.51,135.13 435.14,134.10 436.20,134.10 Z"/></clipPath>
<g clip-path="url(#c65)" filter="url(#b3)">
<rect x="425.6" y="136.7" width="21.2" height="25.8" fill="#8048ee"/>
<ellipse cx="436.2" cy="148.5" rx="4.7" ry="10.8" fill="#382ef6"/>
</g>
<path d="M447.90,134.10 C448.96,134.10 449.59,135.13 450.12,136.68 C450.86,138.49 451.71,139.26 452.08,142.36 C452.40,145.71 453.19,149.58 453.19,154.22 C453.19,158.35 452.45,159.90 450.55,159.90 L445.25,159.90 C443.35,159.90 442.61,158.35 442.61,154.22 C442.61,149.58 443.40,145.71 443.72,142.36 C444.09,139.26 444.94,138.49 445.68,136.68 C446.21,135.13 446.84,134.10 447.90,134.10 Z" fill="url(#gBody)" filter="url(#b5)"/>
<path d="M447.9,159.4 q0.6,2 -0.3,3.6" stroke="#bdbdbd" stroke-width="0.6" fill="none"/>
<clipPath id="c66"><path d="M447.90,134.10 C448.96,134.10 449.59,135.13 450.12,136.68 C450.86,138.49 451.71,139.26 452.08,142.36 C452.40,145.71 453.19,149.58 453.19,154.22 C453.19,158.35 452.45,159.90 450.55,159.90 L445.25,159.90 C443.35,159.90 442.61,158.35 442.61,154.22 C442.61,149.58 443.40,145.71 443.72,142.36 C444.09,139.26 444.94,138.49 445.68,136.68 C446.21,135.13 446.84,134.10 447.90,134.10 Z"/></clipPath>
<g clip-path="url(#c66)" filter="url(#b3)">
<rect x="437.3" y="136.7" width="21.2" height="25.8" fill="#8048ee"/>
<ellipse cx="447.9" cy="148.5" rx="4.7" ry="10.8" fill="#382ef6"/>
</g>
<path d="M461.70,134.10 C462.76,134.10 463.39,135.13 463.92,136.68 C464.66,138.49 465.51,139.26 465.88,142.36 C466.20,145.71 466.99,149.58 466.99,154.22 C466.99,158.35 466.25,159.90 464.35,159.90 L459.05,159.90 C457.15,159.90 456.41,158.35 456.41,154.22 C456.41,149.58 457.20,145.71 457.52,142.36 C457.89,139.26 458.74,138.49 459.48,136.68 C460.01,135.13 460.64,134.10 461.70,134.10 Z" fill="url(#gBody)" filter="url(#b5)"/>
<path d="M461.7,159.4 q0.6,2 -0.3,3.6" stroke="#bdbdbd" stroke-width="0.6" fill="none"/>
<clipPath id="c67"><path d="M461.70,134.10 C462.76,134.10 463.39,135.13 463.92,136.68 C464.66,138.49 465.51,139.26 465.88,142.36 C466.20,145.71 466.99,149.58 466.99,154.22 C466.99,158.35 466.25,159.90 464.35,159.90 L459.05,159.90 C457.15,159.90 456.41,158.35 456.41,154.22 C456.41,149.58 457.20,145.71 457.52,142.36 C457.89,139.26 458.74,138.49 459.48,136.68 C460.01,135.13 460.64,134.10 461.70,134.10 Z"/></clipPath>
<g clip-path="url(#c67)" filter="url(#b3)">
<rect x="451.1" y="136.7" width="21.2" height="25.8" fill="#8048ee"/>
<ellipse cx="461.7" cy="148.5" rx="4.7" ry="10.8" fill="#382ef6"/>
</g>
<path d="M424.10,165.60 C425.04,165.60 425.61,166.62 426.08,168.15 C426.73,169.94 427.49,170.70 427.82,173.76 C428.10,177.07 428.80,180.90 428.80,185.49 C428.80,189.57 428.15,191.10 426.45,191.10 L421.75,191.10 C420.05,191.10 419.40,189.57 419.40,185.49 C419.40,180.90 420.10,177.07 420.38,173.76 C420.71,170.70 421.47,169.94 422.12,168.15 C422.59,166.62 423.16,165.60 424.10,165.60 Z" fill="url(#gBody)" filter="url(#b5)"/>
<path d="M424.1,190.6 q0.6,2 -0.3,3.6" stroke="#bdbdbd" stroke-width="0.6" fill="none"/>
<clipPath id="c68"><path d="M424.10,165.60 C425.04,165.60 425.61,166.62 426.08,168.15 C426.73,169.94 427.49,170.70 427.82,173.76 C428.10,177.07 428.80,180.90 428.80,185.49 C428.80,189.57 428.15,191.10 426.45,191.10 L421.75,191.10 C420.05,191.10 419.40,189.57 419.40,185.49 C419.40,180.90 420.10,177.07 420.38,173.76 C420.71,170.70 421.47,169.94 422.12,168.15 C422.59,166.62 423.16,165.60 424.10,165.60 Z"/></clipPath>
<g clip-path="url(#c68)" filter="url(#b3)">
<rect x="414.7" y="168.2" width="18.8" height="25.5" fill="#8048ee"/>
<ellipse cx="424.1" cy="179.9" rx="4.1" ry="10.7" fill="#382ef6"/>
<ellipse cx="424.1" cy="179.9" rx="3.4" ry="10.2" fill="url(#gGreen)"/>
</g>
<path d="M436.20,165.60 C437.14,165.60 437.71,166.62 438.18,168.15 C438.83,169.94 439.59,170.70 439.92,173.76 C440.20,177.07 440.90,180.90 440.90,185.49 C440.90,189.57 440.25,191.10 438.55,191.10 L433.85,191.10 C432.15,191.10 431.50,189.57 431.50,185.49 C431.50,180.90 432.20,177.07 432.48,173.76 C432.81,170.70 433.57,169.94 434.22,168.15 C434.69,166.62 435.26,165.60 436.20,165.60 Z" fill="url(#gBody)" filter="url(#b5)"/>
<path d="M436.2,190.6 q0.6,2 -0.3,3.6" stroke="#bdbdbd" stroke-width="0.6" fill="none"/>
<clipPath id="c69"><path d="M436.20,165.60 C437.14,165.60 437.71,166.62 438.18,168.15 C438.83,169.94 439.59,170.70 439.92,173.76 C440.20,177.07 440.90,180.90 440.90,185.49 C440.90,189.57 440.25,191.10 438.55,191.10 L433.85,191.10 C432.15,191.10 431.50,189.57 431.50,185.49 C431.50,180.90 432.20,177.07 432.48,173.76 C432.81,170.70 433.57,169.94 434.22,168.15 C434.69,166.62 435.26,165.60 436.20,165.60 Z"/></clipPath>
<g clip-path="url(#c69)" filter="url(#b3)">
<rect x="426.8" y="168.2" width="18.8" height="25.5" fill="#8048ee"/>
<ellipse cx="436.2" cy="179.9" rx="4.1" ry="10.7" fill="#382ef6"/>
<ellipse cx="436.2" cy="180.4" rx="2.8" ry="8.7" fill="url(#gCyan)"/>
</g>
<path d="M447.90,165.60 C448.84,165.60 449.41,166.62 449.88,168.15 C450.53,169.94 451.29,170.70 451.62,173.76 C451.90,177.07 452.60,180.90 452.60,185.49 C452.60,189.57 451.95,191.10 450.25,191.10 L445.55,191.10 C443.85,191.10 443.20,189.57 443.20,185.49 C443.20,180.90 443.90,177.07 444.18,173.76 C444.51,170.70 445.27,169.94 445.92,168.15 C446.39,166.62 446.96,165.60 447.90,165.60 Z" fill="url(#gBody)" filter="url(#b5)"/>
<path d="M447.9,190.6 q0.6,2 -0.3,3.6" stroke="#bdbdbd" stroke-width="0.6" fill="none"/>
<clipPath id="c70"><path d="M447.90,165.60 C448.84,165.60 449.41,166.62 449.88,168.15 C450.53,169.94 451.29,170.70 451.62,173.76 C451.90,177.07 452.60,180.90 452.60,185.49 C452.60,189.57 451.95,191.10 450.25,191.10 L445.55,191.10 C443.85,191.10 443.20,189.57 443.20,185.49 C443.20,180.90 443.90,177.07 444.18,173.76 C444.51,170.70 445.27,169.94 445.92,168.15 C446.39,166.62 446.96,165.60 447.90,165.60 Z"/></clipPath>
<g clip-path="url(#c70)" filter="url(#b3)">
<rect x="438.5" y="168.2" width="18.8" height="25.5" fill="#8048ee"/>
<ellipse cx="447.9" cy="179.9" rx="4.1" ry="10.7" fill="#382ef6"/>
<ellipse cx="447.9" cy="179.9" rx="3.4" ry="10.2" fill="url(#gGreen)"/>
</g>
<path d="M461.70,165.60 C462.64,165.60 463.21,166.62 463.68,168.15 C464.33,169.94 465.09,170.70 465.42,173.76 C465.70,177.07 466.40,180.90 466.40,185.49 C466.40,189.57 465.75,191.10 464.05,191.10 L459.35,191.10 C457.65,191.10 457.00,189.57 457.00,185.49 C457.00,180.90 457.70,177.07 457.98,173.76 C458.31,170.70 459.07,169.94 459.72,168.15 C460.19,166.62 460.76,165.60 461.70,165.60 Z" fill="url(#gBody)" filter="url(#b5)"/>
<path d="M461.7,190.6 q0.6,2 -0.3,3.6" stroke="#bdbdbd" stroke-width="0.6" fill="none"/>
<clipPath id="c71"><path d="M461.70,165.60 C462.64,165.60 463.21,166.62 463.68,168.15 C464.33,169.94 465.09,170.70 465.42,173.76 C465.70,177.07 466.40,180.90 466.40,185.49 C466.40,189.57 465.75,191.10 464.05,191.10 L459.35,191.10 C457.65,191.10 457.00,189.57 457.00,185.49 C457.00,180.90 457.70,177.07 457.98,173.76 C458.31,170.70 459.07,169.94 459.72,168.15 C460.19,166.62 460.76,165.60 461.70,165.60 Z"/></clipPath>
<g clip-path="url(#c71)" filter="url(#b3)">
<rect x="452.3" y="168.2" width="18.8" height="25.5" fill="#8048ee"/>
<ellipse cx="461.7" cy="179.9" rx="4.1" ry="10.7" fill="#382ef6"/>
<ellipse cx="461.7" cy="180.4" rx="2.8" ry="8.7" fill="url(#gCyan)"/>
</g>
<rect x="480.0" y="61.6" width="7.0" height="175.0" fill="url(#cbar)"/>
<path d="M487.0,62.00 h3.0 M487.0,67.92 h1.6 M487.0,73.84 h1.6 M487.0,79.76 h1.6 M487.0,85.68 h1.6 M487.0,91.60 h3.0 M487.0,97.52 h1.6 M487.0,103.44 h1.6 M487.0,109.36 h1.6 M487.0,115.28 h1.6 M487.0,121.20 h3.0 M487.0,127.12 h1.6 M487.0,133.04 h1.6 M487.0,138.96 h1.6 M487.0,144.88 h1.6 M487.0,150.80 h3.0 M487.0,156.72 h1.6 M487.0,162.64 h1.6 M487.0,168.56 h1.6 M487.0,174.48 h1.6 M487.0,180.40 h3.0 M487.0,186.32 h1.6 M487.0,192.24 h1.6 M487.0,198.16 h1.6 M487.0,204.08 h1.6 M487.0,210.00 h3.0 M487.0,215.92 h1.6 M487.0,221.84 h1.6 M487.0,227.76 h1.6 M487.0,233.68 h1.6" stroke="#333" stroke-width="0.6" fill="none"/>
<text x="492.30" y="64.85" font-size="8.0" text-anchor="start" fill="#222" stroke="#222" stroke-width="0.18">3.0</text>
<text x="492.30" y="94.45" font-size="8.0" text-anchor="start" fill="#222" stroke="#222" stroke-width="0.18">2.5</text>
<text x="492.30" y="124.05" font-size="8.0" text-anchor="start" fill="#222" stroke="#222" stroke-width="0.18">2.0</text>
<text x="492.30" y="153.65" font-size="8.0" text-anchor="start" fill="#222" stroke="#222" stroke-width="0.18">1.5</text>
<text x="492.30" y="183.25" font-size="8.0" text-anchor="start" fill="#222" stroke="#222" stroke-width="0.18">1.0</text>
<text x="492.30" y="212.85" font-size="8.0" text-anchor="start" fill="#222" stroke="#222" stroke-width="0.18">0.5</text>
<text x="475.80" y="247.60" font-size="7.2" text-anchor="start" fill="#111">Radiance</text>
<text x="475.8" y="254.4" font-size="7.2" fill="#111">(p/sec/cm<tspan font-size="4.6" dy="-2.4">2</tspan><tspan dy="2.4">/sr)</tspan></text>
<rect x="476.2" y="258.2" width="42.4" height="23.2" fill="#fff" stroke="#222" stroke-width="0.8"/>
<text x="480.20" y="264.00" font-size="5.4" text-anchor="start" fill="#111">Color scale</text>
<text x="480.2" y="270.2" font-size="5.4" fill="#111">Min = 5 ×10<tspan font-size="3.6" dy="-2">6</tspan></text>
<text x="480.2" y="276.8" font-size="5.4" fill="#111">Max = 3 × 10<tspan font-size="3.6" dy="-2">8</tspan></text>
</g>
</svg></body></html>
